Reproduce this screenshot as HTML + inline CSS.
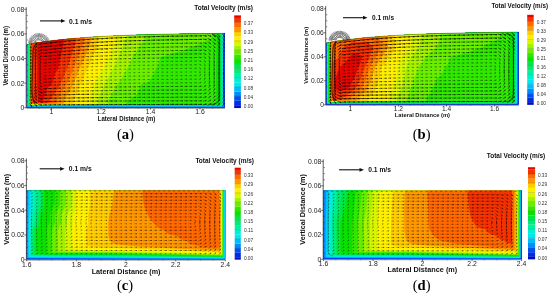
<!DOCTYPE html><html><head><meta charset="utf-8"><style>html,body{margin:0;padding:0;background:#fff;overflow:hidden}svg{display:block;filter:blur(0.35px)}</style></head><body><svg width="550" height="297" viewBox="0 0 550 297"><defs><clipPath id="cla"><polygon points="26.50,44.40 29.81,43.82 33.12,43.28 36.42,42.76 39.73,42.26 43.04,41.79 46.35,41.35 49.66,40.92 52.97,40.52 56.27,40.14 59.58,39.77 62.89,39.43 66.20,39.10 69.51,38.79 72.82,38.49 76.12,38.21 79.43,37.94 82.74,37.68 86.05,37.44 89.36,37.21 92.67,36.99 95.97,36.78 99.28,36.59 102.59,36.40 105.90,36.22 109.21,36.05 112.52,35.89 115.83,35.74 119.13,35.59 122.44,35.45 125.75,35.32 129.06,35.19 132.37,35.08 135.68,34.96 138.98,34.86 142.29,34.75 145.60,34.66 148.91,34.56 152.22,34.48 155.53,34.39 158.83,34.31 162.14,34.24 165.45,34.17 168.76,34.10 172.07,34.04 175.38,33.97 178.68,33.92 181.99,33.86 185.30,33.81 188.61,33.76 191.92,33.71 195.22,33.67 198.53,33.62 201.84,33.58 205.15,33.54 208.46,33.51 211.77,33.47 215.07,33.44 218.38,33.41 221.69,33.38 225.00,33.35 225.00,107.80 26.50,107.80"/></clipPath><clipPath id="clb"><polygon points="326.00,42.95 329.21,42.38 332.43,41.85 335.64,41.34 338.85,40.86 342.07,40.40 345.28,39.97 348.49,39.56 351.71,39.16 354.92,38.79 358.13,38.43 361.35,38.10 364.56,37.78 367.77,37.47 370.99,37.18 374.20,36.91 377.41,36.64 380.63,36.39 383.84,36.16 387.05,35.93 390.27,35.72 393.48,35.52 396.69,35.32 399.91,35.14 403.12,34.97 406.33,34.80 409.55,34.64 412.76,34.49 415.97,34.35 419.19,34.22 422.40,34.09 425.61,33.97 428.83,33.85 432.04,33.74 435.25,33.64 438.47,33.54 441.68,33.44 444.89,33.35 448.11,33.27 451.32,33.19 454.53,33.11 457.75,33.03 460.96,32.97 464.17,32.90 467.39,32.84 470.60,32.78 473.81,32.72 477.03,32.67 480.24,32.61 483.45,32.56 486.67,32.52 489.88,32.47 493.09,32.43 496.31,32.39 499.52,32.35 502.73,32.32 505.95,32.28 509.16,32.25 512.37,32.22 515.59,32.19 518.80,32.16 518.80,104.80 326.00,104.80"/></clipPath><clipPath id="clc"><polygon points="26.70,190.00 30.01,190.00 33.32,190.00 36.63,190.00 39.94,190.00 43.25,190.00 46.56,190.00 49.87,190.00 53.18,190.00 56.49,190.00 59.80,190.00 63.11,190.00 66.42,190.00 69.73,190.00 73.04,190.00 76.35,190.00 79.66,190.00 82.97,190.00 86.28,190.00 89.59,190.00 92.90,190.00 96.21,190.00 99.52,190.00 102.83,190.00 106.14,190.00 109.45,190.00 112.76,190.00 116.07,190.00 119.38,190.00 122.69,190.00 126.00,190.00 129.31,190.00 132.62,190.00 135.93,190.00 139.24,190.00 142.55,190.00 145.86,190.00 149.17,190.00 152.48,190.00 155.79,190.00 159.10,190.00 162.41,190.00 165.72,190.00 169.03,190.00 172.34,190.00 175.65,190.00 178.96,190.00 182.27,190.00 185.58,190.00 188.89,190.00 192.20,190.00 195.51,190.00 198.82,190.00 202.13,190.00 205.44,190.00 208.75,190.00 212.06,190.00 215.37,190.00 218.68,190.00 221.99,190.00 225.30,190.00 225.30,259.60 26.70,259.60"/></clipPath><clipPath id="cld"><polygon points="323.50,190.60 326.81,190.60 330.11,190.60 333.42,190.60 336.72,190.60 340.02,190.60 343.33,190.60 346.63,190.60 349.94,190.60 353.25,190.60 356.55,190.60 359.86,190.60 363.16,190.60 366.46,190.60 369.77,190.60 373.07,190.60 376.38,190.60 379.69,190.60 382.99,190.60 386.29,190.60 389.60,190.60 392.90,190.60 396.21,190.60 399.51,190.60 402.82,190.60 406.12,190.60 409.43,190.60 412.73,190.60 416.04,190.60 419.34,190.60 422.65,190.60 425.95,190.60 429.26,190.60 432.56,190.60 435.87,190.60 439.17,190.60 442.48,190.60 445.78,190.60 449.09,190.60 452.39,190.60 455.70,190.60 459.00,190.60 462.31,190.60 465.61,190.60 468.92,190.60 472.22,190.60 475.53,190.60 478.83,190.60 482.14,190.60 485.44,190.60 488.75,190.60 492.05,190.60 495.36,190.60 498.66,190.60 501.97,190.60 505.27,190.60 508.58,190.60 511.88,190.60 515.19,190.60 518.49,190.60 521.80,190.60 521.80,259.30 323.50,259.30"/></clipPath></defs><rect width="550" height="297" fill="#fff"/><g clip-path="url(#cla)" fill-rule="evenodd"><rect x="26.0" y="31.8" width="199.5" height="76.5" fill="#000ac8"/><path fill="#002de1" d="M26.5 31.8l198.5 0 0 75.5-1.5 .4-196.5 0-.5-.4 0-.5z"/><path fill="#0050f0" d="M26.8 31.8l197.6 0 0 75-.4 .5-1 0-196-.1z"/><path fill="#008cfa" d="M27.2 31.8l196.7 0-.2 75-196.2 .2-.3-1.2z"/><path fill="#00befa" d="M27.5 31.8l195.9 0-.1 74.5-1.3 .3-194 0-.5-.3 0-.5z"/><path fill="#00e6f5" d="M27.8 31.8l195.2 0 0 74-1 .5-194 0-.2-1z"/><path fill="#00f0d2" d="M28 31.8l194.6 0 0 74-1.1 .3-193 0-.5-.3 0-.5z"/><path fill="#00f0a5" d="M28.2 31.8l194.2 0 0 73.5-.3 .5-.6 .1-193 0-.2-.6z"/><path fill="#00ec78" d="M28.5 31.8l193.6 0 0 73.5-4.1 .4-189 0-.5-.4z"/><path fill="#00e846" d="M28.8 31.8l192.6 0-.1 73.5-192.3 .2-.2-.7z"/><path fill="#0ae100" d="M29 31.8l190.7 0 0 73-1.7 .4-5.5 .1-183 0-.5-.5z"/><path fill="#32e800" d="M29.3 31.8l187.4 0-.6 38 0 35-186.6 .2z"/><path fill="#69ee00" d="M29.6 31.8l182.6 0 0 3.5-.2 2.1-1 1.4-8 4.1-19.5 7.4-23.2 7-2.3 8.6-3 4.5-1.7 4.4-1.8 3.2-2 2.3-2 1.6-7.3 3.4-1.7 6.4-1.6 3.1-1.4 1.6-2.1 1.4-6.9 2.5-.1 4-1.7 .5-7.2 .1-87 .1-.8-.2-.1-.5z"/><path fill="#a5f200" d="M29.9 31.8l115.1 0 .3 .5 0 3-1.2 4-1.2 2.5-2.9 3.5-3.9 7-4.1 5-2.5 7.5-3.5 5.4-3.3 6.6-2.7 4-4 4.5-3.5 7.8-4.2 6.7-.2 4.5-14.1 .5-63.5 0-.6-.5z"/><path fill="#d7f600" d="M30.2 31.8l95.8 0 .1 3.5-.4 2.5-4.5 13-3.2 6.5-3 8-3 4.9-4.2 8.6-3.9 6.5-5.8 14.5-.1 4.5-58 .3-9 0-.8-.3z"/><path fill="#fff000" d="M30.5 31.8l86.5 0-.2 4-2 9-2.8 5-2.1 7-3.7 5-3.3 8-3.4 4.6-2.5 4.8-5.4 13.6-1.6 7-.1 4-1.1 .5-3.8 .1-54.5-.1z"/><path fill="#ffcd00" d="M30.9 31.8l68.1 0 .1 4-.5 4-3.1 11.5-1.4 3-2 3-2.6 8-3.4 5-2.3 8-1.4 3-2.4 4-2.6 8.5-1.7 3-2.4 3-.4 4-11.9 .4-30-.1z"/><path fill="#ff9800" d="M31.3 31.8l60.7 0-.1 4.5-2.1 9-4.7 11.5-6 13-6.3 15.5-3.8 7.3-4.8 7.2-.2 3.5-1.5 .5-2.5 .1-28.6-.1z"/><path fill="#ff6900" d="M31.6 31.8l53.4 0-.1 4.5-2.1 9-12.3 30.6-6 11.9-7.3 12-.3 3-.3 .5-16.6 .3-8 0-.3-.3z"/><path fill="#f53200" d="M32 31.8l44.9 0-.1 4.5-1.9 8.5-8.1 25.5-7.3 15.5-4.5 7.2-4.5 6.1-.5 1.2-.1 2-.4 .5-4 .4-11.5 0-1.5-.3-.4-.6z"/><path fill="#e40500" d="M37 31.8l27.3 0 0 4.5-.9 8.5-5.3 24.5-2.8 4-3.5 11-3.3 2.9-1.7 2.6-2.3 7-1.5 3-.3 2-2.2 .3-2.4-.3-.8-13z"/></g><g clip-path="url(#clb)" fill-rule="evenodd"><rect x="325.5" y="30.7" width="194.0" height="74.5" fill="#000ac8"/><path fill="#002de1" d="M326 30.7l193 0 0 73.5-1.5 .4-191 0-.5-.4 0-.5z"/><path fill="#0050f0" d="M326.3 30.7l191.9 0-.1 73.5-191.6 0z"/><path fill="#008cfa" d="M326.7 30.7l191 0-.1 73-1.1 .3-189.5 0-.3-.8z"/><path fill="#00befa" d="M327 30.7l190.1 0 0 72.5-1.1 .5-188.5 0-.5-.5z"/><path fill="#00e6f5" d="M327.2 30.7l189.5 0 0 72.5-189.2 .1-.2-.6z"/><path fill="#00f0d2" d="M327.5 30.7l188.9 0 0 72-.4 .4-1 0-187 0-.5-.4z"/><path fill="#00f0a5" d="M327.8 30.7l188.4 0 0 72-2.2 .2-186 0-.2-.7z"/><path fill="#00ec78" d="M328 30.7l187.9 0 0 71.5-.3 .5-1.6 0-185.7 0-.3-.5z"/><path fill="#00e846" d="M328.3 30.7l186.9 0 0 71.5-7.7 .3-179-.1-.2-.7z"/><path fill="#0ae100" d="M328.5 30.7l185 0-.1 71.5-184.9 0z"/><path fill="#32e800" d="M328.8 30.7l181.6 0-.8 35.5 0 35.5-3.6 .3-31 .1-146 0z"/><path fill="#69ee00" d="M329.1 30.7l170.9 0 0 6.5-.5 1-5 2.9-13.7 6.6-21.2 7-9.1 2.5-.5 .5-1.7 5.5-1.3 2-2 2.2-2.6 5.8-2.2 2.5-3.9 2.5-1.6 6.5-2.4 3.5-1.7 5-1.1 1.4-2.1 1.6-1.2 4-.7 1-.9 .5-94.6 .3-.9-.3 0-.5z"/><path fill="#a5f200" d="M329.4 30.7l110.6 0 .2 7-2 5.5-2 3.5-5.2 5.8-5.9 4.7-2.9 5.5-4 4.5-2 6.5-2.2 4.8-1.5 5.2-2.3 4.5-1.2 5.2-2.5 7.8-.9 .5-7.1 .1-68.5 0-.6-.1 0-.5z"/><path fill="#d7f600" d="M329.7 30.7l91.3 0 .1 7.5-1.8 7-3.6 7-4.7 5.1-2.3 5.4-2.6 4.5-2 10.5-1.2 4.5-2.9 9.1-3.7 9.9-8.3 .4-58 0-.3-.4z"/><path fill="#fff000" d="M330 30.7l82 0-.1 7-2 10-4.6 5-5.9 10-1.6 5-1 10-1.7 4.5-1.2 5.5-2.5 4-3.5 9.5-53.4 .2-4.5-.2z"/><path fill="#ffcd00" d="M330.4 30.7l64.6 0 .1 16.5-.3 1.5-2.8 4.8-3.8 3.7-1.6 4-1.5 2.5-3.8 3.5-1.2 7.5-2.8 11-3.3 6.7-1.4 1.8-2.5 2-1.4 3-1.2 1.5-3.5 .5-33.5 0z"/><path fill="#ff9800" d="M330.9 30.7l57.1 0-.2 17.5-12.5 18.5-4.2 14-3.2 7.5-3.4 4.3-4.5 3.7-2.6 4-.8 .5-22.1 .3-3 0-.6-.3z"/><path fill="#ff6900" d="M331.4 30.7l48.6 0-.1 7 .9 10.5-10.6 18.5-5.7 15.5-2.4 5.5-4 4-6.1 4.5-2 2.5-1.6 1.5-13.9 .4-2.5 0-.7-.4z"/><path fill="#f53200" d="M364.1 41.7l1.9-.1 2 .6 5 5 .4 1-2 3-1.6 6-4.3 8.5-4.6 12.5-3.4 7.1-1.4 2.4-1.5 1.5-8.6 6.7-3 1.6-2.3 1.7-2.7 .6-4 .1-1.3-.2-.5-4.5-.1-20 .1-10 .3-2.6 .4-.9 6.7-4.5 2.4-8.8 3.9-3.2 3.6-2 2.5-.9z"/><path fill="#e40500" d="M354.5 53.7l1.5-.5 2.5 .9 3 1.7 1.1 1.4-1.5 3-2 6.5-1.8 3.5-2.3 7.5-2.7 3.5-2.3 4.8-1.1 1.7-7.9 3.5-4-1-1.5-1-.7-1.5 .6-9 3.6-11 5.5-4.7 5-6.3 2.5-1.9z"/></g><g clip-path="url(#clc)" fill-rule="evenodd"><rect x="26.2" y="188.5" width="199.5" height="71.5" fill="#000ac8"/><path fill="#002de1" d="M26.2 188.5l199.5 0 0 70.9-199.5-.1z"/><path fill="#0050f0" d="M26.2 188.5l199.5 0 0 70.6-199.5-.3z"/><path fill="#008cfa" d="M26.2 189l.5-.5 199 0 0 70-1.5 .4-195.5-.6-2.2-.3-.3-1.5z"/><path fill="#00befa" d="M28.1 188.5l196.8 0-.2 70-196.5-.8-.5-.2-.1-1.5z"/><path fill="#00e6f5" d="M29.5 188.5l195 0 0 69.5-.8 .3-113.5-.9-79.5-.1-2-.3-.2-26.5 1-25.5z"/><path fill="#00f0d2" d="M31.1 188.5l193.1 0 0 69.1-1 .3-113-1-80.5-.4-.2-26.5 .6-8 .1-7.5 .9-9.5z"/><path fill="#00f0a5" d="M34 188.5l190 0-.2 69-113.6-1.1-79.3-.4-.3-1 0-25 1.4-8 .1-7.5 1.9-9.5z"/><path fill="#00ec78" d="M38 188.5l185.7 0 0 68.5-1 .3-112.5-1.4-77.8-.4-.4-1 0-24.5 .9-4 1.5-4 .3-8 1.3-4.5 1.9-4.5z"/><path fill="#00e846" d="M41 188.5l182.4 0 0 68-.2 .5-.5 0-112.5-1.7-76-.3-.5-.5-.1-1 0-23.5 3.4-8 .1-7 3.9-10z"/><path fill="#0ae100" d="M44.1 188.5l179.1 0-.1 67.5-.3 .5-.6 0-112-1.9-62-.2-8.5-.3-3-.5-.4-1.6 0-21.5 1.9-2.5 1.1-2.5 .9-3.5 .1-7 2.3-3.5 1.5-6z"/><path fill="#32e800" d="M54.9 188.5l168 0-.2 67.4-112.5-2.2-58-.3-4.6-.4-.6-.5-.2-1 .1-21.5 1.3-4.5 1.6-3.5 .1-6.5 .6-2.5 1.7-4.3 2.5-3.7z"/><path fill="#69ee00" d="M60 188.5l162.6 0 0 66.5-.4 .5-1 0-111-2.6-52.5-.3-3.5-.2-1.9-.4-.3-1.5 .1-20.5 2.9-8 .1-7 4.9-10z"/><path fill="#a5f200" d="M66 188.5l156.3 0-.1 66.5-112-2.8-45-.2-6.7-.5-.5-1.5 .1-20 2.9-8 .1-7 4.8-10z"/><path fill="#d7f600" d="M72 188.5l149.9 0-.1 66-108.6-2.9-41-.3-6-.4-.9-.4-.2-1.5-.1-19 2-8 .1-7 4.8-10z"/><path fill="#fff000" d="M76.1 188.5l145.4 0 0 62.5-.3 2.9-105.5-3.3-31-.3-6.5-.4-4.1-.9-1.2-1-.7-1.9-.1-15.6 1-8 .1-7.1 1.8-3.9 1.2-6.5z"/><path fill="#ffcd00" d="M90.1 188.5l130.9 0 0 61-.3 2.5-1.5 .2-122-5-6-.5-3.4-.7-1.2-1-.4-1.5-.1-13 1.9-8 .1-7.5 2-10z"/><path fill="#ff9800" d="M114 188.5l106.3 0 0 59-.3 3-.8 .3-7.9-.3-72.2-4-17.4-1.5-6.6-1-3.2-1-2.2-2.3-1.4-4.7-.1-14 1-7 1.6-4.5 1.3-5.5z"/><path fill="#ff6900" d="M142 188.5l76.9 0 0 55.5-.2 3-.4 1-.6 .5-1.5 .1-11.5-.7-4.1-.9-3.4-1.5-6-1.3-2.4-1.2-2.1-2-4-.9-2.8-1.1-3.2-3-5.5-1.2-3-1.1-2-1.3-2.5-2.5-4-1.5-3-1.8-6.7-7.6-4.4-8.5-1.7-6-1.4-9.5z"/></g><g clip-path="url(#cld)" fill-rule="evenodd"><rect x="323.0" y="189.1" width="199.5" height="70.5" fill="#000ac8"/><path fill="#002de1" d="M323 189.1l199 0 0 69.5-.5 .5-1 .1-197.5-.2z"/><path fill="#0050f0" d="M323 189.1l198.4 0-.1 69.5-1.3 .2-197-.3z"/><path fill="#008cfa" d="M323 189.6l.5-.5 197.4 0 0 69-.9 .4-193.5-.5-3.1-.4-.4-1.5z"/><path fill="#00befa" d="M325.9 189.6l.1-.5 194.5 0-.1 69-194.4-.7-.5-.3-.1-1 0-34z"/><path fill="#00e6f5" d="M327 189.1l193.3 0-.1 68.5-.7 .3-192.5-1.2-.4-.6 0-12 0-22 .6-32z"/><path fill="#00f0d2" d="M331 189.6l0-.5 189 0 0 68.2-.5 .3-109.5-1.1-77.5-.1-3.7-.3-.3-1 0-33 1.5-12.5z"/><path fill="#00f0a5" d="M334 189.6l0-.5 185.8 0-.1 68-109.7-1.1-75-.1-3.8-.3-.2-1 0-32.5 1.5-12.5z"/><path fill="#00ec78" d="M337 189.1l182.7 0-.1 67.5-.6 .3-109-1.4-71.5-.1-5.1-.3-.3-1.5 0-31.5 2-12.5z"/><path fill="#00e846" d="M342 189.1l177.4 0 0 67-.4 .5-109-1.6-67.5-.1-6-.3-.4-1.5 0-31 3-12.5z"/><path fill="#0ae100" d="M348 189.1l171.2 0-.2 67-109-1.8-59.5-.2-6.5-.3-3-.4-.6-.3-.2-1 .1-30 1.7-3.6 1.2-3.9 3.3-14.5z"/><path fill="#32e800" d="M356 189.6l0-.5 162.9 0 0 66-.4 .5-.5 0-108-2.2-51.5-.2-4-.2-2-.4-.5-.5-.1-1 0-29 2.1-12.5z"/><path fill="#69ee00" d="M362 189.6l0-.5 156.6 0-.1 65.8-108.5-2.3-46-.3-4-.2-1.5-.3-.3-.2-.2-1 0-28.5 2-12.5z"/><path fill="#a5f200" d="M368 189.6l0-.5 150.2 0 0 65-.2 .4-1 .1-107-2.7-41.5-.2-4.3-.6-.2-29 1.9-12z"/><path fill="#d7f600" d="M373 189.1l144.7 0-.2 65-107.5-2.9-33.6-.1-5.5-.5-.6-.5-.2-2-.1-26z"/><path fill="#fff000" d="M380 189.1l137.1 0-.1 63.8-.5 .5-1 0-102.5-3.1-23-.2-7.4-.5-3.6-.9-1.2-1.1-.6-2-.1-23 1-12.5 1.3-11z"/><path fill="#ffcd00" d="M393 189.6l0-.5 123.3 0-.2 62-1.1 .5-4.5-.2-109-4.4-5.6-.4-3.8-1-.7-1-.3-2-.1-20z"/><path fill="#ff9800" d="M405 189.1l110.3 0 0 57.5-.3 3.3-1 .3-3-.1-78.4-4-16.8-1.5-6.4-1.5-3.1-2.5-1.2-5-.9-5.5-.1-20z"/><path fill="#ff6900" d="M427.1 189.1l86.9 0 0 54.5-.1 3-.4 1.3-1.5 .4-13.1-.7-35.7-3-10.9-1.5-7.8-1.5-4.1-1-2.4-1.1-4.9-3.9-1.6-3-2.3-3-1-8-.1-12z"/><path fill="#f53200" d="M467.3 189.1l44.7 0 0 51.5-.6 2.5-.9 .4-2.5-.3-1.5-.8-1.5-1.5-4.5-1.3-2-1.5-1.5-2.2-6.7-1.8-2.3-1.6-2.3-2.9-7.2-2-2-1.3-1.5-1.5-3.6-6.2-1.4-4.5-1.9-13z"/></g><g clip-path="url(#cla)"><path d="M118.6 83.4l3.0 -0.0M123.3 83.3l3.0 -0.0M128.0 83.3l2.9 -0.0M132.7 83.2l2.9 -0.0M137.4 83.2l2.9 -0.0M142.2 83.1l2.9 -0.0M146.9 83.1l2.9 -0.0M151.6 83.0l2.9 -0.0M156.3 83.0l2.9 -0.0M161.0 83.0l2.9 -0.0M165.7 82.9l2.9 -0.0M170.4 82.9l2.8 -0.0M175.1 82.9l2.8 -0.0M179.8 82.8l2.8 -0.0M184.5 82.8l2.8 -0.0M189.2 82.8l2.8 -0.0M193.9 82.8l2.8 -0.0M198.6 83.1l2.7 -0.7M203.8 83.9l1.8 -2.4M95.1 80.4l3.0 -0.0M99.8 80.3l2.9 -0.0M104.6 80.2l2.9 -0.0M109.3 80.1l2.8 -0.0M114.0 80.0l2.8 -0.0M118.7 79.9l2.8 -0.0M123.4 79.8l2.7 -0.0M128.1 79.8l2.7 -0.0M132.8 79.7l2.7 -0.0M137.6 79.6l2.7 -0.0M142.3 79.6l2.7 -0.0M147.0 79.5l2.7 -0.0M151.7 79.5l2.6 -0.0M156.4 79.4l2.6 -0.0M161.1 79.4l2.6 -0.0M165.8 79.4l2.6 -0.0M170.5 79.3l2.6 -0.0M175.2 79.3l2.6 -0.0M179.9 79.3l2.6 -0.0M184.6 79.2l2.6 -0.0M189.3 79.2l2.6 -0.0M194.0 79.2l2.6 -0.0M198.8 79.8l2.3 -1.2M204.2 80.5l0.9 -2.7M71.6 77.6l3.0 -0.0M76.3 77.5l2.9 -0.0M81.1 77.3l2.8 -0.0M85.8 77.2l2.8 -0.0M90.5 77.0l2.8 -0.0M95.2 76.9l2.7 -0.0M100.0 76.8l2.7 -0.0M104.7 76.7l2.6 -0.0M109.4 76.6l2.6 -0.0M114.1 76.5l2.5 -0.0M118.8 76.4l2.5 -0.0M123.6 76.3l2.5 -0.0M128.3 76.2l2.5 -0.0M133.0 76.1l2.4 -0.0M137.7 76.1l2.4 -0.0M142.4 76.0l2.4 -0.0M147.1 76.0l2.4 -0.0M151.8 75.9l2.4 -0.0M156.5 75.9l2.4 -0.0M161.2 75.8l2.4 -0.0M165.9 75.8l2.3 -0.0M170.6 75.7l2.3 -0.0M175.3 75.7l2.3 -0.0M180.0 75.7l2.3 -0.0M184.7 75.6l2.3 -0.0M189.4 75.6l2.3 -0.0M194.1 75.6l2.3 -0.0M199.4 76.6l1.2 -2.1M204.6 76.9l0.3 -2.8M48.1 75.5l3.0 -0.0M52.8 75.2l2.9 -0.0M57.6 74.9l2.9 -0.0M62.3 74.7l2.8 -0.0M67.0 74.5l2.7 -0.0M71.8 74.3l2.6 -0.0M76.5 74.1l2.6 -0.0M81.3 73.9l2.5 -0.0M86.0 73.7l2.4 -0.0M90.7 73.6l2.4 -0.0M95.4 73.4l2.4 -0.0M100.1 73.3l2.3 -0.0M104.9 73.2l2.3 -0.0M109.6 73.1l2.2 -0.0M114.3 73.0l2.2 -0.0M119.0 72.9l2.2 -0.0M123.7 72.8l2.1 -0.0M128.5 72.7l2.1 -0.0M133.2 72.6l2.1 -0.0M137.9 72.5l2.0 -0.0M142.6 72.5l2.0 -0.0M147.3 72.4l2.0 -0.0M152.0 72.3l2.0 -0.0M156.7 72.3l2.0 -0.0M161.4 72.2l2.0 -0.0M166.1 72.2l1.9 -0.0M170.8 72.1l1.9 -0.0M175.5 72.1l1.9 -0.0M180.2 72.1l1.9 -0.0M185.0 72.0l1.9 -0.0M189.7 72.0l1.9 0.0M194.4 72.0l1.9 0.0M200.0 70.7l0.0 2.4M204.7 70.5l0.0 2.8M43.6 72.5l2.6 -0.0M48.4 72.2l2.5 -0.0M53.1 71.9l2.4 0.0M57.8 71.6l2.5 0.0M62.4 71.4l2.5 0.0M67.1 71.1l2.5 0.0M71.9 70.9l2.5 0.0M76.6 70.7l2.5 0.0M81.3 70.5l2.4 0.0M86.0 70.3l2.4 0.0M90.7 70.1l2.4 0.0M95.4 70.0l2.4 0.0M100.1 69.8l2.4 0.0M104.8 69.7l2.4 0.0M109.5 69.6l2.4 0.0M114.2 69.5l2.4 0.0M118.9 69.3l2.4 0.0M123.6 69.2l2.3 0.0M128.3 69.2l2.3 0.0M133.0 69.1l2.3 0.0M137.7 69.0l2.3 0.0M142.4 68.9l2.3 0.0M147.1 68.8l2.3 0.0M151.8 68.8l2.3 0.0M156.5 68.7l2.3 0.0M161.2 68.7l2.3 0.0M165.9 68.6l2.3 0.0M170.6 68.5l2.3 0.0M175.3 68.5l2.3 0.0M180.0 68.5l2.3 0.0M184.7 68.4l2.3 0.0M189.4 68.4l2.3 0.0M194.1 68.3l2.3 0.0M199.5 67.2l1.1 2.2M204.6 66.9l0.3 2.8M43.5 69.3l2.9 0.0M48.1 69.0l2.9 0.0M52.8 68.6l2.9 0.0M57.5 68.3l3.0 0.0M62.2 68.0l3.0 0.0M66.9 67.8l2.9 0.0M71.7 67.5l2.9 0.0M76.4 67.3l2.9 0.0M81.1 67.1l2.8 0.0M85.8 66.9l2.8 0.0M90.5 66.7l2.8 0.0M95.2 66.5l2.8 0.0M99.9 66.4l2.8 0.0M104.6 66.2l2.7 0.0M109.3 66.1l2.7 0.0M114.1 66.0l2.7 0.0M118.8 65.8l2.7 0.0M123.5 65.7l2.6 0.0M128.2 65.6l2.6 0.0M132.9 65.5l2.6 0.0M137.6 65.4l2.6 0.0M142.3 65.3l2.6 0.0M147.0 65.3l2.6 0.0M151.7 65.2l2.6 0.0M156.4 65.1l2.6 0.0M161.1 65.1l2.6 0.0M165.8 65.0l2.6 0.0M170.5 65.0l2.6 0.0M175.2 64.9l2.6 0.0M179.9 64.9l2.6 0.0M184.6 64.8l2.6 0.0M189.3 64.8l2.6 0.0M194.0 64.7l2.6 0.0M198.9 64.0l2.3 1.3M204.3 63.3l0.9 2.7M109.2 62.6l3.0 0.0M113.9 62.4l3.0 0.0M118.6 62.3l2.9 0.0M123.4 62.2l2.9 0.0M128.1 62.1l2.9 0.0M132.8 62.0l2.9 0.0M137.5 61.9l2.9 0.0M142.2 61.8l2.8 0.0M146.9 61.7l2.8 0.0M151.6 61.6l2.8 0.0M156.3 61.6l2.8 0.0M161.0 61.5l2.8 0.0M165.7 61.4l2.8 0.0M170.4 61.4l2.8 0.0M175.1 61.3l2.8 0.0M179.8 61.3l2.8 0.0M184.5 61.2l2.8 0.0M189.2 61.2l2.8 0.0M193.9 61.1l2.8 0.0M198.6 60.7l2.7 0.8M203.9 59.8l1.6 2.5" stroke="#000" stroke-width="0.90" stroke-opacity="0.33" stroke-linecap="butt" fill="none"/><path d="M120.2 83.4l1.2 -0.0M124.9 83.3l1.2 -0.0M129.6 83.3l1.2 -0.0M134.3 83.2l1.2 -0.0M139.0 83.2l1.2 -0.0M143.7 83.1l1.2 -0.0M148.4 83.1l1.2 -0.0M153.1 83.0l1.1 -0.0M157.8 83.0l1.1 -0.0M162.5 83.0l1.1 -0.0M167.2 82.9l1.1 -0.0M171.9 82.9l1.1 -0.0M176.6 82.9l1.1 -0.0M181.3 82.8l1.1 -0.0M186.0 82.8l1.1 -0.0M190.7 82.8l1.1 -0.0M195.4 82.8l1.1 -0.0M200.1 82.7l1.1 -0.3M204.8 82.6l0.7 -1.0M96.7 80.4l1.2 -0.0M101.4 80.3l1.2 -0.0M106.1 80.2l1.2 -0.0M110.8 80.1l1.1 -0.0M115.5 80.0l1.1 -0.0M120.2 79.9l1.1 -0.0M124.9 79.8l1.1 -0.0M129.6 79.8l1.1 -0.0M134.3 79.7l1.1 -0.0M139.0 79.6l1.1 -0.0M143.7 79.6l1.1 -0.0M148.4 79.5l1.1 -0.0M153.1 79.5l1.1 -0.0M157.8 79.4l1.1 -0.0M162.5 79.4l1.1 -0.0M167.2 79.4l1.0 -0.0M171.9 79.3l1.0 -0.0M176.6 79.3l1.0 -0.0M181.3 79.3l1.0 -0.0M186.0 79.2l1.0 -0.0M190.7 79.2l1.0 -0.0M195.4 79.2l1.0 -0.0M200.1 79.1l0.9 -0.5M204.7 79.0l0.4 -1.1M73.2 77.6l1.2 -0.0M77.9 77.5l1.2 -0.0M82.6 77.3l1.1 -0.0M87.3 77.2l1.1 -0.0M92.0 77.0l1.1 -0.0M96.7 76.9l1.1 -0.0M101.4 76.8l1.1 -0.0M106.1 76.7l1.1 -0.0M110.8 76.6l1.0 -0.0M115.5 76.5l1.0 -0.0M120.2 76.4l1.0 -0.0M124.9 76.3l1.0 -0.0M129.6 76.2l1.0 -0.0M134.3 76.1l1.0 -0.0M139.0 76.1l1.0 -0.0M143.7 76.0l1.0 -0.0M148.4 76.0l1.0 -0.0M153.1 75.9l1.0 -0.0M157.8 75.9l0.9 -0.0M162.5 75.8l0.9 -0.0M167.2 75.8l0.9 -0.0M171.9 75.7l0.9 -0.0M176.6 75.7l0.9 -0.0M181.3 75.7l0.9 -0.0M186.0 75.6l0.9 -0.0M190.7 75.6l0.9 -0.0M195.4 75.6l0.9 -0.0M200.1 75.4l0.5 -0.9M204.7 75.4l0.1 -1.1M49.7 75.5l1.2 -0.0M54.4 75.2l1.2 -0.0M59.1 74.9l1.1 -0.0M63.8 74.7l1.1 -0.0M68.5 74.5l1.1 -0.0M73.2 74.3l1.1 -0.0M77.9 74.1l1.0 -0.0M82.6 73.9l1.0 -0.0M87.3 73.7l1.0 -0.0M92.0 73.6l1.0 -0.0M96.7 73.4l0.9 -0.0M101.4 73.3l0.9 -0.0M106.1 73.2l0.9 -0.0M110.8 73.1l0.9 -0.0M115.5 73.0l0.9 -0.0M120.2 72.9l0.9 -0.0M124.9 72.8l0.8 -0.0M129.6 72.7l0.8 -0.0M134.3 72.6l0.8 -0.0M139.0 72.5l0.8 -0.0M143.7 72.5l0.8 -0.0M148.4 72.4l0.8 -0.0M153.1 72.3l0.8 -0.0M157.8 72.3l0.8 -0.0M162.5 72.2l0.8 -0.0M167.2 72.2l0.8 -0.0M171.9 72.1l0.8 -0.0M176.6 72.1l0.8 -0.0M181.3 72.1l0.8 -0.0M186.0 72.0l0.8 -0.0M190.7 72.0l0.8 0.0M195.4 72.0l0.8 0.0M200.0 72.0l0.0 0.9M204.7 72.0l0.0 1.1M45.0 72.5l1.0 -0.0M49.7 72.2l1.0 -0.0M54.4 71.9l1.0 0.0M59.1 71.6l1.0 0.0M63.8 71.4l1.0 0.0M68.5 71.1l1.0 0.0M73.2 70.9l1.0 0.0M77.9 70.7l1.0 0.0M82.6 70.5l1.0 0.0M87.3 70.3l1.0 0.0M92.0 70.1l1.0 0.0M96.7 70.0l1.0 0.0M101.4 69.8l1.0 0.0M106.1 69.7l1.0 0.0M110.8 69.6l1.0 0.0M115.5 69.5l0.9 0.0M120.2 69.3l0.9 0.0M124.9 69.2l0.9 0.0M129.6 69.2l0.9 0.0M134.3 69.1l0.9 0.0M139.0 69.0l0.9 0.0M143.7 68.9l0.9 0.0M148.4 68.8l0.9 0.0M153.1 68.8l0.9 0.0M157.8 68.7l0.9 0.0M162.5 68.7l0.9 0.0M167.2 68.6l0.9 0.0M171.9 68.5l0.9 0.0M176.6 68.5l0.9 0.0M181.3 68.5l0.9 0.0M186.0 68.4l0.9 0.0M190.7 68.4l0.9 0.0M195.4 68.3l0.9 0.0M200.1 68.4l0.4 0.9M204.7 68.4l0.1 1.1M45.0 69.3l1.1 0.0M49.7 69.0l1.2 0.0M54.4 68.6l1.2 0.0M59.1 68.3l1.2 0.0M63.8 68.0l1.2 0.0M68.5 67.8l1.2 0.0M73.2 67.5l1.2 0.0M77.9 67.3l1.1 0.0M82.6 67.1l1.1 0.0M87.3 66.9l1.1 0.0M92.0 66.7l1.1 0.0M96.7 66.5l1.1 0.0M101.4 66.4l1.1 0.0M106.1 66.2l1.1 0.0M110.8 66.1l1.1 0.0M115.5 66.0l1.1 0.0M120.2 65.8l1.1 0.0M124.9 65.7l1.1 0.0M129.6 65.6l1.1 0.0M134.3 65.5l1.0 0.0M139.0 65.4l1.0 0.0M143.7 65.3l1.0 0.0M148.4 65.3l1.0 0.0M153.1 65.2l1.0 0.0M157.8 65.1l1.0 0.0M162.5 65.1l1.0 0.0M167.2 65.0l1.0 0.0M171.9 65.0l1.0 0.0M176.6 64.9l1.0 0.0M181.3 64.9l1.0 0.0M186.0 64.8l1.0 0.0M190.7 64.8l1.0 0.0M195.4 64.7l1.0 0.0M200.1 64.8l0.9 0.5M204.7 64.8l0.3 1.1M110.8 62.6l1.2 0.0M115.5 62.4l1.2 0.0M120.2 62.3l1.2 0.0M124.9 62.2l1.2 0.0M129.6 62.1l1.2 0.0M134.3 62.0l1.1 0.0M139.0 61.9l1.1 0.0M143.7 61.8l1.1 0.0M148.4 61.7l1.1 0.0M153.1 61.6l1.1 0.0M157.8 61.6l1.1 0.0M162.5 61.5l1.1 0.0M167.2 61.4l1.1 0.0M171.9 61.4l1.1 0.0M176.6 61.3l1.1 0.0M181.3 61.3l1.1 0.0M186.0 61.2l1.1 0.0M190.7 61.2l1.1 0.0M195.4 61.1l1.1 0.0M200.1 61.1l1.1 0.3M204.8 61.2l0.7 1.0" stroke="#000" stroke-width="1.20" stroke-opacity="0.30" stroke-linecap="butt" fill="none"/><path d="M118.2 101.0l3.9 -0.0M122.9 101.0l3.8 -0.0M127.6 101.0l3.8 -0.0M132.3 100.9l3.8 -0.0M137.0 100.9l3.8 -0.0M141.7 100.9l3.8 -0.0M146.4 100.9l3.8 -0.0M151.1 100.9l3.8 -0.0M155.8 100.9l3.8 -0.0M160.5 100.9l3.8 -0.0M165.2 100.9l3.8 -0.0M169.9 100.8l3.8 -0.0M174.6 100.8l3.8 -0.0M179.3 100.8l3.8 -0.0M184.0 100.8l3.8 -0.0M188.7 100.8l3.8 -0.0M193.4 100.8l3.8 -0.0M198.1 100.9l3.8 -0.2M202.9 101.2l3.7 -0.9M207.7 101.7l3.4 -1.8M104.1 97.6l3.8 -0.0M108.8 97.5l3.8 -0.0M113.5 97.5l3.8 -0.0M118.2 97.5l3.7 -0.0M123.0 97.4l3.7 -0.0M127.7 97.4l3.7 -0.0M132.4 97.4l3.7 -0.0M137.1 97.4l3.7 -0.0M141.8 97.4l3.6 -0.0M146.5 97.3l3.6 -0.0M151.2 97.3l3.6 -0.0M155.9 97.3l3.6 -0.0M160.6 97.3l3.6 -0.0M165.3 97.3l3.6 -0.0M170.0 97.3l3.6 -0.0M174.7 97.2l3.6 -0.0M179.4 97.2l3.6 -0.0M184.1 97.2l3.6 -0.0M188.8 97.2l3.6 -0.0M193.5 97.2l3.6 -0.0M198.2 97.3l3.6 -0.2M203.0 97.7l3.5 -1.0M207.9 98.2l3.0 -2.1M212.9 98.7l2.4 -3.0M90.0 94.2l3.9 -0.0M94.7 94.2l3.8 -0.0M99.4 94.1l3.7 -0.0M104.2 94.1l3.7 -0.0M108.9 94.0l3.6 -0.0M113.6 94.0l3.6 -0.0M118.3 94.0l3.6 -0.0M123.0 93.9l3.5 -0.0M127.7 93.9l3.5 -0.0M132.5 93.9l3.5 -0.0M137.2 93.8l3.5 -0.0M141.9 93.8l3.5 -0.0M146.6 93.8l3.5 -0.0M151.3 93.8l3.5 -0.0M156.0 93.7l3.5 -0.0M160.7 93.7l3.5 -0.0M165.4 93.7l3.4 -0.0M170.1 93.7l3.4 -0.0M174.8 93.7l3.4 -0.0M179.5 93.6l3.4 -0.0M184.2 93.6l3.4 -0.0M188.9 93.6l3.4 -0.0M193.6 93.6l3.4 -0.0M198.3 93.7l3.4 -0.2M203.1 94.2l3.2 -1.3M208.1 94.8l2.6 -2.4M213.1 95.2l1.9 -3.2M71.2 91.1l3.9 -0.0M75.9 91.0l3.8 -0.0M80.6 91.0l3.8 -0.0M85.3 90.9l3.7 -0.0M90.1 90.8l3.7 -0.0M94.8 90.7l3.6 -0.0M99.5 90.7l3.6 -0.0M104.2 90.6l3.5 -0.0M109.0 90.5l3.5 -0.0M113.7 90.5l3.4 -0.0M118.4 90.4l3.4 -0.0M123.1 90.4l3.4 -0.0M127.8 90.4l3.3 -0.0M132.5 90.3l3.3 -0.0M137.3 90.3l3.3 -0.0M142.0 90.2l3.3 -0.0M146.7 90.2l3.3 -0.0M151.4 90.2l3.3 -0.0M156.1 90.2l3.3 -0.0M160.8 90.1l3.3 -0.0M165.5 90.1l3.3 -0.0M170.2 90.1l3.3 -0.0M174.9 90.1l3.3 -0.0M179.6 90.0l3.2 -0.0M184.3 90.0l3.2 -0.0M189.0 90.0l3.2 -0.0M193.7 90.0l3.2 -0.0M198.4 90.1l3.2 -0.3M203.3 90.7l2.9 -1.6M208.3 91.3l2.1 -2.7M213.4 91.6l1.5 -3.3M218.3 91.8l1.0 -3.7M61.8 88.0l3.9 -0.0M66.5 87.9l3.8 -0.0M71.3 87.8l3.7 -0.0M76.0 87.7l3.6 -0.0M80.7 87.6l3.6 -0.0M85.4 87.5l3.5 -0.0M90.2 87.4l3.5 -0.0M94.9 87.3l3.4 -0.0M99.6 87.2l3.4 -0.0M104.3 87.1l3.3 -0.0M109.1 87.1l3.3 -0.0M113.8 87.0l3.2 -0.0M118.5 86.9l3.2 -0.0M123.2 86.9l3.2 -0.0M127.9 86.8l3.2 -0.0M132.6 86.8l3.1 -0.0M137.3 86.7l3.1 -0.0M142.1 86.7l3.1 -0.0M146.8 86.6l3.1 -0.0M151.5 86.6l3.1 -0.0M156.2 86.6l3.1 -0.0M160.9 86.5l3.1 -0.0M165.6 86.5l3.1 -0.0M170.3 86.5l3.1 -0.0M175.0 86.5l3.1 -0.0M179.7 86.4l3.0 -0.0M184.4 86.4l3.0 -0.0M189.1 86.4l3.0 -0.0M193.8 86.4l3.0 -0.0M198.5 86.6l3.0 -0.4M203.5 87.3l2.4 -2.0M208.6 87.8l1.5 -3.0M213.6 88.0l1.0 -3.4M218.4 88.2l0.7 -3.7M43.0 85.4l3.9 -0.0M47.7 85.2l3.9 -0.0M52.4 85.0l3.8 -0.0M57.1 84.9l3.7 -0.0M61.9 84.7l3.6 -0.0M66.6 84.5l3.6 -0.0M71.4 84.4l3.5 -0.0M76.1 84.3l3.4 -0.0M80.8 84.1l3.3 -0.0M85.5 84.0l3.3 -0.0M90.3 83.9l3.3 -0.0M95.0 83.8l3.2 -0.0M99.7 83.7l3.2 -0.0M104.4 83.6l3.1 -0.0M109.2 83.6l3.1 -0.0M113.9 83.5l3.0 -0.0M208.9 84.3l1.0 -3.1M213.8 84.4l0.6 -3.5M218.6 84.6l0.4 -3.8M39.2 80.9l2.1 3.2M43.1 82.2l3.6 -0.0M47.8 82.0l3.6 -0.0M52.5 81.8l3.6 -0.0M57.3 81.6l3.5 -0.0M62.0 81.4l3.4 -0.0M66.7 81.2l3.3 -0.0M71.5 81.0l3.3 -0.0M76.2 80.9l3.2 -0.0M80.9 80.7l3.1 -0.0M85.7 80.6l3.1 -0.0M90.4 80.5l3.0 -0.0M209.2 80.7l0.5 -3.2M214.0 80.8l0.3 -3.5M218.7 80.9l0.2 -3.8M39.6 77.5l1.1 3.5M43.2 79.0l3.3 -0.0M47.9 78.7l3.3 -0.0M52.7 78.5l3.3 -0.0M57.4 78.2l3.2 -0.0M62.1 78.0l3.1 -0.0M66.9 77.8l3.1 -0.0M209.3 77.1l0.1 -3.2M214.1 77.2l0.1 -3.5M218.8 77.3l0.1 -3.8M40.0 74.3l0.4 3.5M43.4 75.8l3.0 -0.0M209.4 70.3l0.0 3.2M214.1 70.1l0.0 3.5M218.8 70.0l0.0 3.7M40.2 71.1l0.0 3.5M209.3 66.7l0.1 3.2M214.1 66.5l0.1 3.5M218.8 66.3l0.1 3.8M40.1 71.4l0.1 -3.5M209.2 63.1l0.4 3.2M214.0 62.9l0.3 3.5M218.7 62.7l0.2 3.8M39.9 68.3l0.6 -3.5M43.3 66.1l3.2 0.0M48.0 65.7l3.2 0.0M52.7 65.3l3.3 0.0M57.4 65.0l3.3 0.0M62.1 64.7l3.3 0.0M66.8 64.4l3.3 0.0M71.5 64.2l3.2 0.0M76.2 63.9l3.2 0.0M80.9 63.7l3.1 0.0M85.7 63.5l3.1 0.0M90.4 63.3l3.1 0.0M95.1 63.1l3.0 0.0M99.8 62.9l3.0 0.0M104.5 62.7l3.0 0.0M209.0 59.5l0.9 3.1M213.8 59.3l0.5 3.5M218.6 59.1l0.4 3.8M39.5 65.0l1.4 -3.4M43.1 62.9l3.5 0.0M47.8 62.5l3.5 0.0M52.5 62.1l3.6 0.0M57.2 61.7l3.6 0.0M61.9 61.4l3.6 0.0M66.6 61.1l3.5 0.0M71.4 60.8l3.5 0.0M76.1 60.5l3.4 0.0M80.8 60.3l3.4 0.0M85.5 60.0l3.4 0.0M90.2 59.8l3.3 0.0M95.0 59.6l3.3 0.0M99.7 59.4l3.3 0.0M104.4 59.3l3.3 0.0M109.1 59.1l3.2 0.0M113.8 58.9l3.2 0.0M118.5 58.8l3.2 0.0M123.2 58.7l3.1 0.0M127.9 58.6l3.1 0.0M132.7 58.4l3.1 0.0M137.4 58.3l3.1 0.0M142.1 58.2l3.1 0.0M146.8 58.1l3.1 0.0M151.5 58.1l3.0 0.0M156.2 58.0l3.0 0.0M160.9 57.9l3.0 0.0M165.6 57.8l3.0 0.0M170.3 57.8l3.0 0.0M175.0 57.7l3.0 0.0M179.7 57.7l3.0 0.0M184.4 57.6l3.0 0.0M189.1 57.6l3.0 0.0M193.8 57.5l3.0 0.0M198.5 57.2l3.0 0.5M203.6 56.4l2.3 2.1M208.7 55.9l1.4 3.0M213.6 55.6l0.9 3.5M218.5 55.5l0.6 3.7M39.1 61.7l2.2 -3.2M43.0 59.6l3.8 0.0M47.7 59.2l3.8 0.0M52.4 58.8l3.8 0.0M57.1 58.4l3.8 0.0M61.8 58.0l3.8 0.0M66.5 57.7l3.8 0.0M71.2 57.4l3.8 0.0M75.9 57.1l3.7 0.0M80.7 56.9l3.7 0.0M85.4 56.6l3.6 0.0M90.1 56.4l3.5 0.0M94.8 56.2l3.5 0.0M99.5 56.0l3.5 0.0M104.3 55.8l3.5 0.0M109.0 55.6l3.5 0.0M113.7 55.4l3.4 0.0M118.4 55.3l3.4 0.0M123.1 55.1l3.3 0.0M127.8 55.0l3.3 0.0M132.6 54.9l3.3 0.0M137.3 54.8l3.3 0.0M142.0 54.7l3.3 0.0M146.7 54.6l3.3 0.0M151.4 54.5l3.2 0.0M156.1 54.4l3.2 0.0M160.8 54.3l3.2 0.0M165.5 54.3l3.2 0.0M170.2 54.2l3.2 0.0M174.9 54.1l3.2 0.0M179.6 54.1l3.2 0.0M184.3 54.0l3.2 0.0M189.0 54.0l3.2 0.0M193.7 53.9l3.2 0.0M198.4 53.7l3.2 0.4M203.3 53.0l2.8 1.7M208.4 52.4l2.0 2.8M213.4 52.1l1.3 3.4M218.3 51.9l0.9 3.7M85.3 53.2l3.8 0.0M90.0 52.9l3.8 0.0M94.7 52.7l3.7 0.0M99.4 52.5l3.7 0.0M104.1 52.3l3.7 0.0M108.9 52.1l3.7 0.0M113.6 51.9l3.6 0.0M118.3 51.8l3.6 0.0M123.0 51.6l3.6 0.0M127.7 51.5l3.5 0.0M132.4 51.4l3.5 0.0M137.2 51.2l3.5 0.0M141.9 51.1l3.5 0.0M146.6 51.0l3.5 0.0M151.3 50.9l3.4 0.0M156.0 50.8l3.4 0.0M160.7 50.8l3.4 0.0M165.4 50.7l3.4 0.0M170.1 50.6l3.4 0.0M174.8 50.5l3.4 0.0M179.5 50.5l3.4 0.0M184.2 50.4l3.4 0.0M188.9 50.4l3.4 0.0M193.6 50.3l3.4 0.0M198.3 50.1l3.4 0.3M203.1 49.5l3.2 1.4M208.2 48.9l2.5 2.6M213.2 48.5l1.8 3.3M218.2 48.3l1.3 3.7M108.8 48.6l3.9 0.0M113.5 48.4l3.9 0.0M118.2 48.3l3.8 0.0M122.9 48.1l3.7 0.0M127.6 48.0l3.7 0.0M132.4 47.8l3.7 0.0M137.1 47.7l3.7 0.0M141.8 47.6l3.7 0.0M146.5 47.5l3.7 0.0M151.2 47.4l3.6 0.0M155.9 47.3l3.6 0.0M160.6 47.2l3.6 0.0M165.3 47.1l3.6 0.0M170.0 47.0l3.6 0.0M174.7 46.9l3.6 0.0M179.4 46.9l3.6 0.0M184.1 46.8l3.6 0.0M188.8 46.8l3.6 0.0M193.5 46.7l3.6 0.0M198.2 46.5l3.6 0.2M203.0 46.0l3.4 1.2M207.9 45.4l2.9 2.3M213.0 45.0l2.2 3.1M132.3 44.3l3.9 0.0M137.0 44.1l3.9 0.0M141.7 44.0l3.8 0.0M146.4 43.9l3.8 0.0M151.1 43.8l3.8 0.0M155.8 43.7l3.8 0.0M160.5 43.6l3.8 0.0M165.2 43.5l3.8 0.0M169.9 43.4l3.8 0.0M174.6 43.3l3.8 0.0M179.3 43.3l3.8 0.0M184.0 43.2l3.8 0.0M188.7 43.2l3.8 0.0M193.4 43.1l3.8 0.0M198.1 43.0l3.8 0.2M202.9 42.5l3.7 1.0M207.8 41.9l3.3 2.0" stroke="#000" stroke-width="0.90" stroke-opacity="0.48" stroke-linecap="butt" fill="none"/><path d="M120.3 101.0l1.6 -0.0M125.0 101.0l1.5 -0.0M129.7 101.0l1.5 -0.0M134.4 100.9l1.5 -0.0M139.1 100.9l1.5 -0.0M143.8 100.9l1.5 -0.0M148.5 100.9l1.5 -0.0M153.2 100.9l1.5 -0.0M157.9 100.9l1.5 -0.0M162.6 100.9l1.5 -0.0M167.3 100.9l1.5 -0.0M172.0 100.8l1.5 -0.0M176.7 100.8l1.5 -0.0M181.4 100.8l1.5 -0.0M186.1 100.8l1.5 -0.0M190.8 100.8l1.5 -0.0M195.5 100.8l1.5 -0.0M200.2 100.8l1.5 -0.1M204.9 100.8l1.5 -0.3M209.6 100.7l1.4 -0.7M106.2 97.6l1.5 -0.0M110.9 97.5l1.5 -0.0M115.6 97.5l1.5 -0.0M120.3 97.5l1.5 -0.0M125.0 97.4l1.5 -0.0M129.7 97.4l1.5 -0.0M134.4 97.4l1.5 -0.0M139.1 97.4l1.5 -0.0M143.8 97.4l1.5 -0.0M148.5 97.3l1.5 -0.0M153.2 97.3l1.5 -0.0M157.9 97.3l1.5 -0.0M162.6 97.3l1.5 -0.0M167.3 97.3l1.4 -0.0M172.0 97.3l1.4 -0.0M176.7 97.2l1.4 -0.0M181.4 97.2l1.4 -0.0M186.1 97.2l1.4 -0.0M190.8 97.2l1.4 -0.0M195.5 97.2l1.4 -0.0M200.2 97.2l1.4 -0.1M204.9 97.1l1.4 -0.4M209.6 97.1l1.2 -0.8M214.2 97.0l1.0 -1.2M92.1 94.2l1.5 -0.0M96.8 94.2l1.5 -0.0M101.5 94.1l1.5 -0.0M106.2 94.1l1.5 -0.0M110.9 94.0l1.5 -0.0M115.6 94.0l1.4 -0.0M120.3 94.0l1.4 -0.0M125.0 93.9l1.4 -0.0M129.7 93.9l1.4 -0.0M134.4 93.9l1.4 -0.0M139.1 93.8l1.4 -0.0M143.8 93.8l1.4 -0.0M148.5 93.8l1.4 -0.0M153.2 93.8l1.4 -0.0M157.9 93.7l1.4 -0.0M162.6 93.7l1.4 -0.0M167.3 93.7l1.4 -0.0M172.0 93.7l1.4 -0.0M176.7 93.7l1.4 -0.0M181.4 93.6l1.4 -0.0M186.1 93.6l1.4 -0.0M190.8 93.6l1.4 -0.0M195.5 93.6l1.4 -0.0M200.2 93.6l1.4 -0.1M204.9 93.5l1.3 -0.5M209.5 93.4l1.1 -1.0M214.2 93.4l0.8 -1.3M73.3 91.1l1.6 -0.0M78.0 91.0l1.5 -0.0M82.7 91.0l1.5 -0.0M87.4 90.9l1.5 -0.0M92.1 90.8l1.5 -0.0M96.8 90.7l1.5 -0.0M101.5 90.7l1.4 -0.0M106.2 90.6l1.4 -0.0M110.9 90.5l1.4 -0.0M115.6 90.5l1.4 -0.0M120.3 90.4l1.4 -0.0M125.0 90.4l1.3 -0.0M129.7 90.4l1.3 -0.0M134.4 90.3l1.3 -0.0M139.1 90.3l1.3 -0.0M143.8 90.2l1.3 -0.0M148.5 90.2l1.3 -0.0M153.2 90.2l1.3 -0.0M157.9 90.2l1.3 -0.0M162.6 90.1l1.3 -0.0M167.3 90.1l1.3 -0.0M172.0 90.1l1.3 -0.0M176.7 90.1l1.3 -0.0M181.4 90.0l1.3 -0.0M186.1 90.0l1.3 -0.0M190.8 90.0l1.3 -0.0M195.5 90.0l1.3 -0.0M200.2 90.0l1.3 -0.1M204.8 89.9l1.2 -0.6M209.5 89.8l0.8 -1.1M214.2 89.8l0.6 -1.3M218.9 89.7l0.4 -1.5M63.9 88.0l1.5 -0.0M68.6 87.9l1.5 -0.0M73.3 87.8l1.5 -0.0M78.0 87.7l1.4 -0.0M82.7 87.6l1.4 -0.0M87.4 87.5l1.4 -0.0M92.1 87.4l1.4 -0.0M96.8 87.3l1.4 -0.0M101.5 87.2l1.3 -0.0M106.2 87.1l1.3 -0.0M110.9 87.1l1.3 -0.0M115.6 87.0l1.3 -0.0M120.3 86.9l1.3 -0.0M125.0 86.9l1.3 -0.0M129.7 86.8l1.3 -0.0M134.4 86.8l1.3 -0.0M139.1 86.7l1.2 -0.0M143.8 86.7l1.2 -0.0M148.5 86.6l1.2 -0.0M153.2 86.6l1.2 -0.0M157.9 86.6l1.2 -0.0M162.6 86.5l1.2 -0.0M167.3 86.5l1.2 -0.0M172.0 86.5l1.2 -0.0M176.7 86.5l1.2 -0.0M181.4 86.4l1.2 -0.0M186.1 86.4l1.2 -0.0M190.8 86.4l1.2 -0.0M195.5 86.4l1.2 -0.0M200.2 86.3l1.2 -0.2M204.8 86.3l1.0 -0.8M209.5 86.2l0.6 -1.2M214.2 86.1l0.4 -1.4M218.8 86.1l0.3 -1.5M45.1 85.4l1.6 -0.0M49.8 85.2l1.5 -0.0M54.5 85.0l1.5 -0.0M59.2 84.9l1.5 -0.0M63.9 84.7l1.5 -0.0M68.6 84.5l1.4 -0.0M73.3 84.4l1.4 -0.0M78.0 84.3l1.4 -0.0M82.7 84.1l1.3 -0.0M87.4 84.0l1.3 -0.0M92.1 83.9l1.3 -0.0M96.8 83.8l1.3 -0.0M101.5 83.7l1.3 -0.0M106.2 83.6l1.2 -0.0M110.9 83.6l1.2 -0.0M115.6 83.5l1.2 -0.0M209.4 82.6l0.4 -1.2M214.1 82.5l0.2 -1.4M218.8 82.5l0.2 -1.5M40.3 82.6l0.8 1.3M45.1 82.2l1.5 -0.0M49.8 82.0l1.4 -0.0M54.5 81.8l1.4 -0.0M59.2 81.6l1.4 -0.0M63.9 81.4l1.4 -0.0M68.6 81.2l1.3 -0.0M73.3 81.0l1.3 -0.0M78.0 80.9l1.3 -0.0M82.7 80.7l1.2 -0.0M87.4 80.6l1.2 -0.0M92.1 80.5l1.2 -0.0M209.4 78.9l0.2 -1.3M214.1 78.9l0.1 -1.4M218.8 78.9l0.1 -1.5M40.3 79.4l0.5 1.4M45.1 79.0l1.3 -0.0M49.8 78.7l1.3 -0.0M54.5 78.5l1.3 -0.0M59.2 78.2l1.3 -0.0M63.9 78.0l1.3 -0.0M68.6 77.8l1.2 -0.0M209.4 75.3l0.1 -1.3M214.1 75.3l0.0 -1.4M218.8 75.3l0.0 -1.5M40.2 76.3l0.2 1.4M45.1 75.8l1.2 -0.0M209.4 72.0l0.0 1.3M214.1 72.0l0.0 1.4M218.8 72.0l0.0 1.5M40.2 73.1l0.0 1.4M209.4 68.4l0.1 1.3M214.1 68.4l0.0 1.4M218.8 68.4l0.0 1.5M40.2 69.5l0.1 -1.4M209.4 64.8l0.2 1.3M214.1 64.8l0.1 1.4M218.8 64.8l0.1 1.5M40.2 66.3l0.2 -1.4M45.1 66.1l1.3 0.0M49.8 65.7l1.3 0.0M54.5 65.3l1.3 0.0M59.2 65.0l1.3 0.0M63.9 64.7l1.3 0.0M68.6 64.4l1.3 0.0M73.3 64.2l1.3 0.0M78.0 63.9l1.3 0.0M82.7 63.7l1.2 0.0M87.4 63.5l1.2 0.0M92.1 63.3l1.2 0.0M96.8 63.1l1.2 0.0M101.5 62.9l1.2 0.0M106.2 62.7l1.2 0.0M209.4 61.2l0.3 1.3M214.1 61.2l0.2 1.4M218.8 61.2l0.2 1.5M40.3 63.1l0.5 -1.4M45.1 62.9l1.4 0.0M49.8 62.5l1.4 0.0M54.5 62.1l1.4 0.0M59.2 61.7l1.4 0.0M63.9 61.4l1.4 0.0M68.6 61.1l1.4 0.0M73.3 60.8l1.4 0.0M78.0 60.5l1.4 0.0M82.7 60.3l1.4 0.0M87.4 60.0l1.3 0.0M92.1 59.8l1.3 0.0M96.8 59.6l1.3 0.0M101.5 59.4l1.3 0.0M106.2 59.3l1.3 0.0M110.9 59.1l1.3 0.0M115.6 58.9l1.3 0.0M120.3 58.8l1.3 0.0M125.0 58.7l1.3 0.0M129.7 58.6l1.2 0.0M134.4 58.4l1.2 0.0M139.1 58.3l1.2 0.0M143.8 58.2l1.2 0.0M148.5 58.1l1.2 0.0M153.2 58.1l1.2 0.0M157.9 58.0l1.2 0.0M162.6 57.9l1.2 0.0M167.3 57.8l1.2 0.0M172.0 57.8l1.2 0.0M176.7 57.7l1.2 0.0M181.4 57.7l1.2 0.0M186.1 57.6l1.2 0.0M190.8 57.6l1.2 0.0M195.5 57.5l1.2 0.0M200.1 57.5l1.2 0.2M204.8 57.6l0.9 0.8M209.5 57.6l0.6 1.2M214.1 57.6l0.4 1.4M218.8 57.5l0.3 1.5M40.3 60.0l0.9 -1.3M45.1 59.6l1.5 0.0M49.8 59.2l1.5 0.0M54.5 58.8l1.5 0.0M59.2 58.4l1.5 0.0M63.9 58.0l1.5 0.0M68.6 57.7l1.5 0.0M73.3 57.4l1.5 0.0M78.0 57.1l1.5 0.0M82.7 56.9l1.5 0.0M87.4 56.6l1.4 0.0M92.1 56.4l1.4 0.0M96.8 56.2l1.4 0.0M101.5 56.0l1.4 0.0M106.2 55.8l1.4 0.0M110.9 55.6l1.4 0.0M115.6 55.4l1.4 0.0M120.3 55.3l1.4 0.0M125.0 55.1l1.3 0.0M129.7 55.0l1.3 0.0M134.4 54.9l1.3 0.0M139.1 54.8l1.3 0.0M143.8 54.7l1.3 0.0M148.5 54.6l1.3 0.0M153.2 54.5l1.3 0.0M157.9 54.4l1.3 0.0M162.6 54.3l1.3 0.0M167.3 54.3l1.3 0.0M172.0 54.2l1.3 0.0M176.7 54.1l1.3 0.0M181.4 54.1l1.3 0.0M186.1 54.0l1.3 0.0M190.8 54.0l1.3 0.0M195.5 53.9l1.3 0.0M200.2 53.9l1.3 0.1M204.8 53.9l1.1 0.7M209.5 53.9l0.8 1.1M214.2 53.9l0.5 1.4M218.8 53.9l0.4 1.5M87.4 53.2l1.5 0.0M92.1 52.9l1.5 0.0M96.8 52.7l1.5 0.0M101.5 52.5l1.5 0.0M106.2 52.3l1.5 0.0M110.9 52.1l1.5 0.0M115.6 51.9l1.5 0.0M120.3 51.8l1.4 0.0M125.0 51.6l1.4 0.0M129.7 51.5l1.4 0.0M134.4 51.4l1.4 0.0M139.1 51.2l1.4 0.0M143.8 51.1l1.4 0.0M148.5 51.0l1.4 0.0M153.2 50.9l1.4 0.0M157.9 50.8l1.4 0.0M162.6 50.8l1.4 0.0M167.3 50.7l1.4 0.0M172.0 50.6l1.4 0.0M176.7 50.5l1.4 0.0M181.4 50.5l1.4 0.0M186.1 50.4l1.4 0.0M190.8 50.4l1.4 0.0M195.5 50.3l1.4 0.0M200.2 50.3l1.4 0.1M204.9 50.3l1.3 0.6M209.5 50.3l1.0 1.0M214.2 50.3l0.7 1.3M218.9 50.3l0.5 1.5M110.9 48.6l1.6 0.0M115.6 48.4l1.5 0.0M120.3 48.3l1.5 0.0M125.0 48.1l1.5 0.0M129.7 48.0l1.5 0.0M134.4 47.8l1.5 0.0M139.1 47.7l1.5 0.0M143.8 47.6l1.5 0.0M148.5 47.5l1.5 0.0M153.2 47.4l1.5 0.0M157.9 47.3l1.5 0.0M162.6 47.2l1.5 0.0M167.3 47.1l1.4 0.0M172.0 47.0l1.4 0.0M176.7 46.9l1.4 0.0M181.4 46.9l1.4 0.0M186.1 46.8l1.4 0.0M190.8 46.8l1.4 0.0M195.5 46.7l1.4 0.0M200.2 46.7l1.4 0.1M204.9 46.7l1.4 0.5M209.5 46.7l1.2 0.9M214.2 46.7l0.9 1.3M134.4 44.3l1.6 0.0M139.1 44.1l1.5 0.0M143.8 44.0l1.5 0.0M148.5 43.9l1.5 0.0M153.2 43.8l1.5 0.0M157.9 43.7l1.5 0.0M162.6 43.6l1.5 0.0M167.3 43.5l1.5 0.0M172.0 43.4l1.5 0.0M176.7 43.3l1.5 0.0M181.4 43.3l1.5 0.0M186.1 43.2l1.5 0.0M190.8 43.2l1.5 0.0M195.5 43.1l1.5 0.0M200.2 43.1l1.5 0.1M204.9 43.0l1.5 0.4M209.6 43.1l1.3 0.8" stroke="#000" stroke-width="1.20" stroke-opacity="0.44" stroke-linecap="butt" fill="none"/><path d="M29.8 103.0l2.0 3.8M33.9 103.5l3.2 2.7M38.2 104.4l4.0 0.8M42.8 104.8l4.1 -0.0M47.5 104.8l4.1 -0.0M52.2 104.7l4.1 -0.0M56.9 104.7l4.1 -0.0M61.6 104.7l4.1 -0.0M66.3 104.7l4.1 -0.0M71.0 104.6l4.1 -0.0M75.7 104.6l4.1 -0.0M80.4 104.6l4.1 -0.0M85.0 104.6l4.4 -0.0M89.7 104.6l4.4 -0.0M94.4 104.6l4.3 -0.0M99.2 104.5l4.2 -0.0M103.9 104.5l4.2 -0.0M108.6 104.5l4.1 -0.0M113.4 104.5l4.1 -0.0M118.1 104.5l4.0 -0.0M122.8 104.5l4.0 -0.0M127.5 104.5l4.0 -0.0M132.2 104.5l4.0 -0.0M136.9 104.5l4.0 -0.0M141.6 104.5l4.0 -0.0M146.3 104.5l4.0 -0.0M151.0 104.5l4.0 -0.0M155.7 104.5l4.0 -0.0M160.4 104.4l4.0 -0.0M165.1 104.4l4.0 -0.0M169.8 104.4l4.0 -0.0M174.5 104.4l3.9 -0.0M179.2 104.4l3.9 -0.0M183.9 104.4l3.9 -0.0M188.6 104.4l3.9 -0.0M193.3 104.4l3.9 -0.0M198.0 104.5l3.9 -0.1M202.8 104.8l3.9 -0.7M207.6 105.2l3.7 -1.6M212.5 105.7l3.2 -2.5M217.5 106.0l2.5 -3.1M222.5 106.1l2.0 -3.5M29.8 99.6l2.0 4.4M33.7 99.9l3.5 3.6M37.8 101.0l4.9 1.2M42.4 101.6l5.0 -0.0M47.2 101.5l4.8 -0.0M51.9 101.4l4.7 -0.0M56.7 101.4l4.6 -0.0M61.4 101.3l4.6 -0.0M66.2 101.3l4.5 -0.0M70.9 101.3l4.4 -0.0M75.6 101.2l4.4 -0.0M80.3 101.2l4.3 -0.0M85.1 101.2l4.3 -0.0M89.8 101.1l4.2 -0.0M94.5 101.1l4.1 -0.0M99.3 101.1l4.1 -0.0M104.0 101.1l4.0 -0.0M108.7 101.0l4.0 -0.0M113.4 101.0l3.9 -0.0M212.7 102.2l2.8 -2.8M217.7 102.5l2.2 -3.3M222.7 102.6l1.7 -3.6M30.0 96.4l1.6 4.5M33.9 96.6l3.1 3.9M37.9 97.7l4.6 1.4M42.5 98.3l4.8 -0.0M47.3 98.2l4.7 -0.0M52.0 98.2l4.6 -0.0M56.8 98.1l4.5 -0.0M61.5 98.0l4.4 -0.0M66.2 98.0l4.3 -0.0M71.0 97.9l4.2 -0.0M75.7 97.8l4.2 -0.0M80.4 97.8l4.1 -0.0M85.1 97.7l4.1 -0.0M89.9 97.7l4.0 -0.0M94.6 97.6l4.0 -0.0M99.3 97.6l3.9 -0.0M217.9 98.9l1.8 -3.5M222.8 99.0l1.4 -3.8M30.1 93.2l1.3 4.5M34.2 93.3l2.6 4.1M38.0 94.4l4.3 1.6M42.6 95.1l4.6 -0.0M47.4 95.0l4.5 -0.0M52.1 94.9l4.4 -0.0M56.8 94.8l4.3 -0.0M61.6 94.7l4.2 -0.0M66.3 94.6l4.1 -0.0M71.1 94.5l4.1 -0.0M75.8 94.4l4.0 -0.0M80.5 94.4l4.0 -0.0M85.2 94.3l3.9 -0.0M218.1 95.4l1.4 -3.6M223.0 95.5l1.1 -3.9M30.3 90.1l1.0 4.5M34.5 90.1l2.1 4.2M38.2 91.1l4.0 1.9M42.7 91.9l4.3 -0.0M47.5 91.7l4.3 -0.0M52.2 91.6l4.2 -0.0M56.9 91.5l4.1 -0.0M61.7 91.4l4.0 -0.0M66.4 91.2l4.0 -0.0M223.1 91.9l0.8 -3.9M30.4 87.0l0.8 4.5M34.7 86.9l1.5 4.3M38.4 87.7l3.5 2.3M42.8 88.7l4.1 -0.0M47.6 88.5l4.1 -0.0M52.3 88.3l4.0 -0.0M57.0 88.2l3.9 -0.0M223.2 88.3l0.5 -4.0M30.5 83.9l0.5 4.5M35.0 83.7l1.1 4.3M38.8 84.3l2.9 2.8M223.3 84.7l0.3 -4.0M30.6 80.8l0.3 4.5M35.2 80.6l0.7 4.3M223.4 81.1l0.1 -4.0M30.7 77.7l0.2 4.5M35.3 77.4l0.4 4.3M223.5 77.4l0.0 -4.0M30.8 74.6l0.1 4.5M35.4 74.3l0.1 4.3M223.5 69.8l0.0 4.0M30.8 71.4l0.0 4.5M35.5 71.1l0.0 4.3M223.5 66.2l0.0 4.0M30.8 72.8l0.0 -4.5M35.5 72.2l0.0 -4.3M223.4 62.6l0.1 4.0M30.8 69.7l0.1 -4.5M35.4 69.1l0.1 -4.3M223.4 58.9l0.3 4.0M30.7 66.5l0.2 -4.5M35.3 65.9l0.4 -4.3M223.3 55.3l0.5 4.0M30.7 63.4l0.3 -4.5M35.2 62.8l0.6 -4.3M223.2 51.7l0.7 3.9M30.6 60.3l0.4 -4.5M35.0 59.6l1.0 -4.3M38.7 58.3l3.0 -2.8M42.9 56.4l4.0 0.0M47.6 55.9l4.0 0.0M52.3 55.5l4.1 0.0M57.0 55.1l4.1 0.0M61.7 54.7l4.1 0.0M66.4 54.4l4.1 0.0M71.1 54.0l4.0 0.0M75.8 53.7l3.9 0.0M80.5 53.4l3.9 0.0M223.0 48.1l1.0 3.9M30.5 57.2l0.6 -4.5M34.8 56.5l1.4 -4.3M38.4 54.9l3.5 -2.4M42.8 53.2l4.2 0.0M47.5 52.7l4.3 0.0M52.2 52.2l4.3 0.0M56.9 51.8l4.3 0.0M61.5 51.4l4.3 0.0M66.3 51.0l4.3 0.0M71.0 50.7l4.2 0.0M75.7 50.3l4.2 0.0M80.4 50.0l4.1 0.0M85.2 49.7l4.1 0.0M89.9 49.5l4.0 0.0M94.6 49.2l4.0 0.0M99.3 49.0l3.9 0.0M104.0 48.8l3.9 0.0M218.0 44.7l1.7 3.6M222.9 44.5l1.2 3.8M30.4 54.1l0.9 -4.5M34.6 53.3l1.9 -4.2M38.2 51.5l4.0 -2.0M42.7 50.0l4.4 0.0M47.4 49.4l4.5 0.0M52.1 48.9l4.5 0.0M56.7 48.5l4.5 0.0M61.4 48.1l4.5 0.0M66.1 47.7l4.5 0.0M70.9 47.3l4.5 0.0M75.6 46.9l4.4 0.0M80.3 46.6l4.4 0.0M85.1 46.3l4.3 0.0M89.8 46.0l4.2 0.0M94.5 45.8l4.2 0.0M99.2 45.5l4.1 0.0M103.9 45.3l4.1 0.0M108.7 45.1l4.1 0.0M113.4 44.9l4.1 0.0M118.1 44.7l4.0 0.0M122.8 44.6l3.9 0.0M127.5 44.4l3.9 0.0M212.8 41.4l2.6 2.9M217.8 41.1l2.0 3.5M222.7 41.0l1.5 3.7M30.2 51.0l1.1 -4.5M34.3 50.1l2.4 -4.1M38.0 48.2l4.3 -1.7M42.6 46.7l4.7 0.0M47.3 46.2l4.7 0.0M51.9 45.7l4.7 0.0M56.6 45.2l4.7 0.0M61.3 44.7l4.7 0.0M66.0 44.3l4.7 0.0M70.8 43.9l4.7 0.0M75.5 43.5l4.6 0.0M80.2 43.2l4.6 0.0M84.9 42.9l4.5 0.0M89.7 42.6l4.4 0.0M94.4 42.3l4.4 0.0M99.1 42.1l4.3 0.0M103.9 41.8l4.3 0.0M108.6 41.6l4.3 0.0M113.3 41.4l4.2 0.0M118.0 41.2l4.2 0.0M122.7 41.0l4.1 0.0M127.5 40.9l4.1 0.0M132.2 40.7l4.1 0.0M136.9 40.6l4.0 0.0M141.6 40.5l4.0 0.0M146.3 40.3l4.0 0.0M151.0 40.2l4.0 0.0M155.7 40.1l4.0 0.0M160.4 40.0l4.0 0.0M165.1 39.9l4.0 0.0M169.8 39.8l4.0 0.0M174.5 39.8l4.0 0.0M179.2 39.7l4.0 0.0M183.9 39.6l4.0 0.0M188.6 39.5l4.0 0.0M193.3 39.5l4.0 0.0M198.0 39.4l3.9 0.2M202.8 39.0l3.9 0.8M207.6 38.4l3.6 1.8M212.6 37.9l3.0 2.7M217.6 37.6l2.3 3.2M222.6 37.4l1.8 3.6M30.1 47.8l1.4 -4.5M34.1 46.8l2.9 -4.0M37.9 44.9l4.6 -1.4M42.5 43.5l4.9 0.0M47.2 42.9l4.9 0.0M51.8 42.4l4.9 0.0M56.5 41.9l4.9 0.0M61.2 41.4l4.9 0.0M65.9 40.9l4.9 0.0M70.7 40.5l4.9 0.0M75.4 40.2l4.8 0.0M80.1 39.8l4.8 0.0M84.8 39.5l4.7 0.0M89.6 39.2l4.6 0.0M94.3 38.9l4.5 0.0M99.1 38.6l4.5 0.0M103.8 38.4l4.5 0.0M108.5 38.1l4.5 0.0M113.2 37.9l4.4 0.0M117.9 37.7l4.4 0.0M122.6 37.5l4.3 0.0M127.4 37.3l4.3 0.0M132.1 37.2l4.2 0.0M136.8 37.0l4.2 0.0M141.5 36.9l4.2 0.0M146.2 36.8l4.2 0.0M150.9 36.6l4.2 0.0M155.6 36.5l4.2 0.0M160.3 36.4l4.2 0.0M165.0 36.3l4.2 0.0M169.7 36.2l4.2 0.0M174.4 36.2l4.2 0.0M179.1 36.1l4.2 0.0M183.8 36.0l4.2 0.0M188.5 35.9l4.1 0.0M193.2 35.9l4.1 0.0M197.9 35.8l4.1 0.1M202.7 35.4l4.1 0.7M207.5 34.9l3.8 1.6M212.5 34.4l3.3 2.4M217.5 34.1l2.6 3.0M222.5 33.9l2.1 3.4" stroke="#000" stroke-width="0.90" stroke-opacity="0.67" stroke-linecap="butt" fill="none"/><path d="M30.9 105.1l0.8 1.5M35.7 105.0l1.3 1.1M40.4 104.9l1.6 0.3M45.1 104.8l1.6 -0.0M49.8 104.8l1.6 -0.0M54.5 104.7l1.6 -0.0M59.2 104.7l1.6 -0.0M63.9 104.7l1.6 -0.0M68.6 104.7l1.6 -0.0M73.3 104.6l1.6 -0.0M78.0 104.6l1.6 -0.0M82.7 104.6l1.6 -0.0M87.4 104.6l1.8 -0.0M92.1 104.6l1.8 -0.0M96.8 104.6l1.7 -0.0M101.5 104.5l1.7 -0.0M106.2 104.5l1.7 -0.0M110.9 104.5l1.6 -0.0M115.6 104.5l1.6 -0.0M120.3 104.5l1.6 -0.0M125.0 104.5l1.6 -0.0M129.7 104.5l1.6 -0.0M134.4 104.5l1.6 -0.0M139.1 104.5l1.6 -0.0M143.8 104.5l1.6 -0.0M148.5 104.5l1.6 -0.0M153.2 104.5l1.6 -0.0M157.9 104.5l1.6 -0.0M162.6 104.4l1.6 -0.0M167.3 104.4l1.6 -0.0M172.0 104.4l1.6 -0.0M176.7 104.4l1.6 -0.0M181.4 104.4l1.6 -0.0M186.1 104.4l1.6 -0.0M190.8 104.4l1.6 -0.0M195.5 104.4l1.6 -0.0M200.2 104.4l1.6 -0.1M204.9 104.4l1.5 -0.3M209.6 104.3l1.5 -0.6M214.3 104.3l1.3 -1.0M218.9 104.3l1.0 -1.2M223.6 104.2l0.8 -1.4M30.9 102.0l0.8 1.8M35.7 101.9l1.4 1.4M40.4 101.7l1.9 0.5M45.1 101.6l2.0 -0.0M49.8 101.5l1.9 -0.0M54.5 101.4l1.9 -0.0M59.2 101.4l1.9 -0.0M63.9 101.3l1.8 -0.0M68.6 101.3l1.8 -0.0M73.3 101.3l1.8 -0.0M78.0 101.2l1.7 -0.0M82.7 101.2l1.7 -0.0M87.4 101.2l1.7 -0.0M92.1 101.1l1.7 -0.0M96.8 101.1l1.7 -0.0M101.5 101.1l1.6 -0.0M106.2 101.1l1.6 -0.0M110.9 101.0l1.6 -0.0M115.6 101.0l1.6 -0.0M214.2 100.7l1.1 -1.1M218.9 100.6l0.9 -1.3M223.6 100.6l0.7 -1.4M30.9 98.9l0.7 1.8M35.7 98.7l1.2 1.5M40.4 98.5l1.8 0.5M45.1 98.3l1.9 -0.0M49.8 98.2l1.9 -0.0M54.5 98.2l1.8 -0.0M59.2 98.1l1.8 -0.0M63.9 98.0l1.8 -0.0M68.6 98.0l1.7 -0.0M73.3 97.9l1.7 -0.0M78.0 97.8l1.7 -0.0M82.7 97.8l1.7 -0.0M87.4 97.7l1.6 -0.0M92.1 97.7l1.6 -0.0M96.8 97.6l1.6 -0.0M101.5 97.6l1.6 -0.0M218.9 97.0l0.7 -1.4M223.6 97.0l0.6 -1.5M30.9 95.7l0.5 1.8M35.6 95.6l1.0 1.6M40.4 95.3l1.7 0.6M45.1 95.1l1.8 -0.0M49.8 95.0l1.8 -0.0M54.5 94.9l1.8 -0.0M59.2 94.8l1.7 -0.0M63.9 94.7l1.7 -0.0M68.6 94.6l1.7 -0.0M73.3 94.5l1.6 -0.0M78.0 94.4l1.6 -0.0M82.7 94.4l1.6 -0.0M87.4 94.3l1.6 -0.0M218.9 93.4l0.6 -1.5M223.6 93.3l0.4 -1.5M30.9 92.6l0.4 1.8M35.6 92.4l0.8 1.7M40.4 92.1l1.6 0.8M45.1 91.9l1.7 -0.0M49.8 91.7l1.7 -0.0M54.5 91.6l1.7 -0.0M59.2 91.5l1.7 -0.0M63.9 91.4l1.6 -0.0M68.6 91.2l1.6 -0.0M223.5 89.7l0.3 -1.6M30.8 89.5l0.3 1.8M35.6 89.3l0.6 1.7M40.4 89.0l1.4 0.9M45.1 88.7l1.7 -0.0M49.8 88.5l1.6 -0.0M54.5 88.3l1.6 -0.0M59.2 88.2l1.6 -0.0M223.5 86.1l0.2 -1.6M30.8 86.4l0.2 1.8M35.6 86.1l0.4 1.7M40.3 85.8l1.2 1.1M223.5 82.5l0.1 -1.6M30.8 83.3l0.1 1.8M35.5 83.0l0.3 1.7M223.5 78.9l0.1 -1.6M30.8 80.1l0.1 1.8M35.5 79.8l0.1 1.7M223.5 75.2l0.0 -1.6M30.8 77.0l0.0 1.8M35.5 76.6l0.1 1.7M223.5 72.0l0.0 1.6M30.8 73.9l0.0 1.8M35.5 73.5l0.0 1.7M223.5 68.4l0.0 1.6M30.8 70.3l0.0 -1.8M35.5 69.9l0.0 -1.7M223.5 64.8l0.1 1.6M30.8 67.2l0.0 -1.8M35.5 66.7l0.1 -1.7M223.5 61.1l0.1 1.6M30.8 64.1l0.1 -1.8M35.5 63.6l0.1 -1.7M223.5 57.5l0.2 1.6M30.8 61.0l0.1 -1.8M35.5 60.4l0.3 -1.7M223.5 53.9l0.3 1.6M30.8 57.8l0.2 -1.8M35.6 57.3l0.4 -1.7M40.3 56.8l1.2 -1.1M45.1 56.4l1.6 0.0M49.8 55.9l1.6 0.0M54.5 55.5l1.6 0.0M59.2 55.1l1.6 0.0M63.9 54.7l1.6 0.0M68.6 54.4l1.6 0.0M73.3 54.0l1.6 0.0M78.0 53.7l1.6 0.0M82.7 53.4l1.6 0.0M223.5 50.3l0.4 1.6M30.8 54.7l0.3 -1.8M35.6 54.1l0.6 -1.7M40.4 53.6l1.4 -0.9M45.1 53.2l1.7 0.0M49.8 52.7l1.7 0.0M54.5 52.2l1.7 0.0M59.2 51.8l1.7 0.0M63.9 51.4l1.7 0.0M68.6 51.0l1.7 0.0M73.3 50.7l1.7 0.0M78.0 50.3l1.7 0.0M82.7 50.0l1.7 0.0M87.4 49.7l1.6 0.0M92.1 49.5l1.6 0.0M96.8 49.2l1.6 0.0M101.5 49.0l1.6 0.0M106.2 48.8l1.6 0.0M218.9 46.7l0.7 1.4M223.6 46.6l0.5 1.5M30.8 51.6l0.3 -1.8M35.6 50.9l0.8 -1.7M40.4 50.4l1.6 -0.8M45.1 50.0l1.8 0.0M49.8 49.4l1.8 0.0M54.5 48.9l1.8 0.0M59.2 48.5l1.8 0.0M63.9 48.1l1.8 0.0M68.6 47.7l1.8 0.0M73.3 47.3l1.8 0.0M78.0 46.9l1.8 0.0M82.7 46.6l1.7 0.0M87.4 46.3l1.7 0.0M92.1 46.0l1.7 0.0M96.8 45.8l1.7 0.0M101.5 45.5l1.7 0.0M106.2 45.3l1.6 0.0M110.9 45.1l1.6 0.0M115.6 44.9l1.6 0.0M120.3 44.7l1.6 0.0M125.0 44.6l1.6 0.0M129.7 44.4l1.6 0.0M214.2 43.1l1.1 1.2M218.9 43.0l0.8 1.4M223.6 43.0l0.6 1.5M30.9 48.5l0.4 -1.8M35.6 47.8l1.0 -1.7M40.4 47.3l1.7 -0.7M45.1 46.7l1.9 0.0M49.8 46.2l1.9 0.0M54.5 45.7l1.9 0.0M59.2 45.2l1.9 0.0M63.9 44.7l1.9 0.0M68.6 44.3l1.9 0.0M73.3 43.9l1.9 0.0M78.0 43.5l1.9 0.0M82.7 43.2l1.8 0.0M87.4 42.9l1.8 0.0M92.1 42.6l1.8 0.0M96.8 42.3l1.7 0.0M101.5 42.1l1.7 0.0M106.2 41.8l1.7 0.0M110.9 41.6l1.7 0.0M115.6 41.4l1.7 0.0M120.3 41.2l1.7 0.0M125.0 41.0l1.6 0.0M129.7 40.9l1.6 0.0M134.4 40.7l1.6 0.0M139.1 40.6l1.6 0.0M143.8 40.5l1.6 0.0M148.5 40.3l1.6 0.0M153.2 40.2l1.6 0.0M157.9 40.1l1.6 0.0M162.6 40.0l1.6 0.0M167.3 39.9l1.6 0.0M172.0 39.8l1.6 0.0M176.7 39.8l1.6 0.0M181.4 39.7l1.6 0.0M186.1 39.6l1.6 0.0M190.8 39.5l1.6 0.0M195.5 39.5l1.6 0.0M200.2 39.4l1.6 0.1M204.9 39.4l1.5 0.3M209.6 39.4l1.4 0.7M214.3 39.4l1.2 1.1M218.9 39.4l0.9 1.3M223.6 39.4l0.7 1.4M30.9 45.3l0.6 -1.8M35.6 44.6l1.1 -1.6M40.4 44.1l1.8 -0.6M45.1 43.5l1.9 0.0M49.8 42.9l2.0 0.0M54.5 42.4l2.0 0.0M59.2 41.9l2.0 0.0M63.9 41.4l2.0 0.0M68.6 40.9l2.0 0.0M73.3 40.5l2.0 0.0M78.0 40.2l1.9 0.0M82.7 39.8l1.9 0.0M87.4 39.5l1.9 0.0M92.1 39.2l1.8 0.0M96.8 38.9l1.8 0.0M101.5 38.6l1.8 0.0M106.2 38.4l1.8 0.0M110.9 38.1l1.8 0.0M115.6 37.9l1.8 0.0M120.3 37.7l1.7 0.0M125.0 37.5l1.7 0.0M129.7 37.3l1.7 0.0M134.4 37.2l1.7 0.0M139.1 37.0l1.7 0.0M143.8 36.9l1.7 0.0M148.5 36.8l1.7 0.0M153.2 36.6l1.7 0.0M157.9 36.5l1.7 0.0M162.6 36.4l1.7 0.0M167.3 36.3l1.7 0.0M172.0 36.2l1.7 0.0M176.7 36.2l1.7 0.0M181.4 36.1l1.7 0.0M186.1 36.0l1.7 0.0M190.8 35.9l1.7 0.0M195.5 35.9l1.7 0.0M200.2 35.8l1.6 0.1M204.9 35.8l1.6 0.3M209.6 35.8l1.5 0.6M214.3 35.8l1.3 1.0M218.9 35.8l1.0 1.2M223.6 35.8l0.8 1.4" stroke="#000" stroke-width="1.20" stroke-opacity="0.62" stroke-linecap="butt" fill="none"/></g><g clip-path="url(#clb)"><path d="M415.7 81.0l3.0 -0.0M420.3 80.9l3.0 -0.0M424.9 80.9l2.9 -0.0M429.5 80.8l2.9 -0.0M434.1 80.8l2.9 -0.0M438.7 80.7l2.9 -0.0M443.3 80.7l2.9 -0.0M447.8 80.6l2.9 -0.0M452.4 80.6l2.9 -0.0M457.0 80.6l2.9 -0.0M461.6 80.5l2.9 -0.0M466.2 80.5l2.8 -0.0M470.8 80.5l2.8 -0.0M475.3 80.5l2.8 -0.0M479.9 80.4l2.8 -0.0M484.5 80.4l2.8 -0.0M489.1 80.4l2.8 -0.0M493.7 80.7l2.7 -0.8M498.8 81.6l1.7 -2.5M397.4 77.9l3.0 -0.0M402.0 77.8l2.9 -0.0M406.6 77.7l2.8 -0.0M411.2 77.7l2.8 -0.0M415.8 77.6l2.8 -0.0M420.4 77.5l2.7 -0.0M425.0 77.4l2.7 -0.0M429.6 77.4l2.7 -0.0M434.2 77.3l2.7 -0.0M438.8 77.3l2.7 -0.0M443.4 77.2l2.7 -0.0M448.0 77.2l2.6 -0.0M452.5 77.1l2.6 -0.0M457.1 77.1l2.6 -0.0M461.7 77.0l2.6 -0.0M466.3 77.0l2.6 -0.0M470.9 77.0l2.6 -0.0M475.5 76.9l2.6 -0.0M480.0 76.9l2.6 -0.0M484.6 76.9l2.6 -0.0M489.2 76.9l2.6 -0.0M493.9 77.5l2.3 -1.3M499.2 78.2l0.9 -2.7M369.9 75.4l3.0 -0.0M374.6 75.2l2.9 -0.0M379.2 75.1l2.8 -0.0M383.8 74.9l2.8 -0.0M388.4 74.8l2.8 -0.0M393.0 74.6l2.7 -0.0M397.6 74.5l2.7 -0.0M402.2 74.4l2.6 -0.0M406.8 74.3l2.6 -0.0M411.4 74.2l2.5 -0.0M416.0 74.1l2.5 -0.0M420.6 74.1l2.5 -0.0M425.2 74.0l2.5 -0.0M429.7 73.9l2.4 -0.0M434.3 73.9l2.4 -0.0M438.9 73.8l2.4 -0.0M443.5 73.7l2.4 -0.0M448.1 73.7l2.4 -0.0M452.7 73.6l2.4 -0.0M457.3 73.6l2.4 -0.0M461.8 73.5l2.3 -0.0M466.4 73.5l2.3 -0.0M471.0 73.5l2.3 -0.0M475.6 73.4l2.3 -0.0M480.2 73.4l2.3 -0.0M484.8 73.4l2.3 -0.0M489.3 73.3l2.3 -0.0M494.5 74.4l1.1 -2.2M499.5 74.7l0.3 -2.8M347.0 73.3l3.0 -0.0M351.6 73.0l3.0 -0.0M356.2 72.7l2.9 -0.0M360.9 72.5l2.8 -0.0M365.5 72.3l2.7 -0.0M370.1 72.1l2.6 -0.0M374.7 71.9l2.6 -0.0M379.3 71.7l2.5 -0.0M383.9 71.6l2.4 -0.0M388.5 71.4l2.4 -0.0M393.1 71.3l2.4 -0.0M397.7 71.1l2.3 -0.0M402.3 71.0l2.3 -0.0M406.9 70.9l2.2 -0.0M411.6 70.8l2.2 -0.0M416.1 70.7l2.1 -0.0M420.7 70.6l2.1 -0.0M425.3 70.5l2.1 -0.0M429.9 70.5l2.1 -0.0M434.5 70.4l2.0 -0.0M439.1 70.3l2.0 -0.0M443.7 70.3l2.0 -0.0M448.3 70.2l2.0 -0.0M452.9 70.1l2.0 -0.0M457.5 70.1l2.0 -0.0M462.0 70.0l2.0 -0.0M466.6 70.0l1.9 -0.0M471.2 70.0l1.9 -0.0M475.8 69.9l1.9 -0.0M480.4 69.9l1.9 -0.0M485.0 69.9l1.9 -0.0M489.6 69.8l1.9 -0.0M495.1 71.0l0.0 -2.4M499.7 68.4l0.0 2.8M342.8 69.8l2.3 1.2M347.3 70.1l2.5 -0.0M351.9 69.8l2.4 0.0M356.4 69.5l2.5 0.0M361.0 69.3l2.5 0.0M365.6 69.0l2.5 0.0M370.2 68.8l2.5 0.0M374.8 68.6l2.4 0.0M379.4 68.4l2.4 0.0M384.0 68.2l2.4 0.0M388.5 68.1l2.4 0.0M393.1 67.9l2.4 0.0M397.7 67.8l2.4 0.0M402.3 67.6l2.4 0.0M406.9 67.5l2.4 0.0M411.5 67.4l2.3 0.0M416.1 67.3l2.3 0.0M420.6 67.2l2.3 0.0M425.2 67.1l2.3 0.0M429.8 67.0l2.3 0.0M434.4 66.9l2.3 0.0M439.0 66.8l2.3 0.0M443.6 66.8l2.3 0.0M448.1 66.7l2.3 0.0M452.7 66.7l2.3 0.0M457.3 66.6l2.3 0.0M461.9 66.5l2.3 0.0M466.5 66.5l2.3 0.0M471.0 66.5l2.3 0.0M475.6 66.4l2.3 0.0M480.2 66.4l2.3 0.0M484.8 66.3l2.3 0.0M489.4 66.3l2.3 0.0M494.6 65.2l0.9 2.2M499.5 64.8l0.2 2.8M342.5 67.3l2.8 -0.2M347.1 66.9l2.9 0.0M351.6 66.6l2.9 0.0M356.2 66.3l3.0 0.0M360.8 66.0l2.9 0.0M365.4 65.7l2.9 0.0M370.0 65.5l2.9 0.0M374.6 65.3l2.8 0.0M379.2 65.1l2.8 0.0M383.8 64.9l2.8 0.0M388.4 64.7l2.8 0.0M392.9 64.5l2.7 0.0M397.5 64.4l2.7 0.0M402.1 64.2l2.7 0.0M406.7 64.1l2.7 0.0M411.3 64.0l2.7 0.0M415.9 63.9l2.6 0.0M420.5 63.7l2.6 0.0M425.1 63.6l2.6 0.0M429.7 63.5l2.6 0.0M434.2 63.5l2.6 0.0M438.8 63.4l2.6 0.0M443.4 63.3l2.6 0.0M448.0 63.2l2.6 0.0M452.6 63.2l2.6 0.0M457.2 63.1l2.6 0.0M461.7 63.1l2.6 0.0M466.3 63.0l2.6 0.0M470.9 62.9l2.6 0.0M475.5 62.9l2.6 0.0M480.1 62.9l2.6 0.0M484.6 62.8l2.6 0.0M489.2 62.8l2.6 0.0M494.0 62.0l2.2 1.5M499.3 61.3l0.8 2.8M402.0 60.8l3.0 0.0M406.6 60.7l2.9 0.0M411.2 60.5l2.9 0.0M415.8 60.4l2.9 0.0M420.4 60.3l2.9 0.0M425.0 60.2l2.9 0.0M429.5 60.1l2.8 0.0M434.1 60.0l2.8 0.0M438.7 59.9l2.8 0.0M443.3 59.8l2.8 0.0M447.9 59.8l2.8 0.0M452.5 59.7l2.8 0.0M457.0 59.6l2.8 0.0M461.6 59.6l2.8 0.0M466.2 59.5l2.8 0.0M470.8 59.4l2.8 0.0M475.4 59.4l2.8 0.0M479.9 59.3l2.8 0.0M484.5 59.3l2.8 0.0M489.1 59.3l2.8 0.0M493.7 58.8l2.7 0.9M498.9 57.9l1.5 2.6M484.4 55.8l3.0 0.0M489.0 55.7l3.0 0.0" stroke="#000" stroke-width="0.90" stroke-opacity="0.36" stroke-linecap="butt" fill="none"/><path d="M417.4 81.0l1.2 -0.0M421.9 80.9l1.2 -0.0M426.5 80.9l1.2 -0.0M431.1 80.8l1.2 -0.0M435.7 80.8l1.2 -0.0M440.3 80.7l1.2 -0.0M444.8 80.7l1.2 -0.0M449.4 80.6l1.1 -0.0M454.0 80.6l1.1 -0.0M458.6 80.6l1.1 -0.0M463.2 80.5l1.1 -0.0M467.7 80.5l1.1 -0.0M472.3 80.5l1.1 -0.0M476.9 80.5l1.1 -0.0M481.5 80.4l1.1 -0.0M486.1 80.4l1.1 -0.0M490.6 80.4l1.1 -0.0M495.2 80.3l1.1 -0.3M499.7 80.2l0.7 -1.0M399.0 77.9l1.2 -0.0M403.6 77.8l1.2 -0.0M408.2 77.7l1.1 -0.0M412.8 77.7l1.1 -0.0M417.4 77.6l1.1 -0.0M421.9 77.5l1.1 -0.0M426.5 77.4l1.1 -0.0M431.1 77.4l1.1 -0.0M435.7 77.3l1.1 -0.0M440.3 77.3l1.1 -0.0M444.8 77.2l1.1 -0.0M449.4 77.2l1.1 -0.0M454.0 77.1l1.1 -0.0M458.6 77.1l1.1 -0.0M463.2 77.0l1.0 -0.0M467.7 77.0l1.0 -0.0M472.3 77.0l1.0 -0.0M476.9 76.9l1.0 -0.0M481.5 76.9l1.0 -0.0M486.0 76.9l1.0 -0.0M490.6 76.9l1.0 -0.0M495.2 76.8l0.9 -0.5M499.7 76.7l0.4 -1.1M371.6 75.4l1.2 -0.0M376.1 75.2l1.2 -0.0M380.7 75.1l1.1 -0.0M385.3 74.9l1.1 -0.0M389.9 74.8l1.1 -0.0M394.5 74.6l1.1 -0.0M399.0 74.5l1.1 -0.0M403.6 74.4l1.0 -0.0M408.2 74.3l1.0 -0.0M412.8 74.2l1.0 -0.0M417.3 74.1l1.0 -0.0M421.9 74.1l1.0 -0.0M426.5 74.0l1.0 -0.0M431.1 73.9l1.0 -0.0M435.7 73.9l1.0 -0.0M440.2 73.8l1.0 -0.0M444.8 73.7l1.0 -0.0M449.4 73.7l0.9 -0.0M454.0 73.6l0.9 -0.0M458.6 73.6l0.9 -0.0M463.1 73.5l0.9 -0.0M467.7 73.5l0.9 -0.0M472.3 73.5l0.9 -0.0M476.9 73.4l0.9 -0.0M481.5 73.4l0.9 -0.0M486.0 73.4l0.9 -0.0M490.6 73.3l0.9 -0.0M495.1 73.2l0.4 -0.9M499.7 73.2l0.1 -1.1M348.7 73.3l1.2 -0.0M353.2 73.0l1.2 -0.0M357.8 72.7l1.2 -0.0M362.4 72.5l1.1 -0.0M367.0 72.3l1.1 -0.0M371.6 72.1l1.1 -0.0M376.1 71.9l1.0 -0.0M380.7 71.7l1.0 -0.0M385.3 71.6l1.0 -0.0M389.9 71.4l1.0 -0.0M394.4 71.3l0.9 -0.0M399.0 71.1l0.9 -0.0M403.6 71.0l0.9 -0.0M408.2 70.9l0.9 -0.0M412.7 70.8l0.9 -0.0M417.3 70.7l0.9 -0.0M421.9 70.6l0.8 -0.0M426.5 70.5l0.8 -0.0M431.1 70.5l0.8 -0.0M435.6 70.4l0.8 -0.0M440.2 70.3l0.8 -0.0M444.8 70.3l0.8 -0.0M449.4 70.2l0.8 -0.0M454.0 70.1l0.8 -0.0M458.5 70.1l0.8 -0.0M463.1 70.0l0.8 -0.0M467.7 70.0l0.8 -0.0M472.3 70.0l0.8 -0.0M476.9 69.9l0.8 -0.0M481.4 69.9l0.8 -0.0M486.0 69.9l0.8 -0.0M490.6 69.8l0.8 -0.0M495.1 69.7l0.0 -0.9M499.7 69.9l0.0 1.1M344.1 70.5l0.9 0.5M348.6 70.1l1.0 -0.0M353.2 69.8l1.0 0.0M357.8 69.5l1.0 0.0M362.4 69.3l1.0 0.0M367.0 69.0l1.0 0.0M371.5 68.8l1.0 0.0M376.1 68.6l1.0 0.0M380.7 68.4l1.0 0.0M385.3 68.2l1.0 0.0M389.9 68.1l1.0 0.0M394.4 67.9l1.0 0.0M399.0 67.8l1.0 0.0M403.6 67.6l1.0 0.0M408.2 67.5l0.9 0.0M412.8 67.4l0.9 0.0M417.3 67.3l0.9 0.0M421.9 67.2l0.9 0.0M426.5 67.1l0.9 0.0M431.1 67.0l0.9 0.0M435.7 66.9l0.9 0.0M440.2 66.8l0.9 0.0M444.8 66.8l0.9 0.0M449.4 66.7l0.9 0.0M454.0 66.7l0.9 0.0M458.6 66.6l0.9 0.0M463.1 66.5l0.9 0.0M467.7 66.5l0.9 0.0M472.3 66.5l0.9 0.0M476.9 66.4l0.9 0.0M481.5 66.4l0.9 0.0M486.0 66.3l0.9 0.0M490.6 66.3l0.9 0.0M495.1 66.4l0.4 0.9M499.7 66.4l0.1 1.1M344.1 67.2l1.1 -0.1M348.7 66.9l1.2 0.0M353.2 66.6l1.2 0.0M357.8 66.3l1.2 0.0M362.4 66.0l1.2 0.0M367.0 65.7l1.2 0.0M371.6 65.5l1.1 0.0M376.1 65.3l1.1 0.0M380.7 65.1l1.1 0.0M385.3 64.9l1.1 0.0M389.9 64.7l1.1 0.0M394.5 64.5l1.1 0.0M399.0 64.4l1.1 0.0M403.6 64.2l1.1 0.0M408.2 64.1l1.1 0.0M412.8 64.0l1.1 0.0M417.4 63.9l1.1 0.0M421.9 63.7l1.0 0.0M426.5 63.6l1.0 0.0M431.1 63.5l1.0 0.0M435.7 63.5l1.0 0.0M440.2 63.4l1.0 0.0M444.8 63.3l1.0 0.0M449.4 63.2l1.0 0.0M454.0 63.2l1.0 0.0M458.6 63.1l1.0 0.0M463.1 63.1l1.0 0.0M467.7 63.0l1.0 0.0M472.3 62.9l1.0 0.0M476.9 62.9l1.0 0.0M481.5 62.9l1.0 0.0M486.0 62.8l1.0 0.0M490.6 62.8l1.0 0.0M495.2 62.8l0.9 0.6M499.7 62.9l0.3 1.1M403.6 60.8l1.2 0.0M408.2 60.7l1.2 0.0M412.8 60.5l1.2 0.0M417.4 60.4l1.2 0.0M421.9 60.3l1.1 0.0M426.5 60.2l1.1 0.0M431.1 60.1l1.1 0.0M435.7 60.0l1.1 0.0M440.3 59.9l1.1 0.0M444.8 59.8l1.1 0.0M449.4 59.8l1.1 0.0M454.0 59.7l1.1 0.0M458.6 59.6l1.1 0.0M463.2 59.6l1.1 0.0M467.7 59.5l1.1 0.0M472.3 59.4l1.1 0.0M476.9 59.4l1.1 0.0M481.5 59.3l1.1 0.0M486.1 59.3l1.1 0.0M490.6 59.3l1.1 0.0M495.2 59.3l1.1 0.3M499.7 59.3l0.6 1.0M486.1 55.8l1.2 0.0M490.6 55.7l1.2 0.0" stroke="#000" stroke-width="1.20" stroke-opacity="0.33" stroke-linecap="butt" fill="none"/><path d="M419.9 98.1l3.9 -0.0M424.5 98.1l3.8 -0.0M429.0 98.1l3.8 -0.0M433.6 98.1l3.8 -0.0M438.2 98.1l3.8 -0.0M442.8 98.1l3.8 -0.0M447.4 98.1l3.8 -0.0M452.0 98.0l3.8 -0.0M456.5 98.0l3.8 -0.0M461.1 98.0l3.8 -0.0M465.7 98.0l3.8 -0.0M470.3 98.0l3.8 -0.0M474.9 98.0l3.8 -0.0M479.5 98.0l3.8 -0.0M484.0 98.0l3.8 -0.0M488.6 98.0l3.8 -0.0M493.2 98.1l3.7 -0.2M497.8 98.4l3.7 -0.9M502.6 98.9l3.3 -1.9M401.5 94.8l3.9 -0.0M406.2 94.8l3.8 -0.0M410.8 94.8l3.8 -0.0M415.3 94.7l3.7 -0.0M419.9 94.7l3.7 -0.0M424.5 94.7l3.7 -0.0M429.1 94.7l3.7 -0.0M433.7 94.6l3.7 -0.0M438.3 94.6l3.7 -0.0M442.9 94.6l3.6 -0.0M447.5 94.6l3.6 -0.0M452.0 94.6l3.6 -0.0M456.6 94.5l3.6 -0.0M461.2 94.5l3.6 -0.0M465.8 94.5l3.6 -0.0M470.4 94.5l3.6 -0.0M475.0 94.5l3.6 -0.0M479.5 94.5l3.6 -0.0M484.1 94.5l3.6 -0.0M488.7 94.5l3.6 -0.0M493.3 94.6l3.6 -0.2M497.9 95.0l3.5 -1.1M502.7 95.5l3.0 -2.2M507.6 95.9l2.3 -3.0M392.4 91.5l3.8 -0.0M397.0 91.5l3.8 -0.0M401.6 91.4l3.7 -0.0M406.2 91.4l3.6 -0.0M410.8 91.3l3.6 -0.0M415.4 91.3l3.6 -0.0M420.0 91.3l3.5 -0.0M424.6 91.2l3.5 -0.0M429.2 91.2l3.5 -0.0M433.8 91.2l3.5 -0.0M438.4 91.1l3.5 -0.0M443.0 91.1l3.5 -0.0M447.5 91.1l3.5 -0.0M452.1 91.1l3.5 -0.0M456.7 91.1l3.4 -0.0M461.3 91.0l3.4 -0.0M465.9 91.0l3.4 -0.0M470.5 91.0l3.4 -0.0M475.0 91.0l3.4 -0.0M479.6 91.0l3.4 -0.0M484.2 91.0l3.4 -0.0M488.8 90.9l3.4 -0.0M493.4 91.1l3.4 -0.3M498.1 91.6l3.2 -1.3M503.0 92.2l2.6 -2.5M507.9 92.5l1.9 -3.2M369.5 88.5l3.9 -0.0M374.1 88.5l3.8 -0.0M378.7 88.4l3.8 -0.0M383.3 88.3l3.8 -0.0M387.9 88.2l3.7 -0.0M392.5 88.1l3.7 -0.0M397.1 88.1l3.6 -0.0M401.7 88.0l3.5 -0.0M406.3 88.0l3.5 -0.0M410.9 87.9l3.4 -0.0M415.5 87.9l3.4 -0.0M420.1 87.8l3.4 -0.0M424.7 87.8l3.3 -0.0M429.3 87.7l3.3 -0.0M433.9 87.7l3.3 -0.0M438.5 87.7l3.3 -0.0M443.1 87.6l3.3 -0.0M447.6 87.6l3.3 -0.0M452.2 87.6l3.3 -0.0M456.8 87.6l3.3 -0.0M461.4 87.5l3.3 -0.0M466.0 87.5l3.3 -0.0M470.6 87.5l3.2 -0.0M475.1 87.5l3.2 -0.0M479.7 87.5l3.2 -0.0M484.3 87.4l3.2 -0.0M488.9 87.4l3.2 -0.0M493.5 87.6l3.2 -0.4M498.2 88.2l2.9 -1.6M503.2 88.8l2.1 -2.8M508.1 89.1l1.4 -3.4M512.9 89.2l1.0 -3.7M360.3 85.5l3.9 -0.0M365.0 85.4l3.8 -0.0M369.6 85.3l3.7 -0.0M374.2 85.1l3.6 -0.0M378.8 85.0l3.6 -0.0M383.4 84.9l3.5 -0.0M388.0 84.9l3.5 -0.0M392.6 84.8l3.5 -0.0M397.2 84.7l3.4 -0.0M401.8 84.6l3.3 -0.0M406.4 84.6l3.3 -0.0M411.0 84.5l3.2 -0.0M415.6 84.4l3.2 -0.0M420.2 84.4l3.2 -0.0M424.8 84.3l3.2 -0.0M429.4 84.3l3.1 -0.0M434.0 84.2l3.1 -0.0M438.6 84.2l3.1 -0.0M443.2 84.2l3.1 -0.0M447.7 84.1l3.1 -0.0M452.3 84.1l3.1 -0.0M456.9 84.1l3.1 -0.0M461.5 84.0l3.1 -0.0M466.1 84.0l3.1 -0.0M470.7 84.0l3.0 -0.0M475.2 84.0l3.0 -0.0M479.8 83.9l3.0 -0.0M484.4 83.9l3.0 -0.0M489.0 83.9l3.0 -0.0M493.6 84.1l3.0 -0.5M498.5 84.9l2.4 -2.0M503.5 85.4l1.5 -3.0M508.3 85.6l1.0 -3.4M513.1 85.7l0.7 -3.8M346.6 82.8l3.9 -0.0M351.2 82.6l3.8 -0.0M355.8 82.4l3.8 -0.0M360.4 82.3l3.7 -0.0M365.1 82.1l3.6 -0.0M369.7 82.0l3.5 -0.0M374.3 81.8l3.4 -0.0M378.9 81.7l3.4 -0.0M383.5 81.6l3.3 -0.0M388.1 81.5l3.3 -0.0M392.7 81.4l3.3 -0.0M397.3 81.3l3.2 -0.0M401.9 81.2l3.1 -0.0M406.5 81.1l3.1 -0.0M411.1 81.1l3.0 -0.0M503.8 81.9l0.9 -3.1M508.5 82.1l0.6 -3.5M513.2 82.2l0.4 -3.8M338.5 78.3l1.7 3.5M342.1 79.8l3.7 0.0M346.7 79.6l3.6 -0.0M351.3 79.4l3.6 -0.0M355.9 79.2l3.5 -0.0M360.6 79.0l3.4 -0.0M365.2 78.8l3.3 -0.0M369.8 78.7l3.2 -0.0M374.4 78.5l3.2 -0.0M379.0 78.4l3.1 -0.0M383.6 78.3l3.1 -0.0M388.2 78.1l3.0 -0.0M392.8 78.0l3.0 -0.0M504.0 78.4l0.5 -3.2M508.7 78.5l0.3 -3.5M513.3 78.7l0.2 -3.8M338.9 75.1l0.9 3.6M342.3 76.7l3.4 0.0M346.9 76.4l3.3 -0.0M351.5 76.2l3.3 -0.0M356.1 76.0l3.2 -0.0M360.7 75.8l3.1 -0.0M365.3 75.6l3.0 -0.0M504.2 74.9l0.1 -3.2M508.8 75.0l0.1 -3.5M513.4 75.1l0.1 -3.8M339.2 72.0l0.3 3.7M342.4 73.5l3.0 0.1M504.2 68.2l0.0 3.2M508.8 68.0l0.0 3.5M513.4 67.8l0.0 3.8M339.3 68.9l0.0 3.6M504.2 64.6l0.1 3.2M508.8 64.5l0.1 3.5M513.4 64.3l0.1 3.8M339.3 69.4l0.1 -3.6M504.0 61.1l0.4 3.2M508.7 60.9l0.2 3.5M513.3 60.7l0.2 3.8M339.1 66.3l0.4 -3.6M342.3 64.1l3.2 -0.0M346.9 63.7l3.2 0.0M351.5 63.4l3.3 0.0M356.0 63.1l3.3 0.0M360.6 62.8l3.3 0.0M365.2 62.5l3.2 0.0M369.8 62.2l3.2 0.0M374.4 62.0l3.1 0.0M379.0 61.7l3.1 0.0M383.6 61.5l3.1 0.0M388.2 61.3l3.0 0.0M392.8 61.2l3.0 0.0M397.4 61.0l3.0 0.0M503.8 57.6l0.8 3.2M508.6 57.4l0.5 3.5M513.2 57.2l0.4 3.8M338.9 63.2l1.0 -3.6M342.2 61.0l3.5 -0.0M346.8 60.6l3.5 0.0M351.3 60.2l3.6 0.0M355.9 59.8l3.6 0.0M360.5 59.5l3.6 0.0M365.1 59.2l3.5 0.0M369.7 58.9l3.5 0.0M374.3 58.7l3.4 0.0M378.9 58.4l3.4 0.0M383.5 58.2l3.3 0.0M388.1 58.0l3.3 0.0M392.7 57.8l3.3 0.0M397.3 57.6l3.3 0.0M401.9 57.4l3.2 0.0M406.5 57.3l3.2 0.0M411.1 57.1l3.2 0.0M415.7 57.0l3.1 0.0M420.2 56.9l3.1 0.0M424.8 56.7l3.1 0.0M429.4 56.6l3.1 0.0M434.0 56.5l3.1 0.0M438.6 56.4l3.0 0.0M443.2 56.4l3.0 0.0M447.8 56.3l3.0 0.0M452.4 56.2l3.0 0.0M456.9 56.1l3.0 0.0M461.5 56.1l3.0 0.0M466.1 56.0l3.0 0.0M470.7 55.9l3.0 0.0M475.3 55.9l3.0 0.0M479.8 55.8l3.0 0.0M493.6 55.4l2.9 0.6M498.6 54.6l2.2 2.2M503.6 54.1l1.3 3.1M508.4 53.9l0.9 3.5M513.1 53.7l0.6 3.8M338.5 60.0l1.7 -3.4M342.1 57.8l3.7 -0.0M346.6 57.4l3.8 0.0M351.2 57.0l3.8 0.0M355.8 56.6l3.9 0.0M360.3 56.3l3.8 0.0M364.9 55.9l3.8 0.0M369.5 55.6l3.8 0.0M374.1 55.3l3.7 0.0M378.7 55.1l3.7 0.0M383.4 54.8l3.6 0.0M388.0 54.6l3.6 0.0M392.6 54.4l3.5 0.0M397.1 54.2l3.5 0.0M401.7 54.0l3.5 0.0M406.3 53.9l3.4 0.0M410.9 53.7l3.4 0.0M415.5 53.6l3.4 0.0M420.1 53.4l3.3 0.0M424.7 53.3l3.3 0.0M429.3 53.2l3.3 0.0M433.9 53.1l3.3 0.0M438.5 53.0l3.3 0.0M443.1 52.9l3.3 0.0M447.7 52.8l3.2 0.0M452.2 52.7l3.2 0.0M456.8 52.6l3.2 0.0M461.4 52.6l3.2 0.0M466.0 52.5l3.2 0.0M470.6 52.4l3.2 0.0M475.2 52.4l3.2 0.0M479.7 52.3l3.2 0.0M484.3 52.3l3.2 0.0M488.9 52.2l3.2 0.0M493.5 52.0l3.2 0.4M498.3 51.2l2.7 1.8M503.3 50.7l1.9 2.9M508.2 50.4l1.3 3.4M513.0 50.2l0.9 3.8M383.2 51.5l3.9 0.0M387.8 51.3l3.8 0.0M392.4 51.0l3.8 0.0M397.0 50.8l3.7 0.0M401.6 50.6l3.7 0.0M406.2 50.5l3.7 0.0M410.8 50.3l3.6 0.0M415.4 50.1l3.6 0.0M420.0 50.0l3.5 0.0M424.6 49.8l3.5 0.0M429.2 49.7l3.5 0.0M433.8 49.6l3.5 0.0M438.4 49.5l3.5 0.0M443.0 49.4l3.5 0.0M447.6 49.3l3.5 0.0M452.1 49.2l3.4 0.0M456.7 49.1l3.4 0.0M461.3 49.1l3.4 0.0M465.9 49.0l3.4 0.0M470.5 48.9l3.4 0.0M475.1 48.9l3.4 0.0M479.6 48.8l3.4 0.0M484.2 48.8l3.4 0.0M488.8 48.7l3.4 0.0M493.4 48.5l3.4 0.3M498.1 47.9l3.1 1.5M503.0 47.2l2.4 2.7M508.0 46.9l1.7 3.3M406.1 47.0l3.9 0.0M410.7 46.9l3.8 0.0M415.3 46.7l3.8 0.0M419.9 46.5l3.7 0.0M424.5 46.4l3.7 0.0M429.1 46.3l3.7 0.0M433.7 46.1l3.7 0.0M438.3 46.0l3.7 0.0M442.9 45.9l3.7 0.0M447.5 45.8l3.6 0.0M452.0 45.7l3.6 0.0M456.6 45.6l3.6 0.0M461.2 45.6l3.6 0.0M465.8 45.5l3.6 0.0M470.4 45.4l3.6 0.0M475.0 45.4l3.6 0.0M479.5 45.3l3.6 0.0M484.1 45.2l3.6 0.0M488.7 45.2l3.6 0.0M493.3 45.0l3.6 0.3M498.0 44.5l3.4 1.2M502.8 43.9l2.8 2.4M507.8 43.4l2.1 3.2M429.0 42.8l3.9 0.0M433.6 42.7l3.9 0.0M438.2 42.6l3.8 0.0M442.8 42.4l3.8 0.0M447.4 42.3l3.8 0.0M452.0 42.2l3.8 0.0M456.5 42.2l3.8 0.0M461.1 42.1l3.8 0.0M465.7 42.0l3.8 0.0M470.3 41.9l3.8 0.0M474.9 41.8l3.8 0.0M479.5 41.8l3.8 0.0M484.0 41.7l3.8 0.0M488.6 41.7l3.8 0.0M493.2 41.5l3.8 0.2M497.8 41.0l3.6 1.0M502.6 40.5l3.2 2.1" stroke="#000" stroke-width="0.90" stroke-opacity="0.52" stroke-linecap="butt" fill="none"/><path d="M422.0 98.1l1.5 -0.0M426.6 98.1l1.5 -0.0M431.2 98.1l1.5 -0.0M435.7 98.1l1.5 -0.0M440.3 98.1l1.5 -0.0M444.9 98.1l1.5 -0.0M449.5 98.1l1.5 -0.0M454.1 98.0l1.5 -0.0M458.6 98.0l1.5 -0.0M463.2 98.0l1.5 -0.0M467.8 98.0l1.5 -0.0M472.4 98.0l1.5 -0.0M476.9 98.0l1.5 -0.0M481.5 98.0l1.5 -0.0M486.1 98.0l1.5 -0.0M490.7 98.0l1.5 -0.0M495.3 98.0l1.5 -0.1M499.8 97.9l1.5 -0.4M504.4 97.9l1.3 -0.8M403.7 94.8l1.5 -0.0M408.3 94.8l1.5 -0.0M412.8 94.8l1.5 -0.0M417.4 94.7l1.5 -0.0M422.0 94.7l1.5 -0.0M426.6 94.7l1.5 -0.0M431.1 94.7l1.5 -0.0M435.7 94.6l1.5 -0.0M440.3 94.6l1.5 -0.0M444.9 94.6l1.5 -0.0M449.5 94.6l1.5 -0.0M454.0 94.6l1.5 -0.0M458.6 94.5l1.5 -0.0M463.2 94.5l1.4 -0.0M467.8 94.5l1.4 -0.0M472.4 94.5l1.4 -0.0M476.9 94.5l1.4 -0.0M481.5 94.5l1.4 -0.0M486.1 94.5l1.4 -0.0M490.7 94.5l1.4 -0.0M495.3 94.4l1.4 -0.1M499.8 94.4l1.4 -0.4M504.4 94.3l1.2 -0.9M508.9 94.3l0.9 -1.2M394.5 91.5l1.5 -0.0M399.1 91.5l1.5 -0.0M403.7 91.4l1.5 -0.0M408.2 91.4l1.5 -0.0M412.8 91.3l1.4 -0.0M417.4 91.3l1.4 -0.0M422.0 91.3l1.4 -0.0M426.6 91.2l1.4 -0.0M431.1 91.2l1.4 -0.0M435.7 91.2l1.4 -0.0M440.3 91.1l1.4 -0.0M444.9 91.1l1.4 -0.0M449.5 91.1l1.4 -0.0M454.0 91.1l1.4 -0.0M458.6 91.1l1.4 -0.0M463.2 91.0l1.4 -0.0M467.8 91.0l1.4 -0.0M472.4 91.0l1.4 -0.0M476.9 91.0l1.4 -0.0M481.5 91.0l1.4 -0.0M486.1 91.0l1.4 -0.0M490.7 90.9l1.4 -0.0M495.2 90.9l1.4 -0.1M499.8 90.9l1.3 -0.5M504.4 90.8l1.0 -1.0M508.9 90.7l0.8 -1.3M371.6 88.5l1.6 -0.0M376.2 88.5l1.5 -0.0M380.8 88.4l1.5 -0.0M385.3 88.3l1.5 -0.0M389.9 88.2l1.5 -0.0M394.5 88.1l1.5 -0.0M399.1 88.1l1.4 -0.0M403.7 88.0l1.4 -0.0M408.2 88.0l1.4 -0.0M412.8 87.9l1.4 -0.0M417.4 87.9l1.4 -0.0M422.0 87.8l1.3 -0.0M426.5 87.8l1.3 -0.0M431.1 87.7l1.3 -0.0M435.7 87.7l1.3 -0.0M440.3 87.7l1.3 -0.0M444.9 87.6l1.3 -0.0M449.4 87.6l1.3 -0.0M454.0 87.6l1.3 -0.0M458.6 87.6l1.3 -0.0M463.2 87.5l1.3 -0.0M467.8 87.5l1.3 -0.0M472.3 87.5l1.3 -0.0M476.9 87.5l1.3 -0.0M481.5 87.5l1.3 -0.0M486.1 87.4l1.3 -0.0M490.7 87.4l1.3 -0.0M495.2 87.4l1.3 -0.1M499.8 87.3l1.1 -0.7M504.3 87.2l0.8 -1.1M508.9 87.2l0.6 -1.3M513.5 87.2l0.4 -1.5M362.5 85.5l1.5 -0.0M367.0 85.4l1.5 -0.0M371.6 85.3l1.5 -0.0M376.2 85.1l1.4 -0.0M380.8 85.0l1.4 -0.0M385.3 84.9l1.4 -0.0M389.9 84.9l1.4 -0.0M394.5 84.8l1.4 -0.0M399.1 84.7l1.4 -0.0M403.6 84.6l1.3 -0.0M408.2 84.6l1.3 -0.0M412.8 84.5l1.3 -0.0M417.4 84.4l1.3 -0.0M422.0 84.4l1.3 -0.0M426.5 84.3l1.3 -0.0M431.1 84.3l1.3 -0.0M435.7 84.2l1.2 -0.0M440.3 84.2l1.2 -0.0M444.9 84.2l1.2 -0.0M449.4 84.1l1.2 -0.0M454.0 84.1l1.2 -0.0M458.6 84.1l1.2 -0.0M463.2 84.0l1.2 -0.0M467.8 84.0l1.2 -0.0M472.3 84.0l1.2 -0.0M476.9 84.0l1.2 -0.0M481.5 83.9l1.2 -0.0M486.1 83.9l1.2 -0.0M490.7 83.9l1.2 -0.0M495.2 83.9l1.2 -0.2M499.8 83.8l1.0 -0.8M504.3 83.7l0.6 -1.2M508.9 83.7l0.4 -1.4M513.4 83.6l0.3 -1.5M348.7 82.8l1.6 -0.0M353.3 82.6l1.5 -0.0M357.9 82.4l1.5 -0.0M362.4 82.3l1.5 -0.0M367.0 82.1l1.4 -0.0M371.6 82.0l1.4 -0.0M376.2 81.8l1.4 -0.0M380.7 81.7l1.3 -0.0M385.3 81.6l1.3 -0.0M389.9 81.5l1.3 -0.0M394.5 81.4l1.3 -0.0M399.1 81.3l1.3 -0.0M403.6 81.2l1.3 -0.0M408.2 81.1l1.2 -0.0M412.8 81.1l1.2 -0.0M504.3 80.2l0.4 -1.3M508.8 80.1l0.2 -1.4M513.4 80.1l0.2 -1.5M339.4 80.3l0.7 1.4M344.1 79.8l1.5 0.0M348.7 79.6l1.5 -0.0M353.3 79.4l1.4 -0.0M357.9 79.2l1.4 -0.0M362.4 79.0l1.4 -0.0M367.0 78.8l1.3 -0.0M371.6 78.7l1.3 -0.0M376.2 78.5l1.3 -0.0M380.7 78.4l1.2 -0.0M385.3 78.3l1.2 -0.0M389.9 78.1l1.2 -0.0M394.5 78.0l1.2 -0.0M504.3 76.6l0.2 -1.3M508.8 76.6l0.1 -1.4M513.4 76.6l0.1 -1.5M339.4 77.1l0.4 1.5M344.1 76.7l1.3 0.0M348.7 76.4l1.3 -0.0M353.3 76.2l1.3 -0.0M357.8 76.0l1.3 -0.0M362.4 75.8l1.3 -0.0M367.0 75.6l1.2 -0.0M504.2 73.1l0.1 -1.3M508.8 73.1l0.0 -1.4M513.4 73.0l0.0 -1.5M339.4 74.0l0.1 1.5M344.1 73.5l1.2 0.0M504.2 69.9l0.0 1.3M508.8 69.9l0.0 1.4M513.4 69.9l0.0 1.5M339.4 70.9l0.0 1.5M504.2 66.4l0.0 1.3M508.8 66.4l0.0 1.4M513.4 66.4l0.0 1.5M339.4 67.4l0.0 -1.5M504.3 62.9l0.2 1.3M508.8 62.8l0.1 1.4M513.4 62.8l0.1 1.5M339.4 64.3l0.2 -1.4M344.1 64.1l1.3 -0.0M348.7 63.7l1.3 0.0M353.3 63.4l1.3 0.0M357.8 63.1l1.3 0.0M362.4 62.8l1.3 0.0M367.0 62.5l1.3 0.0M371.6 62.2l1.3 0.0M376.2 62.0l1.3 0.0M380.7 61.7l1.2 0.0M385.3 61.5l1.2 0.0M389.9 61.3l1.2 0.0M394.5 61.2l1.2 0.0M399.1 61.0l1.2 0.0M504.3 59.3l0.3 1.3M508.8 59.3l0.2 1.4M513.4 59.3l0.1 1.5M339.4 61.2l0.4 -1.4M344.1 61.0l1.4 -0.0M348.7 60.6l1.4 0.0M353.3 60.2l1.4 0.0M357.9 59.8l1.4 0.0M362.4 59.5l1.4 0.0M367.0 59.2l1.4 0.0M371.6 58.9l1.4 0.0M376.2 58.7l1.4 0.0M380.7 58.4l1.4 0.0M385.3 58.2l1.3 0.0M389.9 58.0l1.3 0.0M394.5 57.8l1.3 0.0M399.1 57.6l1.3 0.0M403.6 57.4l1.3 0.0M408.2 57.3l1.3 0.0M412.8 57.1l1.3 0.0M417.4 57.0l1.3 0.0M422.0 56.9l1.2 0.0M426.5 56.7l1.2 0.0M431.1 56.6l1.2 0.0M435.7 56.5l1.2 0.0M440.3 56.4l1.2 0.0M444.9 56.4l1.2 0.0M449.4 56.3l1.2 0.0M454.0 56.2l1.2 0.0M458.6 56.1l1.2 0.0M463.2 56.1l1.2 0.0M467.8 56.0l1.2 0.0M472.3 55.9l1.2 0.0M476.9 55.9l1.2 0.0M481.5 55.8l1.2 0.0M495.2 55.7l1.2 0.2M499.8 55.8l0.9 0.9M504.3 55.8l0.5 1.2M508.9 55.8l0.3 1.4M513.4 55.8l0.2 1.5M339.4 58.1l0.7 -1.4M344.1 57.8l1.5 -0.0M348.7 57.4l1.5 0.0M353.3 57.0l1.5 0.0M357.9 56.6l1.5 0.0M362.5 56.3l1.5 0.0M367.0 55.9l1.5 0.0M371.6 55.6l1.5 0.0M376.2 55.3l1.5 0.0M380.8 55.1l1.5 0.0M385.3 54.8l1.4 0.0M389.9 54.6l1.4 0.0M394.5 54.4l1.4 0.0M399.1 54.2l1.4 0.0M403.7 54.0l1.4 0.0M408.2 53.9l1.4 0.0M412.8 53.7l1.4 0.0M417.4 53.6l1.3 0.0M422.0 53.4l1.3 0.0M426.5 53.3l1.3 0.0M431.1 53.2l1.3 0.0M435.7 53.1l1.3 0.0M440.3 53.0l1.3 0.0M444.9 52.9l1.3 0.0M449.4 52.8l1.3 0.0M454.0 52.7l1.3 0.0M458.6 52.6l1.3 0.0M463.2 52.6l1.3 0.0M467.8 52.5l1.3 0.0M472.3 52.4l1.3 0.0M476.9 52.4l1.3 0.0M481.5 52.3l1.3 0.0M486.1 52.3l1.3 0.0M490.7 52.2l1.3 0.0M495.2 52.2l1.3 0.2M499.8 52.2l1.1 0.7M504.3 52.3l0.8 1.2M508.9 52.2l0.5 1.4M513.4 52.2l0.4 1.5M385.4 51.5l1.5 0.0M389.9 51.3l1.5 0.0M394.5 51.0l1.5 0.0M399.1 50.8l1.5 0.0M403.7 50.6l1.5 0.0M408.2 50.5l1.5 0.0M412.8 50.3l1.5 0.0M417.4 50.1l1.4 0.0M422.0 50.0l1.4 0.0M426.6 49.8l1.4 0.0M431.1 49.7l1.4 0.0M435.7 49.6l1.4 0.0M440.3 49.5l1.4 0.0M444.9 49.4l1.4 0.0M449.5 49.3l1.4 0.0M454.0 49.2l1.4 0.0M458.6 49.1l1.4 0.0M463.2 49.1l1.4 0.0M467.8 49.0l1.4 0.0M472.4 48.9l1.4 0.0M476.9 48.9l1.4 0.0M481.5 48.8l1.4 0.0M486.1 48.8l1.4 0.0M490.7 48.7l1.4 0.0M495.2 48.7l1.4 0.1M499.8 48.7l1.2 0.6M504.4 48.7l1.0 1.1M508.9 48.7l0.7 1.3M408.3 47.0l1.6 0.0M412.8 46.9l1.5 0.0M417.4 46.7l1.5 0.0M422.0 46.5l1.5 0.0M426.6 46.4l1.5 0.0M431.1 46.3l1.5 0.0M435.7 46.1l1.5 0.0M440.3 46.0l1.5 0.0M444.9 45.9l1.5 0.0M449.5 45.8l1.5 0.0M454.0 45.7l1.5 0.0M458.6 45.6l1.5 0.0M463.2 45.6l1.4 0.0M467.8 45.5l1.4 0.0M472.4 45.4l1.4 0.0M476.9 45.4l1.4 0.0M481.5 45.3l1.4 0.0M486.1 45.2l1.4 0.0M490.7 45.2l1.4 0.0M495.3 45.2l1.4 0.1M499.8 45.2l1.4 0.5M504.4 45.2l1.1 1.0M508.9 45.2l0.9 1.3M431.2 42.8l1.6 0.0M435.7 42.7l1.5 0.0M440.3 42.6l1.5 0.0M444.9 42.4l1.5 0.0M449.5 42.3l1.5 0.0M454.1 42.2l1.5 0.0M458.6 42.2l1.5 0.0M463.2 42.1l1.5 0.0M467.8 42.0l1.5 0.0M472.4 41.9l1.5 0.0M476.9 41.8l1.5 0.0M481.5 41.8l1.5 0.0M486.1 41.7l1.5 0.0M490.7 41.7l1.5 0.0M495.3 41.6l1.5 0.1M499.8 41.6l1.5 0.4M504.4 41.6l1.3 0.9" stroke="#000" stroke-width="1.20" stroke-opacity="0.48" stroke-linecap="butt" fill="none"/><path d="M329.3 100.2l1.8 3.6M333.3 100.5l2.9 2.8M337.3 101.3l4.1 1.1M341.8 101.9l4.3 0.0M346.4 101.8l4.3 -0.0M351.0 101.8l4.3 -0.0M355.5 101.8l4.3 -0.0M360.1 101.8l4.3 -0.0M364.7 101.7l4.3 -0.0M369.3 101.7l4.3 -0.0M373.9 101.7l4.3 -0.0M378.4 101.7l4.3 -0.0M383.0 101.7l4.3 -0.0M387.6 101.7l4.3 -0.0M392.2 101.6l4.2 -0.0M396.8 101.6l4.2 -0.0M401.4 101.6l4.2 -0.0M406.0 101.6l4.1 -0.0M410.6 101.6l4.1 -0.0M415.2 101.6l4.1 -0.0M419.8 101.6l4.0 -0.0M424.4 101.6l4.0 -0.0M429.0 101.6l4.0 -0.0M433.5 101.6l4.0 -0.0M438.1 101.5l4.0 -0.0M442.7 101.5l4.0 -0.0M447.3 101.5l4.0 -0.0M451.9 101.5l4.0 -0.0M456.5 101.5l4.0 -0.0M461.0 101.5l4.0 -0.0M465.6 101.5l3.9 -0.0M470.2 101.5l3.9 -0.0M474.8 101.5l3.9 -0.0M479.4 101.5l3.9 -0.0M484.0 101.5l3.9 -0.0M488.5 101.5l3.9 -0.0M493.1 101.6l3.9 -0.2M497.7 101.9l3.9 -0.8M502.4 102.3l3.6 -1.7M507.3 102.8l3.1 -2.5M512.2 103.1l2.5 -3.1M329.3 96.8l1.8 4.2M333.1 97.0l3.3 3.8M337.0 98.0l4.6 1.5M341.5 98.7l4.8 0.0M346.2 98.7l4.7 -0.0M350.8 98.6l4.6 -0.0M355.4 98.6l4.6 -0.0M360.0 98.5l4.5 -0.0M364.6 98.5l4.4 -0.0M369.2 98.4l4.4 -0.0M373.8 98.4l4.4 -0.0M378.4 98.4l4.3 -0.0M383.0 98.3l4.3 -0.0M387.6 98.3l4.3 -0.0M392.2 98.3l4.2 -0.0M396.9 98.2l4.1 -0.0M401.5 98.2l4.0 -0.0M406.1 98.2l4.0 -0.0M410.7 98.2l3.9 -0.0M415.3 98.2l3.9 -0.0M507.4 99.4l2.8 -2.8M512.3 99.6l2.2 -3.4M329.4 93.7l1.5 4.3M333.3 93.7l2.9 4.0M337.2 94.8l4.4 1.8M341.6 95.6l4.7 0.0M346.2 95.5l4.6 -0.0M350.8 95.4l4.5 -0.0M355.5 95.3l4.4 -0.0M360.1 95.3l4.3 -0.0M364.7 95.2l4.3 -0.0M369.3 95.1l4.2 -0.0M373.9 95.1l4.2 -0.0M378.5 95.0l4.2 -0.0M383.1 95.0l4.1 -0.0M387.7 94.9l4.1 -0.0M392.3 94.9l4.0 -0.0M396.9 94.9l3.9 -0.0M512.5 96.2l1.8 -3.6M329.6 90.6l1.2 4.4M333.6 90.6l2.4 4.2M337.3 91.5l4.1 2.1M341.7 92.4l4.5 0.0M346.3 92.3l4.5 -0.0M350.9 92.2l4.4 -0.0M355.5 92.1l4.3 -0.0M360.2 92.0l4.2 -0.0M364.8 91.9l4.1 -0.0M369.4 91.8l4.1 -0.0M374.0 91.8l4.0 -0.0M378.6 91.7l4.0 -0.0M383.2 91.6l3.9 -0.0M387.8 91.6l3.9 -0.0M512.7 92.7l1.4 -3.7M329.7 87.6l1.0 4.4M333.8 87.4l1.9 4.4M337.5 88.2l3.7 2.5M341.8 89.3l4.4 0.0M346.4 89.1l4.3 -0.0M351.0 89.0l4.2 -0.0M355.6 88.9l4.2 -0.0M360.2 88.8l4.1 -0.0M364.9 88.6l4.0 -0.0M329.8 84.5l0.7 4.4M334.1 84.3l1.4 4.4M337.8 84.9l3.2 2.9M341.9 86.1l4.2 0.0M346.5 86.0l4.1 -0.0M351.1 85.8l4.1 -0.0M355.7 85.6l4.0 -0.0M330.0 81.5l0.5 4.4M334.3 81.2l1.0 4.4M338.1 81.6l2.5 3.3M342.0 83.0l3.9 0.0M330.0 78.4l0.3 4.4M334.5 78.1l0.6 4.4M330.1 75.4l0.2 4.4M334.6 75.1l0.3 4.4M330.2 72.4l0.1 4.4M334.7 72.0l0.1 4.4M330.2 69.3l0.0 4.4M334.8 68.9l0.0 4.4M330.2 70.6l0.0 -4.4M334.8 70.2l0.0 -4.4M330.2 67.6l0.1 -4.4M334.7 67.1l0.1 -4.3M330.1 64.5l0.1 -4.4M334.6 64.0l0.3 -4.3M330.1 61.5l0.3 -4.4M334.5 60.9l0.6 -4.3M330.0 58.5l0.4 -4.4M334.3 57.8l0.9 -4.3M338.2 56.7l2.4 -3.2M342.0 54.7l3.9 -0.0M346.5 54.2l4.0 0.0M351.1 53.8l4.0 0.0M355.7 53.4l4.1 0.0M360.2 53.0l4.1 0.0M364.8 52.7l4.0 0.0M369.4 52.3l4.0 0.0M374.0 52.0l4.0 0.0M378.6 51.8l3.9 0.0M512.8 46.6l1.2 3.7M329.9 55.4l0.6 -4.4M334.2 54.8l1.3 -4.3M337.9 53.5l3.0 -2.8M341.9 51.5l4.1 -0.0M346.4 51.0l4.2 0.0M351.0 50.6l4.2 0.0M355.6 50.1l4.2 0.0M360.1 49.8l4.3 0.0M364.7 49.4l4.3 0.0M369.3 49.0l4.2 0.0M373.9 48.7l4.2 0.0M378.5 48.4l4.2 0.0M383.1 48.2l4.1 0.0M387.7 47.9l4.0 0.0M392.3 47.7l4.0 0.0M396.9 47.4l3.9 0.0M401.5 47.2l3.9 0.0M512.6 43.2l1.6 3.7M329.8 52.4l0.8 -4.4M333.9 51.7l1.7 -4.2M337.6 50.2l3.5 -2.5M341.8 48.4l4.3 -0.0M346.3 47.9l4.3 0.0M350.9 47.4l4.4 0.0M355.5 46.9l4.4 0.0M360.0 46.5l4.4 0.0M364.6 46.1l4.5 0.0M369.2 45.7l4.5 0.0M373.8 45.4l4.4 0.0M378.4 45.1l4.4 0.0M383.0 44.8l4.3 0.0M387.6 44.5l4.2 0.0M392.2 44.3l4.2 0.0M396.8 44.1l4.1 0.0M401.4 43.8l4.1 0.0M406.0 43.6l4.1 0.0M410.6 43.4l4.0 0.0M415.2 43.3l4.0 0.0M419.8 43.1l3.9 0.0M424.4 43.0l3.9 0.0M507.5 40.0l2.5 3.0M512.4 39.7l1.9 3.5M329.7 49.3l1.0 -4.4M333.7 48.5l2.1 -4.2M337.4 46.9l3.9 -2.1M341.7 45.2l4.5 -0.0M346.3 44.7l4.5 0.0M350.8 44.2l4.6 0.0M355.4 43.7l4.6 0.0M360.0 43.3l4.6 0.0M364.5 42.8l4.6 0.0M369.1 42.5l4.6 0.0M373.7 42.1l4.6 0.0M378.3 41.8l4.6 0.0M382.9 41.5l4.5 0.0M387.5 41.2l4.4 0.0M392.1 40.9l4.3 0.0M396.7 40.7l4.3 0.0M401.3 40.4l4.3 0.0M405.9 40.2l4.3 0.0M410.5 40.0l4.2 0.0M415.1 39.8l4.2 0.0M419.7 39.7l4.1 0.0M424.3 39.5l4.1 0.0M428.9 39.4l4.1 0.0M433.5 39.2l4.0 0.0M438.1 39.1l4.0 0.0M442.7 39.0l4.0 0.0M447.3 38.9l4.0 0.0M451.9 38.8l4.0 0.0M456.4 38.7l4.0 0.0M461.0 38.6l4.0 0.0M465.6 38.5l4.0 0.0M470.2 38.4l4.0 0.0M474.8 38.3l4.0 0.0M479.4 38.3l4.0 0.0M483.9 38.2l3.9 0.0M488.5 38.1l3.9 0.0M493.1 38.0l3.9 0.2M497.7 37.6l3.8 0.9M502.5 37.0l3.5 1.9M507.4 36.6l2.9 2.8M512.3 36.3l2.3 3.3M329.6 46.3l1.3 -4.4M333.5 45.4l2.6 -4.0M337.2 43.6l4.2 -1.9M341.6 42.1l4.6 -0.0M346.2 41.5l4.7 0.0M350.7 41.0l4.7 0.0M355.3 40.5l4.8 0.0M359.9 40.0l4.8 0.0M364.4 39.6l4.8 0.0M369.0 39.2l4.8 0.0M373.6 38.8l4.8 0.0M378.2 38.4l4.7 0.0M382.8 38.1l4.7 0.0M387.4 37.8l4.6 0.0M392.1 37.5l4.5 0.0M396.7 37.3l4.5 0.0M401.2 37.0l4.5 0.0M405.8 36.8l4.4 0.0M410.4 36.6l4.4 0.0M415.0 36.4l4.3 0.0M419.7 36.2l4.3 0.0M424.3 36.1l4.3 0.0M428.8 35.9l4.2 0.0M433.4 35.8l4.2 0.0M438.0 35.6l4.2 0.0M442.6 35.5l4.2 0.0M447.2 35.4l4.2 0.0M451.8 35.3l4.2 0.0M456.4 35.2l4.1 0.0M460.9 35.1l4.1 0.0M465.5 35.0l4.1 0.0M470.1 34.9l4.1 0.0M474.7 34.8l4.1 0.0M479.3 34.8l4.1 0.0M483.9 34.7l4.1 0.0M488.5 34.6l4.1 0.0M493.0 34.5l4.1 0.2M497.6 34.1l4.0 0.8M502.3 33.6l3.8 1.7M507.2 33.2l3.2 2.5M512.1 32.8l2.5 3.1" stroke="#000" stroke-width="0.90" stroke-opacity="0.73" stroke-linecap="butt" fill="none"/><path d="M330.3 102.1l0.7 1.4M334.9 102.1l1.2 1.1M339.6 101.9l1.7 0.5M344.2 101.9l1.7 0.0M348.7 101.8l1.7 -0.0M353.3 101.8l1.7 -0.0M357.9 101.8l1.7 -0.0M362.5 101.8l1.7 -0.0M367.1 101.7l1.7 -0.0M371.6 101.7l1.7 -0.0M376.2 101.7l1.7 -0.0M380.8 101.7l1.7 -0.0M385.4 101.7l1.7 -0.0M390.0 101.7l1.7 -0.0M394.5 101.6l1.7 -0.0M399.1 101.6l1.7 -0.0M403.7 101.6l1.7 -0.0M408.3 101.6l1.7 -0.0M412.8 101.6l1.6 -0.0M417.4 101.6l1.6 -0.0M422.0 101.6l1.6 -0.0M426.6 101.6l1.6 -0.0M431.2 101.6l1.6 -0.0M435.7 101.6l1.6 -0.0M440.3 101.5l1.6 -0.0M444.9 101.5l1.6 -0.0M449.5 101.5l1.6 -0.0M454.1 101.5l1.6 -0.0M458.6 101.5l1.6 -0.0M463.2 101.5l1.6 -0.0M467.8 101.5l1.6 -0.0M472.4 101.5l1.6 -0.0M477.0 101.5l1.6 -0.0M481.5 101.5l1.6 -0.0M486.1 101.5l1.6 -0.0M490.7 101.5l1.6 -0.0M495.3 101.5l1.6 -0.1M499.9 101.5l1.5 -0.3M504.4 101.4l1.4 -0.7M509.0 101.4l1.2 -1.0M513.5 101.3l1.0 -1.3M330.3 99.1l0.7 1.7M334.9 99.0l1.3 1.5M339.6 98.8l1.9 0.6M344.2 98.7l1.9 0.0M348.8 98.7l1.9 -0.0M353.3 98.6l1.9 -0.0M357.9 98.6l1.8 -0.0M362.5 98.5l1.8 -0.0M367.1 98.5l1.8 -0.0M371.6 98.4l1.8 -0.0M376.2 98.4l1.7 -0.0M380.8 98.4l1.7 -0.0M385.4 98.3l1.7 -0.0M390.0 98.3l1.7 -0.0M394.5 98.3l1.7 -0.0M399.1 98.2l1.6 -0.0M403.7 98.2l1.6 -0.0M408.3 98.2l1.6 -0.0M412.8 98.2l1.6 -0.0M417.4 98.2l1.6 -0.0M509.0 97.8l1.1 -1.1M513.5 97.8l0.9 -1.3M330.3 96.1l0.6 1.7M334.9 96.0l1.2 1.6M339.6 95.7l1.8 0.7M344.2 95.6l1.9 0.0M348.7 95.5l1.8 -0.0M353.3 95.4l1.8 -0.0M357.9 95.3l1.8 -0.0M362.5 95.3l1.7 -0.0M367.1 95.2l1.7 -0.0M371.6 95.1l1.7 -0.0M376.2 95.1l1.7 -0.0M380.8 95.0l1.7 -0.0M385.4 95.0l1.6 -0.0M389.9 94.9l1.6 -0.0M394.5 94.9l1.6 -0.0M399.1 94.9l1.6 -0.0M513.5 94.2l0.7 -1.4M330.3 93.0l0.5 1.8M334.9 92.9l1.0 1.7M339.6 92.6l1.6 0.8M344.2 92.4l1.8 0.0M348.7 92.3l1.8 -0.0M353.3 92.2l1.8 -0.0M357.9 92.1l1.7 -0.0M362.5 92.0l1.7 -0.0M367.0 91.9l1.6 -0.0M371.6 91.8l1.6 -0.0M376.2 91.8l1.6 -0.0M380.8 91.7l1.6 -0.0M385.4 91.6l1.6 -0.0M389.9 91.6l1.6 -0.0M513.5 90.7l0.6 -1.5M330.2 90.0l0.4 1.8M334.9 89.8l0.8 1.7M339.5 89.5l1.5 1.0M344.2 89.3l1.7 0.0M348.7 89.1l1.7 -0.0M353.3 89.0l1.7 -0.0M357.9 88.9l1.7 -0.0M362.5 88.8l1.6 -0.0M367.0 88.6l1.6 -0.0M330.2 86.9l0.3 1.8M334.9 86.7l0.6 1.8M339.5 86.5l1.3 1.2M344.1 86.1l1.7 0.0M348.7 86.0l1.6 -0.0M353.3 85.8l1.6 -0.0M357.9 85.6l1.6 -0.0M330.2 83.9l0.2 1.8M334.8 83.6l0.4 1.8M339.5 83.4l1.0 1.3M344.1 83.0l1.6 0.0M330.2 80.8l0.1 1.7M334.8 80.6l0.3 1.8M330.2 77.8l0.1 1.7M334.8 77.5l0.1 1.8M330.2 74.8l0.0 1.7M334.8 74.4l0.1 1.8M330.2 71.7l0.0 1.7M334.8 71.3l0.0 1.7M330.2 68.2l0.0 -1.7M334.8 67.8l0.0 -1.7M330.2 65.2l0.0 -1.7M334.8 64.7l0.1 -1.7M330.2 62.1l0.1 -1.7M334.8 61.6l0.1 -1.7M330.2 59.1l0.1 -1.7M334.8 58.6l0.2 -1.7M330.2 56.1l0.2 -1.8M334.8 55.5l0.4 -1.7M339.5 55.0l1.0 -1.3M344.1 54.7l1.6 -0.0M348.7 54.2l1.6 0.0M353.3 53.8l1.6 0.0M357.9 53.4l1.6 0.0M362.5 53.0l1.6 0.0M367.0 52.7l1.6 0.0M371.6 52.3l1.6 0.0M376.2 52.0l1.6 0.0M380.8 51.8l1.6 0.0M513.5 48.7l0.5 1.5M330.2 53.0l0.2 -1.8M334.8 52.4l0.5 -1.7M339.5 51.9l1.2 -1.1M344.1 51.5l1.6 -0.0M348.7 51.0l1.7 0.0M353.3 50.6l1.7 0.0M357.9 50.1l1.7 0.0M362.5 49.8l1.7 0.0M367.1 49.4l1.7 0.0M371.6 49.0l1.7 0.0M376.2 48.7l1.7 0.0M380.8 48.4l1.7 0.0M385.4 48.2l1.6 0.0M389.9 47.9l1.6 0.0M394.5 47.7l1.6 0.0M399.1 47.4l1.6 0.0M403.7 47.2l1.6 0.0M513.5 45.2l0.6 1.5M330.2 50.0l0.3 -1.8M334.9 49.3l0.7 -1.7M339.5 48.8l1.4 -1.0M344.2 48.4l1.7 -0.0M348.7 47.9l1.7 0.0M353.3 47.4l1.8 0.0M357.9 46.9l1.8 0.0M362.5 46.5l1.8 0.0M367.1 46.1l1.8 0.0M371.6 45.7l1.8 0.0M376.2 45.4l1.8 0.0M380.8 45.1l1.7 0.0M385.4 44.8l1.7 0.0M390.0 44.5l1.7 0.0M394.5 44.3l1.7 0.0M399.1 44.1l1.7 0.0M403.7 43.8l1.6 0.0M408.3 43.6l1.6 0.0M412.8 43.4l1.6 0.0M417.4 43.3l1.6 0.0M422.0 43.1l1.6 0.0M426.6 43.0l1.6 0.0M508.9 41.6l1.0 1.2M513.5 41.6l0.8 1.4M330.3 46.9l0.4 -1.8M334.9 46.2l0.8 -1.7M339.6 45.7l1.6 -0.9M344.2 45.2l1.8 -0.0M348.7 44.7l1.8 0.0M353.3 44.2l1.8 0.0M357.9 43.7l1.8 0.0M362.5 43.3l1.8 0.0M367.1 42.8l1.9 0.0M371.7 42.5l1.9 0.0M376.2 42.1l1.8 0.0M380.8 41.8l1.8 0.0M385.4 41.5l1.8 0.0M390.0 41.2l1.8 0.0M394.5 40.9l1.7 0.0M399.1 40.7l1.7 0.0M403.7 40.4l1.7 0.0M408.3 40.2l1.7 0.0M412.9 40.0l1.7 0.0M417.4 39.8l1.7 0.0M422.0 39.7l1.6 0.0M426.6 39.5l1.6 0.0M431.2 39.4l1.6 0.0M435.7 39.2l1.6 0.0M440.3 39.1l1.6 0.0M444.9 39.0l1.6 0.0M449.5 38.9l1.6 0.0M454.1 38.8l1.6 0.0M458.6 38.7l1.6 0.0M463.2 38.6l1.6 0.0M467.8 38.5l1.6 0.0M472.4 38.4l1.6 0.0M477.0 38.3l1.6 0.0M481.5 38.3l1.6 0.0M486.1 38.2l1.6 0.0M490.7 38.1l1.6 0.0M495.3 38.1l1.6 0.1M499.9 38.1l1.5 0.4M504.4 38.1l1.4 0.8M509.0 38.1l1.2 1.1M513.5 38.1l0.9 1.3M330.3 43.9l0.5 -1.8M334.9 43.2l1.0 -1.6M339.6 42.6l1.7 -0.7M344.2 42.1l1.9 -0.0M348.8 41.5l1.9 0.0M353.3 41.0l1.9 0.0M357.9 40.5l1.9 0.0M362.5 40.0l1.9 0.0M367.1 39.6l1.9 0.0M371.7 39.2l1.9 0.0M376.2 38.8l1.9 0.0M380.8 38.4l1.9 0.0M385.4 38.1l1.9 0.0M390.0 37.8l1.8 0.0M394.5 37.5l1.8 0.0M399.1 37.3l1.8 0.0M403.7 37.0l1.8 0.0M408.3 36.8l1.8 0.0M412.9 36.6l1.8 0.0M417.4 36.4l1.7 0.0M422.0 36.2l1.7 0.0M426.6 36.1l1.7 0.0M431.2 35.9l1.7 0.0M435.8 35.8l1.7 0.0M440.3 35.6l1.7 0.0M444.9 35.5l1.7 0.0M449.5 35.4l1.7 0.0M454.1 35.3l1.7 0.0M458.6 35.2l1.7 0.0M463.2 35.1l1.7 0.0M467.8 35.0l1.7 0.0M472.4 34.9l1.7 0.0M477.0 34.8l1.6 0.0M481.5 34.8l1.6 0.0M486.1 34.7l1.6 0.0M490.7 34.6l1.6 0.0M495.3 34.6l1.6 0.1M499.9 34.6l1.6 0.3M504.4 34.6l1.5 0.7M509.0 34.5l1.3 1.0M513.5 34.5l1.0 1.2" stroke="#000" stroke-width="1.20" stroke-opacity="0.67" stroke-linecap="butt" fill="none"/></g><g clip-path="url(#clc)"><path d="M30.4 254.7l2.3 -1.6M35.3 254.6l2.4 -1.5M40.2 254.5l2.5 -1.3M45.1 254.4l2.5 -1.2M50.0 254.4l2.6 -1.0M54.9 254.3l2.6 -0.8M59.9 254.2l2.6 -0.7M64.8 254.1l2.7 -0.5M69.8 254.0l2.7 -0.4M74.7 254.0l2.7 -0.3M79.7 253.9l2.7 -0.2M84.6 253.9l2.7 -0.1M89.6 253.9l2.7 -0.0M94.5 253.8l2.7 -0.0M99.5 253.8l2.7 -0.0M104.4 253.8l2.7 -0.0M109.4 253.8l2.7 -0.0M114.3 253.8l2.7 -0.0M119.3 253.8l2.7 -0.0M124.2 253.8l2.7 -0.0M129.2 253.8l2.7 -0.0M134.1 253.8l2.7 -0.0M139.1 253.8l2.7 -0.0M144.0 253.8l2.7 -0.0M149.0 253.8l2.7 -0.0M153.9 253.8l2.7 -0.0M158.9 253.8l2.7 -0.0M163.8 253.8l2.7 -0.0M168.7 253.8l2.8 -0.0M173.6 253.8l2.9 -0.0M178.5 253.8l2.9 -0.0M183.4 253.8l3.0 -0.0M188.3 253.8l3.1 -0.0M30.4 251.4l2.1 -1.8M35.3 251.3l2.2 -1.7M40.2 251.3l2.4 -1.5M45.1 251.2l2.4 -1.3M50.1 251.1l2.5 -1.2M54.9 251.0l2.7 -1.0M59.7 251.0l2.9 -0.9M30.5 248.2l1.9 -2.0M35.4 248.1l2.1 -1.9M40.3 248.0l2.2 -1.7M45.2 247.9l2.3 -1.5M50.1 247.8l2.3 -1.3M55.0 247.8l2.6 -1.2M59.8 247.7l2.8 -1.1M64.6 247.6l3.1 -0.9M30.7 244.9l1.7 -2.2M35.5 244.9l1.8 -2.1M40.4 244.8l1.9 -1.9M45.3 244.7l2.0 -1.8M50.2 244.6l2.1 -1.6M55.1 244.5l2.4 -1.4M59.9 244.4l2.7 -1.3M64.7 244.3l2.9 -1.1M30.8 241.7l1.4 -2.4M35.7 241.6l1.5 -2.3M40.6 241.5l1.6 -2.2M45.5 241.4l1.7 -2.0M50.4 241.4l1.9 -1.8M55.2 241.3l2.1 -1.7M60.0 241.2l2.4 -1.6M64.8 241.1l2.7 -1.3M69.6 241.0l3.0 -1.1M31.0 238.4l1.1 -2.6M35.9 238.3l1.1 -2.5M40.8 238.3l1.3 -2.4M45.7 238.2l1.4 -2.2M50.5 238.1l1.5 -2.1M55.4 238.1l1.8 -2.0M60.1 238.0l2.1 -1.9M64.9 237.9l2.4 -1.7M69.7 237.8l2.7 -1.4M74.6 237.6l2.9 -1.1M79.4 237.4l3.1 -0.7M31.1 235.1l0.7 -2.7M36.1 235.1l0.8 -2.6M41.0 235.0l0.9 -2.5M45.9 235.0l1.0 -2.4M50.8 234.9l1.1 -2.3M55.6 234.9l1.3 -2.3M60.4 234.9l1.6 -2.3M65.2 234.8l2.0 -2.1M69.9 234.7l2.4 -1.9M74.7 234.5l2.7 -1.5M79.5 234.2l2.9 -1.0M84.4 234.0l3.1 -0.5M89.3 233.8l3.1 -0.1M94.3 233.8l3.2 -0.0M31.3 231.8l0.4 -2.7M36.2 231.7l0.4 -2.7M41.2 231.7l0.5 -2.6M46.1 231.7l0.6 -2.5M51.0 231.6l0.6 -2.4M55.8 231.7l0.8 -2.5M60.7 231.7l1.0 -2.6M65.5 231.7l1.3 -2.6M70.3 231.6l1.7 -2.4M75.0 231.4l2.1 -2.1M79.7 231.2l2.5 -1.6M84.5 230.8l2.8 -0.9M89.4 230.5l3.0 -0.3M94.3 230.4l3.0 -0.0M99.3 230.4l3.1 -0.0M104.2 230.4l3.1 -0.0M109.1 230.4l3.1 -0.0M114.1 230.4l3.2 -0.0M119.0 230.4l3.2 -0.0M31.4 228.4l0.2 -2.8M36.4 228.4l0.2 -2.7M41.3 228.4l0.2 -2.6M46.2 228.3l0.2 -2.6M51.2 228.3l0.3 -2.5M56.1 228.3l0.3 -2.6M61.0 228.4l0.4 -2.7M65.9 228.4l0.5 -2.8M70.7 228.5l0.7 -2.8M75.5 228.4l1.0 -2.7M80.2 228.3l1.5 -2.4M84.8 227.9l2.2 -1.8M89.5 227.4l2.7 -0.6M94.4 227.1l2.8 -0.0M99.4 227.1l2.9 -0.0M104.3 227.1l2.9 -0.0M109.2 227.1l3.0 -0.0M114.2 227.1l3.0 -0.0M119.1 227.1l3.0 -0.0M124.0 227.1l3.0 -0.0M129.0 227.1l3.0 -0.0M133.9 227.1l3.1 -0.0M138.9 227.1l3.1 -0.0M143.8 227.1l3.1 -0.0M148.7 227.1l3.1 -0.0M153.7 227.1l3.1 -0.0M158.6 227.1l3.2 -0.0M163.6 227.1l3.2 -0.0M31.5 225.1l0.0 -2.8M36.4 225.1l0.0 -2.7M41.4 225.0l0.0 -2.6M46.3 225.0l0.0 -2.6M51.3 225.0l0.0 -2.5M56.2 225.0l0.0 -2.5M61.2 225.0l0.0 -2.7M66.1 225.1l0.0 -2.8M71.1 225.1l0.0 -2.9M76.0 225.1l0.1 -2.9M80.9 225.1l0.1 -2.8M85.8 225.1l0.2 -2.8M90.6 225.0l0.7 -2.6M94.6 223.7l2.6 -0.0M99.5 223.7l2.6 -0.0M104.4 223.7l2.7 -0.0M109.4 223.7l2.7 -0.0M114.3 223.7l2.7 -0.0M119.2 223.7l2.7 -0.0M124.2 223.7l2.8 -0.0M129.1 223.7l2.8 -0.0M134.1 223.7l2.8 -0.0M139.0 223.7l2.8 -0.0M143.9 223.7l2.8 -0.0M148.9 223.7l2.9 -0.0M153.8 223.7l2.9 -0.0M158.7 223.7l2.9 -0.0M163.7 223.7l2.9 -0.0M168.6 223.7l2.9 -0.0M173.6 223.7l2.9 -0.0M178.5 223.7l2.9 -0.0M183.5 223.7l2.9 -0.0M188.4 223.7l2.9 -0.0M194.7 225.3l0.2 -3.2M31.4 221.7l0.1 -2.8M36.4 221.7l0.1 -2.7M41.3 221.7l0.1 -2.6M46.3 221.6l0.1 -2.6M51.2 221.6l0.2 -2.5M56.1 221.6l0.2 -2.5M61.1 221.7l0.3 -2.6M66.0 221.7l0.4 -2.7M70.8 221.8l0.5 -2.8M75.7 221.7l0.7 -2.8M80.4 221.7l1.1 -2.6M85.0 221.4l1.8 -2.1M89.6 220.8l2.6 -0.9M94.5 220.4l2.8 0.0M99.4 220.4l2.8 0.0M104.3 220.4l2.8 0.0M109.3 220.4l2.9 0.0M114.2 220.4l2.9 0.0M119.1 220.4l2.9 0.0M124.1 220.4l3.0 0.0M129.0 220.4l3.0 0.0M133.9 220.4l3.0 0.0M138.9 220.4l3.0 0.0M143.8 220.4l3.0 0.0M148.8 220.4l3.1 0.0M153.7 220.4l3.1 0.0M158.6 220.4l3.1 0.0M163.6 220.4l3.2 0.0M168.5 220.4l3.2 0.0M173.5 220.4l3.2 0.0M178.4 220.4l3.2 0.0M183.4 220.4l3.2 0.0M188.3 220.4l3.2 0.0M31.3 218.4l0.4 -2.7M36.2 218.3l0.4 -2.7M41.2 218.3l0.5 -2.6M46.1 218.3l0.5 -2.5M51.0 218.2l0.6 -2.4M55.9 218.2l0.7 -2.4M60.7 218.2l0.9 -2.5M65.5 218.3l1.2 -2.5M70.3 218.2l1.6 -2.4M75.0 218.1l2.0 -2.1M79.8 217.8l2.5 -1.6M84.6 217.4l2.8 -0.9M89.4 217.1l2.9 -0.3M94.4 217.0l3.0 0.0M99.3 217.0l3.0 0.0M104.2 217.0l3.1 0.0M109.1 217.0l3.1 0.0M114.1 217.0l3.1 0.0M119.0 217.0l3.2 0.0M124.0 217.0l3.2 0.0M31.1 215.0l0.8 -2.7M36.0 214.9l0.8 -2.6M40.9 214.9l0.9 -2.5M45.8 214.8l1.0 -2.4M50.7 214.8l1.2 -2.3M55.6 214.7l1.3 -2.1M60.4 214.7l1.6 -2.1M65.2 214.6l2.0 -2.0M69.9 214.5l2.4 -1.7M74.7 214.3l2.7 -1.4M79.6 214.1l2.9 -0.9M84.4 213.9l3.0 -0.5M89.4 213.7l3.1 -0.1M94.3 213.7l3.1 0.0M99.2 213.7l3.2 0.0M30.9 211.6l1.2 -2.5M35.8 211.5l1.3 -2.4M40.7 211.4l1.4 -2.3M45.6 211.4l1.5 -2.1M50.5 211.3l1.7 -2.0M55.4 211.2l1.8 -1.8M60.2 211.1l2.1 -1.6M65.0 211.0l2.4 -1.5M69.8 210.9l2.7 -1.2M74.6 210.8l2.9 -0.9M79.5 210.6l3.1 -0.6M84.4 210.5l3.2 -0.3M30.7 208.1l1.6 -2.3M35.6 208.0l1.7 -2.2M40.5 208.0l1.8 -2.0M45.4 207.9l1.9 -1.9M50.3 207.8l2.0 -1.7M55.2 207.7l2.1 -1.4M60.1 207.6l2.3 -1.2M64.9 207.5l2.6 -1.1M69.7 207.4l2.8 -0.9M74.5 207.3l3.1 -0.7M30.6 204.6l1.9 -2.1M35.4 204.6l2.0 -1.9M40.3 204.5l2.1 -1.8M45.3 204.4l2.2 -1.6M50.2 204.3l2.3 -1.4M55.1 204.2l2.3 -1.2M60.0 204.1l2.4 -1.0M64.8 204.0l2.7 -0.8M69.6 203.9l2.9 -0.7M30.4 201.2l2.1 -1.8M35.3 201.1l2.2 -1.7M40.2 201.0l2.3 -1.5M45.2 200.9l2.4 -1.3M50.1 200.8l2.5 -1.1M55.0 200.7l2.5 -1.0M59.9 200.6l2.6 -0.8M64.7 200.6l2.8 -0.7M69.6 200.5l3.1 -0.5M30.3 197.7l2.3 -1.6M35.2 197.6l2.4 -1.4M40.2 197.5l2.5 -1.3M45.1 197.5l2.6 -1.1M50.0 197.4l2.6 -1.0M54.9 197.3l2.6 -0.8M59.9 197.2l2.7 -0.7M64.7 197.2l2.9 -0.6M69.5 197.1l3.2 -0.5M30.3 194.2l2.4 -1.4M35.2 194.2l2.5 -1.2M40.1 194.1l2.6 -1.1M45.0 194.0l2.6 -1.0M50.0 194.0l2.7 -0.8M54.9 193.9l2.7 -0.7M59.8 193.8l2.8 -0.6M64.6 193.8l3.0 -0.5" stroke="#000" stroke-width="0.50" stroke-opacity="0.36" stroke-linecap="butt" fill="none"/><path d="M31.6 253.8l0.9 -0.6M36.6 253.8l1.0 -0.6M41.5 253.8l1.0 -0.5M46.5 253.8l1.0 -0.5M51.4 253.8l1.0 -0.4M56.4 253.8l1.1 -0.3M61.3 253.8l1.1 -0.3M66.3 253.8l1.1 -0.2M71.2 253.8l1.1 -0.2M76.2 253.8l1.1 -0.1M81.1 253.8l1.1 -0.1M86.1 253.8l1.1 -0.0M91.0 253.8l1.1 -0.0M96.0 253.8l1.1 -0.0M100.9 253.8l1.1 -0.0M105.9 253.8l1.1 -0.0M110.8 253.8l1.1 -0.0M115.8 253.8l1.1 -0.0M120.7 253.8l1.1 -0.0M125.7 253.8l1.1 -0.0M130.6 253.8l1.1 -0.0M135.6 253.8l1.1 -0.0M140.5 253.8l1.1 -0.0M145.5 253.8l1.1 -0.0M150.4 253.8l1.1 -0.0M155.4 253.8l1.1 -0.0M160.3 253.8l1.1 -0.0M165.3 253.8l1.1 -0.0M170.2 253.8l1.1 -0.0M175.2 253.8l1.1 -0.0M180.1 253.8l1.2 -0.0M185.1 253.8l1.2 -0.0M190.1 253.8l1.2 -0.0M31.6 250.4l0.9 -0.7M36.6 250.4l0.9 -0.7M41.5 250.4l0.9 -0.6M46.5 250.4l1.0 -0.5M51.4 250.4l1.0 -0.5M56.4 250.4l1.1 -0.4M61.3 250.5l1.2 -0.4M31.6 247.0l0.8 -0.8M36.6 247.1l0.8 -0.8M41.5 247.1l0.9 -0.7M46.5 247.1l0.9 -0.6M51.4 247.1l0.9 -0.5M56.4 247.1l1.0 -0.5M61.3 247.1l1.1 -0.4M66.3 247.1l1.2 -0.4M31.6 243.7l0.7 -0.9M36.5 243.7l0.7 -0.8M41.5 243.7l0.8 -0.8M46.5 243.7l0.8 -0.7M51.4 243.7l0.9 -0.6M56.4 243.7l1.0 -0.6M61.3 243.7l1.1 -0.5M66.3 243.7l1.2 -0.4M31.6 240.3l0.6 -1.0M36.5 240.3l0.6 -0.9M41.5 240.3l0.6 -0.9M46.4 240.4l0.7 -0.8M51.4 240.4l0.7 -0.7M56.4 240.4l0.9 -0.7M61.3 240.4l1.0 -0.6M66.3 240.4l1.1 -0.5M71.2 240.4l1.2 -0.4M31.6 237.0l0.4 -1.0M36.5 237.0l0.5 -1.0M41.5 237.0l0.5 -0.9M46.4 237.0l0.6 -0.9M51.4 237.0l0.6 -0.8M56.3 237.0l0.7 -0.8M61.3 237.0l0.8 -0.8M66.3 237.0l1.0 -0.7M71.2 237.0l1.1 -0.6M76.2 237.0l1.2 -0.4M81.2 237.1l1.2 -0.3M31.5 233.6l0.3 -1.1M36.5 233.6l0.3 -1.0M41.4 233.6l0.3 -1.0M46.4 233.6l0.4 -1.0M51.4 233.6l0.4 -0.9M56.3 233.6l0.5 -0.9M61.3 233.6l0.7 -0.9M66.2 233.6l0.8 -0.9M71.2 233.7l0.9 -0.8M76.2 233.7l1.1 -0.6M81.1 233.7l1.2 -0.4M86.1 233.7l1.2 -0.2M91.1 233.7l1.2 -0.1M96.0 233.8l1.3 -0.0M31.5 230.3l0.2 -1.1M36.5 230.3l0.2 -1.1M41.4 230.3l0.2 -1.0M46.4 230.3l0.2 -1.0M51.3 230.3l0.3 -1.0M56.3 230.3l0.3 -1.0M61.3 230.3l0.4 -1.0M66.2 230.3l0.5 -1.0M71.2 230.3l0.7 -1.0M76.2 230.3l0.8 -0.8M81.1 230.3l1.0 -0.6M86.1 230.4l1.1 -0.3M91.0 230.4l1.2 -0.1M96.0 230.4l1.2 -0.0M101.0 230.4l1.2 -0.0M105.9 230.4l1.2 -0.0M110.9 230.4l1.3 -0.0M115.8 230.4l1.3 -0.0M120.8 230.4l1.3 -0.0M31.5 226.9l0.1 -1.1M36.5 226.9l0.1 -1.1M41.4 226.9l0.1 -1.1M46.4 226.9l0.1 -1.0M51.3 226.9l0.1 -1.0M56.3 226.9l0.1 -1.0M61.2 226.9l0.2 -1.1M66.2 226.9l0.2 -1.1M71.1 226.9l0.3 -1.1M76.1 226.9l0.4 -1.1M81.1 226.9l0.6 -1.0M86.1 227.0l0.9 -0.7M91.0 227.0l1.1 -0.2M96.0 227.1l1.1 -0.0M100.9 227.1l1.1 -0.0M105.9 227.1l1.2 -0.0M110.8 227.1l1.2 -0.0M115.8 227.1l1.2 -0.0M120.7 227.1l1.2 -0.0M125.7 227.1l1.2 -0.0M130.7 227.1l1.2 -0.0M135.6 227.1l1.2 -0.0M140.6 227.1l1.2 -0.0M145.5 227.1l1.2 -0.0M150.5 227.1l1.2 -0.0M155.4 227.1l1.3 -0.0M160.4 227.1l1.3 -0.0M165.3 227.1l1.3 -0.0M31.5 223.6l0.0 -1.1M36.5 223.6l0.0 -1.1M41.4 223.6l0.0 -1.1M46.4 223.6l0.0 -1.0M51.3 223.6l0.0 -1.0M56.3 223.6l0.0 -1.0M61.2 223.6l0.0 -1.1M66.2 223.6l0.0 -1.1M71.1 223.6l0.0 -1.2M76.1 223.6l0.0 -1.2M81.0 223.6l0.0 -1.1M86.0 223.6l0.1 -1.1M90.9 223.6l0.3 -1.0M96.0 223.7l1.0 -0.0M100.9 223.7l1.0 -0.0M105.9 223.7l1.1 -0.0M110.8 223.7l1.1 -0.0M115.8 223.7l1.1 -0.0M120.7 223.7l1.1 -0.0M125.7 223.7l1.1 -0.0M130.6 223.7l1.1 -0.0M135.6 223.7l1.1 -0.0M140.5 223.7l1.1 -0.0M145.5 223.7l1.1 -0.0M150.4 223.7l1.1 -0.0M155.4 223.7l1.2 -0.0M160.3 223.7l1.2 -0.0M165.3 223.7l1.2 -0.0M170.2 223.7l1.2 -0.0M175.2 223.7l1.2 -0.0M180.1 223.7l1.2 -0.0M185.1 223.7l1.2 -0.0M190.0 223.7l1.2 -0.0M194.9 223.5l0.1 -1.3M31.5 220.2l0.0 -1.1M36.5 220.2l0.0 -1.1M41.4 220.2l0.1 -1.1M46.4 220.2l0.1 -1.0M51.3 220.2l0.1 -1.0M56.3 220.2l0.1 -1.0M61.2 220.2l0.1 -1.1M66.2 220.2l0.1 -1.1M71.1 220.2l0.2 -1.1M76.1 220.2l0.3 -1.1M81.1 220.2l0.4 -1.1M86.0 220.2l0.7 -0.9M91.0 220.3l1.0 -0.3M96.0 220.4l1.1 0.0M100.9 220.4l1.1 0.0M105.9 220.4l1.1 0.0M110.8 220.4l1.2 0.0M115.8 220.4l1.2 0.0M120.7 220.4l1.2 0.0M125.7 220.4l1.2 0.0M130.6 220.4l1.2 0.0M135.6 220.4l1.2 0.0M140.6 220.4l1.2 0.0M145.5 220.4l1.2 0.0M150.5 220.4l1.2 0.0M155.4 220.4l1.2 0.0M160.4 220.4l1.3 0.0M165.3 220.4l1.3 0.0M170.3 220.4l1.3 0.0M175.2 220.4l1.3 0.0M180.2 220.4l1.3 0.0M185.1 220.4l1.3 0.0M190.1 220.4l1.3 0.0M31.5 216.9l0.2 -1.1M36.5 216.9l0.2 -1.1M41.4 216.9l0.2 -1.0M46.4 216.9l0.2 -1.0M51.3 216.9l0.2 -1.0M56.3 216.9l0.3 -1.0M61.2 216.9l0.4 -1.0M66.2 216.9l0.5 -1.0M71.2 216.9l0.6 -1.0M76.2 216.9l0.8 -0.8M81.1 216.9l1.0 -0.6M86.1 217.0l1.1 -0.4M91.0 217.0l1.2 -0.1M96.0 217.0l1.2 0.0M101.0 217.0l1.2 0.0M105.9 217.0l1.2 0.0M110.9 217.0l1.2 0.0M115.8 217.0l1.3 0.0M120.8 217.0l1.3 0.0M125.7 217.0l1.3 0.0M31.5 213.5l0.3 -1.1M36.5 213.5l0.3 -1.0M41.4 213.5l0.4 -1.0M46.4 213.5l0.4 -1.0M51.4 213.5l0.5 -0.9M56.3 213.5l0.5 -0.8M61.3 213.5l0.7 -0.8M66.2 213.6l0.8 -0.8M71.2 213.6l0.9 -0.7M76.2 213.6l1.1 -0.5M81.1 213.6l1.2 -0.4M86.1 213.6l1.2 -0.2M91.1 213.6l1.2 -0.1M96.0 213.7l1.3 0.0M101.0 213.7l1.3 0.0M31.6 210.2l0.5 -1.0M36.5 210.2l0.5 -1.0M41.5 210.2l0.6 -0.9M46.4 210.2l0.6 -0.9M51.4 210.2l0.7 -0.8M56.3 210.2l0.7 -0.7M61.3 210.2l0.8 -0.7M66.3 210.2l1.0 -0.6M71.2 210.2l1.1 -0.5M76.2 210.3l1.2 -0.4M81.2 210.3l1.2 -0.2M86.1 210.3l1.3 -0.1M31.6 206.8l0.6 -0.9M36.5 206.8l0.7 -0.9M41.5 206.8l0.7 -0.8M46.4 206.9l0.8 -0.7M51.4 206.9l0.8 -0.7M56.4 206.9l0.8 -0.6M61.3 206.9l0.9 -0.5M66.3 206.9l1.0 -0.4M71.2 206.9l1.1 -0.4M76.2 206.9l1.2 -0.3M31.6 203.5l0.8 -0.8M36.6 203.5l0.8 -0.8M41.5 203.5l0.8 -0.7M46.5 203.5l0.9 -0.6M51.4 203.5l0.9 -0.5M56.4 203.5l0.9 -0.5M61.3 203.6l1.0 -0.4M66.3 203.6l1.1 -0.3M71.2 203.6l1.2 -0.3M31.6 200.2l0.9 -0.7M36.6 200.2l0.9 -0.7M41.5 200.2l0.9 -0.6M46.5 200.2l1.0 -0.5M51.4 200.2l1.0 -0.5M56.4 200.2l1.0 -0.4M61.3 200.2l1.0 -0.3M66.3 200.2l1.1 -0.3M71.3 200.2l1.2 -0.2M31.6 196.8l0.9 -0.6M36.6 196.8l1.0 -0.6M41.5 196.8l1.0 -0.5M46.5 196.8l1.0 -0.5M51.4 196.9l1.0 -0.4M56.4 196.9l1.0 -0.3M61.3 196.9l1.1 -0.3M66.3 196.9l1.2 -0.2M71.3 196.9l1.3 -0.2M31.6 193.5l1.0 -0.6M36.6 193.5l1.0 -0.5M41.5 193.5l1.0 -0.4M46.5 193.5l1.1 -0.4M51.4 193.5l1.1 -0.3M56.4 193.5l1.1 -0.3M61.3 193.5l1.1 -0.2M66.3 193.5l1.2 -0.2" stroke="#000" stroke-width="1.10" stroke-opacity="0.40" stroke-linecap="butt" fill="none"/><path d="M193.2 253.9l3.2 -0.1M198.2 254.1l3.2 -0.5M203.2 254.4l3.2 -1.1M208.2 254.8l3.0 -1.8M213.3 255.1l2.7 -2.4M218.4 255.3l2.3 -2.9M64.6 250.9l3.2 -0.8M69.4 250.8l3.3 -0.6M74.4 250.7l3.4 -0.4M79.3 250.6l3.4 -0.3M84.2 250.6l3.4 -0.1M89.2 250.5l3.4 -0.0M94.1 250.5l3.4 -0.0M99.1 250.5l3.4 -0.0M104.0 250.5l3.4 -0.0M109.0 250.5l3.4 -0.0M113.9 250.5l3.4 -0.0M118.9 250.5l3.5 -0.0M123.8 250.5l3.5 -0.0M128.8 250.5l3.5 -0.0M133.7 250.5l3.5 -0.0M138.6 250.5l3.5 -0.0M143.6 250.5l3.5 -0.0M148.5 250.5l3.6 -0.0M153.5 250.5l3.6 -0.0M158.4 250.5l3.6 -0.0M163.3 250.5l3.6 -0.0M168.3 250.5l3.7 -0.0M173.2 250.5l3.7 -0.0M178.1 250.5l3.7 -0.0M183.1 250.5l3.7 -0.0M188.0 250.5l3.8 -0.0M192.9 250.6l3.8 -0.1M197.9 250.9l3.8 -0.7M202.9 251.3l3.7 -1.6M208.0 251.7l3.3 -2.4M213.2 252.1l2.9 -3.1M218.4 252.3l2.4 -3.6M69.5 247.5l3.3 -0.7M74.4 247.4l3.4 -0.5M79.3 247.3l3.5 -0.3M84.2 247.2l3.5 -0.2M89.1 247.2l3.6 -0.0M94.1 247.2l3.6 -0.0M99.0 247.2l3.6 -0.0M103.9 247.2l3.6 -0.0M108.9 247.2l3.7 -0.0M113.8 247.2l3.7 -0.0M118.7 247.2l3.7 -0.0M123.7 247.2l3.7 -0.0M128.6 247.2l3.8 -0.0M133.6 247.2l3.8 -0.0M138.5 247.2l3.8 -0.0M143.4 247.2l3.8 -0.0M148.4 247.2l3.9 -0.0M153.3 247.2l3.9 -0.0M158.2 247.2l3.9 -0.0M163.2 247.2l4.0 -0.0M168.1 247.2l4.0 -0.0M173.0 247.2l4.0 -0.0M178.0 247.2l4.0 -0.0M182.9 247.2l4.0 -0.0M187.9 247.2l4.1 -0.0M192.8 247.2l4.1 -0.2M197.8 247.6l4.0 -1.0M202.9 248.1l3.8 -2.0M208.1 248.6l3.3 -2.9M213.3 249.0l2.7 -3.6M218.5 249.1l2.2 -3.9M69.5 244.2l3.1 -0.9M74.4 244.1l3.3 -0.6M79.3 244.0l3.4 -0.4M84.2 243.9l3.5 -0.2M89.1 243.8l3.5 -0.1M94.1 243.8l3.6 -0.0M99.0 243.8l3.6 -0.0M103.9 243.8l3.7 -0.0M108.8 243.8l3.7 -0.0M113.8 243.8l3.7 -0.0M118.7 243.8l3.7 -0.0M123.7 243.8l3.8 -0.0M128.6 243.8l3.8 -0.0M133.6 243.8l3.8 -0.0M138.5 243.8l3.8 -0.0M143.4 243.8l3.8 -0.0M148.4 243.8l3.8 -0.0M153.3 243.8l3.9 -0.0M158.3 243.8l3.9 -0.0M163.2 243.8l3.9 -0.0M168.1 243.8l3.9 -0.0M173.1 243.8l3.9 -0.0M178.0 243.8l3.9 -0.0M183.0 243.8l4.0 -0.0M187.9 243.8l4.0 -0.0M192.8 243.9l4.0 -0.2M197.8 244.4l3.9 -1.2M203.0 245.0l3.5 -2.3M208.3 245.4l2.9 -3.2M213.5 245.7l2.3 -3.9M218.7 245.8l1.8 -4.0M74.5 240.8l3.1 -0.8M79.4 240.7l3.2 -0.5M84.3 240.6l3.3 -0.3M89.2 240.5l3.4 -0.1M94.1 240.5l3.5 -0.0M99.0 240.5l3.5 -0.0M104.0 240.5l3.6 -0.0M108.9 240.5l3.6 -0.0M113.8 240.5l3.6 -0.0M118.8 240.5l3.6 -0.0M123.7 240.5l3.6 -0.0M128.7 240.5l3.7 -0.0M133.6 240.5l3.7 -0.0M138.6 240.5l3.7 -0.0M143.5 240.5l3.7 -0.0M148.4 240.5l3.7 -0.0M153.4 240.5l3.7 -0.0M158.3 240.5l3.8 -0.0M163.3 240.5l3.8 -0.0M168.2 240.5l3.8 -0.0M173.1 240.5l3.8 -0.0M178.1 240.5l3.8 -0.0M183.0 240.5l3.8 -0.0M188.0 240.5l3.9 -0.0M192.9 240.6l3.9 -0.3M197.9 241.2l3.7 -1.5M203.2 241.8l3.1 -2.7M208.5 242.2l2.4 -3.5M213.7 242.5l1.8 -4.0M218.9 242.5l1.4 -4.2M84.3 237.3l3.2 -0.4M89.3 237.2l3.3 -0.1M94.2 237.1l3.3 -0.0M99.1 237.1l3.4 -0.0M104.0 237.1l3.4 -0.0M109.0 237.1l3.5 -0.0M113.9 237.1l3.5 -0.0M118.9 237.1l3.5 -0.0M123.8 237.1l3.5 -0.0M128.7 237.1l3.5 -0.0M133.7 237.1l3.5 -0.0M138.6 237.1l3.6 -0.0M143.6 237.1l3.6 -0.0M148.5 237.1l3.6 -0.0M153.4 237.1l3.6 -0.0M158.4 237.1l3.6 -0.0M163.3 237.1l3.6 -0.0M168.3 237.1l3.7 -0.0M173.2 237.1l3.7 -0.0M178.1 237.1l3.7 -0.0M183.1 237.1l3.8 -0.0M188.0 237.1l3.8 -0.0M193.0 237.3l3.8 -0.4M198.1 238.1l3.4 -1.9M203.5 238.7l2.5 -3.1M208.8 239.0l1.8 -3.8M214.0 239.2l1.3 -4.2M219.1 239.2l1.0 -4.2M99.2 233.8l3.2 -0.0M104.1 233.8l3.3 -0.0M109.0 233.8l3.3 -0.0M114.0 233.8l3.3 -0.0M118.9 233.8l3.3 -0.0M123.9 233.8l3.4 -0.0M128.8 233.8l3.4 -0.0M133.7 233.8l3.4 -0.0M138.7 233.8l3.4 -0.0M143.6 233.8l3.4 -0.0M148.6 233.8l3.5 -0.0M153.5 233.8l3.5 -0.0M158.5 233.8l3.5 -0.0M163.4 233.8l3.5 -0.0M168.3 233.8l3.5 -0.0M173.3 233.8l3.6 -0.0M178.2 233.8l3.6 -0.0M183.1 233.8l3.6 -0.0M188.1 233.8l3.6 -0.0M193.1 234.1l3.6 -0.6M198.4 235.0l2.8 -2.5M203.8 235.5l1.8 -3.5M209.1 235.7l1.2 -4.0M214.2 235.9l0.9 -4.3M219.3 235.9l0.6 -4.3M123.9 230.4l3.2 -0.0M128.9 230.4l3.2 -0.0M133.8 230.4l3.2 -0.0M138.8 230.4l3.3 -0.0M143.7 230.4l3.3 -0.0M148.7 230.4l3.3 -0.0M153.6 230.4l3.3 -0.0M158.5 230.4l3.3 -0.0M163.5 230.4l3.4 -0.0M168.4 230.4l3.4 -0.0M173.3 230.4l3.4 -0.0M178.3 230.4l3.4 -0.0M183.2 230.4l3.4 -0.0M188.2 230.4l3.4 -0.0M193.2 230.9l3.3 -1.0M198.8 231.9l1.9 -3.1M204.2 232.3l1.1 -3.7M209.4 232.4l0.7 -4.0M214.4 232.5l0.5 -4.3M219.4 232.5l0.4 -4.3M168.5 227.1l3.2 -0.0M173.4 227.1l3.2 -0.0M178.4 227.1l3.2 -0.0M183.3 227.1l3.2 -0.0M188.3 227.1l3.2 -0.0M193.6 228.1l2.5 -2.1M199.4 228.8l0.8 -3.5M204.5 229.0l0.4 -3.8M209.6 229.1l0.3 -4.1M214.6 229.2l0.2 -4.3M219.5 229.2l0.1 -4.3M199.8 225.5l0.1 -3.5M204.7 225.6l0.0 -3.8M209.7 225.7l0.0 -4.1M214.6 225.9l0.0 -4.3M219.6 225.8l0.0 -4.3M193.8 219.1l2.1 2.5M199.5 218.6l0.6 3.5M204.6 218.4l0.3 3.8M209.6 218.3l0.2 4.1M214.6 218.2l0.1 4.3M219.6 218.2l0.1 4.3M128.9 217.0l3.2 0.0M133.8 217.0l3.2 0.0M138.8 217.0l3.3 0.0M143.7 217.0l3.3 0.0M148.6 217.0l3.3 0.0M153.6 217.0l3.4 0.0M158.5 217.0l3.4 0.0M163.4 217.0l3.4 0.0M168.4 217.0l3.4 0.0M173.3 217.0l3.4 0.0M178.3 217.0l3.4 0.0M183.2 217.0l3.4 0.0M188.2 217.0l3.4 0.0M193.2 216.5l3.3 1.1M198.9 215.5l1.9 3.1M204.2 215.1l1.0 3.7M209.4 215.0l0.7 4.0M214.4 214.9l0.5 4.3M219.4 214.9l0.3 4.3M104.1 213.7l3.3 0.0M109.1 213.7l3.3 0.0M114.0 213.7l3.3 0.0M118.9 213.7l3.4 0.0M123.9 213.7l3.4 0.0M128.8 213.7l3.4 0.0M133.7 213.7l3.5 0.0M138.7 213.7l3.5 0.0M143.6 213.7l3.5 0.0M148.5 213.7l3.6 0.0M153.4 213.7l3.6 0.0M158.4 213.7l3.6 0.0M163.3 213.7l3.6 0.0M168.3 213.7l3.6 0.0M173.2 213.7l3.6 0.0M178.2 213.7l3.6 0.0M183.1 213.7l3.6 0.0M188.1 213.7l3.6 0.0M193.1 213.4l3.6 0.6M198.4 212.5l2.9 2.3M203.8 211.9l1.9 3.4M209.0 211.7l1.3 3.9M214.2 211.5l1.0 4.2M219.3 211.5l0.7 4.3M89.3 210.3l3.2 -0.1M94.2 210.3l3.3 0.0M99.1 210.3l3.4 0.0M104.0 210.3l3.4 0.0M109.0 210.3l3.5 0.0M113.9 210.3l3.5 0.0M118.8 210.3l3.5 0.0M123.8 210.3l3.6 0.0M128.7 210.3l3.6 0.0M133.6 210.3l3.6 0.0M138.6 210.3l3.7 0.0M143.5 210.3l3.7 0.0M148.4 210.3l3.7 0.0M153.4 210.3l3.8 0.0M158.3 210.3l3.8 0.0M163.3 210.3l3.8 0.0M168.2 210.3l3.8 0.0M173.2 210.3l3.8 0.0M178.1 210.3l3.8 0.0M183.1 210.3l3.8 0.0M188.0 210.3l3.8 0.0M193.0 210.1l3.8 0.4M198.1 209.4l3.5 1.7M203.4 208.8l2.7 3.0M208.7 208.5l2.0 3.7M213.9 208.2l1.5 4.1M219.0 208.2l1.1 4.2M79.4 207.2l3.2 -0.4M84.3 207.1l3.3 -0.2M89.2 207.0l3.4 -0.1M94.1 207.0l3.4 0.0M99.1 207.0l3.5 0.0M104.0 207.0l3.6 0.0M108.9 207.0l3.6 0.0M113.8 207.0l3.7 0.0M118.8 207.0l3.7 0.0M123.7 207.0l3.7 0.0M128.6 207.0l3.8 0.0M133.5 207.0l3.8 0.0M138.5 207.0l3.8 0.0M143.4 207.0l3.9 0.0M148.3 207.0l3.9 0.0M153.3 207.0l4.0 0.0M158.2 207.0l4.0 0.0M163.2 207.0l4.0 0.0M168.1 207.0l4.0 0.0M173.1 207.0l4.0 0.0M178.0 207.0l4.0 0.0M183.0 207.0l4.0 0.0M187.9 207.0l4.0 0.0M192.9 206.8l4.0 0.3M197.9 206.3l3.8 1.3M203.1 205.7l3.3 2.5M208.4 205.3l2.6 3.4M213.6 205.0l2.1 3.9M218.8 204.9l1.6 4.1M74.4 203.9l3.2 -0.5M79.3 203.8l3.3 -0.3M84.2 203.7l3.4 -0.2M89.1 203.6l3.5 -0.0M94.1 203.6l3.6 0.0M99.0 203.6l3.6 0.0M103.9 203.6l3.7 0.0M108.8 203.6l3.7 0.0M113.8 203.6l3.8 0.0M118.7 203.6l3.8 0.0M123.6 203.6l3.9 0.0M128.5 203.6l3.9 0.0M133.5 203.6l4.0 0.0M138.4 203.6l4.0 0.0M143.3 203.6l4.0 0.0M148.2 203.6l4.1 0.0M153.2 203.6l4.1 0.0M158.1 203.6l4.1 0.0M163.1 203.6l4.1 0.0M168.0 203.6l4.1 0.0M173.0 203.6l4.1 0.0M177.9 203.6l4.1 0.0M182.9 203.6l4.1 0.0M187.8 203.6l4.1 0.0M192.8 203.5l4.1 0.2M197.8 203.1l4.0 1.0M202.9 202.6l3.7 2.1M208.1 202.1l3.2 3.0M213.3 201.8l2.6 3.7M218.6 201.6l2.1 3.9M74.4 200.5l3.4 -0.4M79.3 200.4l3.5 -0.3M84.2 200.3l3.6 -0.1M89.1 200.3l3.6 -0.0M94.0 200.3l3.7 0.0M98.9 200.3l3.8 0.0M103.8 200.3l3.8 0.0M108.8 200.3l3.9 0.0M113.7 200.3l3.9 0.0M118.6 200.3l4.0 0.0M123.5 200.3l4.0 0.0M128.5 200.3l4.1 0.0M133.4 200.3l4.1 0.0M138.3 200.3l4.1 0.0M143.2 200.3l4.2 0.0M148.2 200.3l4.3 0.0M153.1 200.3l4.3 0.0M158.1 200.3l4.3 0.0M163.0 200.3l4.3 0.0M168.0 200.3l4.3 0.0M172.9 200.3l4.3 0.0M177.9 200.3l4.3 0.0M182.8 200.3l4.3 0.0M187.8 200.3l4.3 0.0M192.7 200.2l4.3 0.2M197.7 199.8l4.2 0.8M202.7 199.4l4.0 1.7M207.9 198.9l3.6 2.6M213.1 198.6l3.1 3.4M218.3 198.4l2.5 3.7M74.3 197.1l3.5 -0.3M79.2 197.0l3.6 -0.2M84.1 197.0l3.7 -0.1M89.0 196.9l3.8 -0.0M93.9 196.9l3.8 0.0M98.9 196.9l3.9 0.0M103.8 196.9l3.9 0.0M108.7 196.9l4.0 0.0M113.6 196.9l4.1 0.0M118.5 196.9l4.1 0.0M123.5 196.9l4.2 0.0M128.4 196.9l4.2 0.0M133.3 196.9l4.3 0.0M138.3 196.9l4.3 0.0M143.2 196.9l4.4 0.0M148.1 196.9l4.4 0.0M153.0 196.9l4.4 0.0M158.0 196.9l4.4 0.0M162.9 196.9l4.4 0.0M167.9 196.9l4.4 0.0M172.8 196.9l4.4 0.0M177.8 196.9l4.4 0.0M182.7 196.9l4.4 0.0M187.7 196.9l4.4 0.0M192.6 196.8l4.4 0.1M197.6 196.6l4.4 0.7M202.6 196.2l4.3 1.5M207.7 195.7l4.0 2.3M212.9 195.4l3.5 3.0M218.2 195.2l2.9 3.4M69.5 193.7l3.3 -0.4M74.3 193.7l3.6 -0.3M79.2 193.6l3.7 -0.2M84.0 193.6l3.8 -0.1M89.0 193.6l3.9 -0.0M93.9 193.6l3.9 0.0M98.8 193.6l4.0 0.0M103.7 193.6l4.1 0.0M108.6 193.6l4.1 0.0M113.6 193.6l4.2 0.0M118.5 193.6l4.2 0.0M123.4 193.6l4.3 0.0M128.3 193.6l4.3 0.0M133.3 193.6l4.4 0.0M138.2 193.6l4.4 0.0M143.1 193.6l4.5 0.0M148.0 193.6l4.6 0.0M153.0 193.6l4.6 0.0M157.9 193.6l4.6 0.0M162.9 193.6l4.6 0.0M167.8 193.6l4.6 0.0M172.8 193.6l4.6 0.0M177.7 193.6l4.6 0.0M182.7 193.6l4.6 0.0M187.6 193.6l4.6 0.0M192.6 193.5l4.6 0.1M197.5 193.3l4.6 0.6M202.5 192.9l4.4 1.3M207.6 192.6l4.1 2.0M212.8 192.2l3.7 2.7M218.0 192.0l3.2 3.1" stroke="#000" stroke-width="0.50" stroke-opacity="0.45" stroke-linecap="butt" fill="none"/><path d="M195.0 253.8l1.3 -0.0M200.0 253.8l1.3 -0.2M204.9 253.8l1.3 -0.5M209.9 253.8l1.2 -0.7M214.8 253.7l1.1 -1.0M219.7 253.7l0.9 -1.1M66.3 250.5l1.3 -0.3M71.3 250.5l1.3 -0.2M76.2 250.5l1.3 -0.2M81.2 250.5l1.4 -0.1M86.1 250.5l1.4 -0.1M91.1 250.5l1.4 -0.0M96.0 250.5l1.4 -0.0M101.0 250.5l1.4 -0.0M105.9 250.5l1.4 -0.0M110.9 250.5l1.4 -0.0M115.8 250.5l1.4 -0.0M120.8 250.5l1.4 -0.0M125.7 250.5l1.4 -0.0M130.7 250.5l1.4 -0.0M135.6 250.5l1.4 -0.0M140.6 250.5l1.4 -0.0M145.5 250.5l1.4 -0.0M150.5 250.5l1.4 -0.0M155.4 250.5l1.4 -0.0M160.4 250.5l1.4 -0.0M165.3 250.5l1.5 -0.0M170.3 250.5l1.5 -0.0M175.2 250.5l1.5 -0.0M180.2 250.5l1.5 -0.0M185.1 250.5l1.5 -0.0M190.1 250.5l1.5 -0.0M195.0 250.5l1.5 -0.1M200.0 250.5l1.5 -0.3M204.9 250.4l1.5 -0.6M209.9 250.4l1.3 -1.0M214.8 250.3l1.2 -1.2M219.7 250.3l1.0 -1.4M71.3 247.1l1.3 -0.3M76.2 247.1l1.4 -0.2M81.2 247.1l1.4 -0.1M86.1 247.1l1.4 -0.1M91.1 247.1l1.4 -0.0M96.0 247.2l1.4 -0.0M101.0 247.2l1.4 -0.0M105.9 247.2l1.5 -0.0M110.9 247.2l1.5 -0.0M115.8 247.2l1.5 -0.0M120.8 247.2l1.5 -0.0M125.7 247.2l1.5 -0.0M130.7 247.2l1.5 -0.0M135.6 247.2l1.5 -0.0M140.6 247.2l1.5 -0.0M145.5 247.2l1.5 -0.0M150.5 247.2l1.5 -0.0M155.4 247.2l1.6 -0.0M160.4 247.2l1.6 -0.0M165.3 247.2l1.6 -0.0M170.3 247.2l1.6 -0.0M175.3 247.2l1.6 -0.0M180.2 247.2l1.6 -0.0M185.2 247.2l1.6 -0.0M190.1 247.2l1.6 -0.0M195.1 247.1l1.6 -0.1M200.0 247.1l1.6 -0.4M204.9 247.1l1.5 -0.8M209.9 247.0l1.3 -1.2M214.8 247.0l1.1 -1.4M219.7 247.0l0.9 -1.6M71.3 243.8l1.3 -0.3M76.2 243.8l1.3 -0.3M81.2 243.8l1.4 -0.2M86.1 243.8l1.4 -0.1M91.1 243.8l1.4 -0.0M96.0 243.8l1.4 -0.0M101.0 243.8l1.4 -0.0M105.9 243.8l1.5 -0.0M110.9 243.8l1.5 -0.0M115.8 243.8l1.5 -0.0M120.8 243.8l1.5 -0.0M125.7 243.8l1.5 -0.0M130.7 243.8l1.5 -0.0M135.6 243.8l1.5 -0.0M140.6 243.8l1.5 -0.0M145.5 243.8l1.5 -0.0M150.5 243.8l1.5 -0.0M155.4 243.8l1.5 -0.0M160.4 243.8l1.6 -0.0M165.3 243.8l1.6 -0.0M170.3 243.8l1.6 -0.0M175.2 243.8l1.6 -0.0M180.2 243.8l1.6 -0.0M185.1 243.8l1.6 -0.0M190.1 243.8l1.6 -0.0M195.1 243.8l1.6 -0.1M200.0 243.7l1.6 -0.5M204.9 243.7l1.4 -0.9M209.8 243.6l1.2 -1.3M214.8 243.6l0.9 -1.5M219.7 243.6l0.7 -1.6M76.2 240.4l1.3 -0.3M81.2 240.4l1.3 -0.2M86.1 240.4l1.3 -0.1M91.1 240.4l1.4 -0.0M96.0 240.5l1.4 -0.0M101.0 240.5l1.4 -0.0M105.9 240.5l1.4 -0.0M110.9 240.5l1.4 -0.0M115.8 240.5l1.4 -0.0M120.8 240.5l1.5 -0.0M125.7 240.5l1.5 -0.0M130.7 240.5l1.5 -0.0M135.6 240.5l1.5 -0.0M140.6 240.5l1.5 -0.0M145.5 240.5l1.5 -0.0M150.5 240.5l1.5 -0.0M155.4 240.5l1.5 -0.0M160.4 240.5l1.5 -0.0M165.3 240.5l1.5 -0.0M170.3 240.5l1.5 -0.0M175.2 240.5l1.5 -0.0M180.2 240.5l1.5 -0.0M185.1 240.5l1.5 -0.0M190.1 240.5l1.6 -0.0M195.0 240.4l1.6 -0.1M200.0 240.4l1.5 -0.6M204.9 240.3l1.2 -1.1M209.8 240.3l0.9 -1.4M214.7 240.2l0.7 -1.6M219.7 240.2l0.5 -1.7M86.1 237.1l1.3 -0.1M91.1 237.1l1.3 -0.0M96.0 237.1l1.3 -0.0M101.0 237.1l1.3 -0.0M105.9 237.1l1.4 -0.0M110.9 237.1l1.4 -0.0M115.8 237.1l1.4 -0.0M120.8 237.1l1.4 -0.0M125.7 237.1l1.4 -0.0M130.7 237.1l1.4 -0.0M135.6 237.1l1.4 -0.0M140.6 237.1l1.4 -0.0M145.5 237.1l1.4 -0.0M150.5 237.1l1.4 -0.0M155.4 237.1l1.4 -0.0M160.4 237.1l1.5 -0.0M165.3 237.1l1.5 -0.0M170.3 237.1l1.5 -0.0M175.2 237.1l1.5 -0.0M180.2 237.1l1.5 -0.0M185.1 237.1l1.5 -0.0M190.1 237.1l1.5 -0.0M195.0 237.1l1.5 -0.2M200.0 237.0l1.3 -0.8M204.9 236.9l1.0 -1.2M209.8 236.9l0.7 -1.5M214.7 236.9l0.5 -1.7M219.6 236.9l0.4 -1.7M101.0 233.8l1.3 -0.0M105.9 233.8l1.3 -0.0M110.9 233.8l1.3 -0.0M115.8 233.8l1.3 -0.0M120.8 233.8l1.3 -0.0M125.7 233.8l1.3 -0.0M130.7 233.8l1.4 -0.0M135.6 233.8l1.4 -0.0M140.6 233.8l1.4 -0.0M145.5 233.8l1.4 -0.0M150.5 233.8l1.4 -0.0M155.4 233.8l1.4 -0.0M160.4 233.8l1.4 -0.0M165.3 233.8l1.4 -0.0M170.3 233.8l1.4 -0.0M175.2 233.8l1.4 -0.0M180.2 233.8l1.4 -0.0M185.1 233.8l1.4 -0.0M190.1 233.8l1.4 -0.0M195.0 233.7l1.4 -0.2M199.9 233.6l1.1 -1.0M204.8 233.6l0.7 -1.4M209.8 233.6l0.5 -1.6M214.7 233.5l0.4 -1.7M219.6 233.5l0.3 -1.7M125.7 230.4l1.3 -0.0M130.7 230.4l1.3 -0.0M135.6 230.4l1.3 -0.0M140.6 230.4l1.3 -0.0M145.5 230.4l1.3 -0.0M150.5 230.4l1.3 -0.0M155.4 230.4l1.3 -0.0M160.4 230.4l1.3 -0.0M165.3 230.4l1.3 -0.0M170.3 230.4l1.4 -0.0M175.2 230.4l1.4 -0.0M180.2 230.4l1.4 -0.0M185.1 230.4l1.4 -0.0M190.1 230.4l1.4 -0.0M195.0 230.3l1.3 -0.4M199.9 230.2l0.8 -1.2M204.8 230.2l0.4 -1.5M209.7 230.2l0.3 -1.6M214.7 230.2l0.2 -1.7M219.6 230.2l0.1 -1.7M170.3 227.1l1.3 -0.0M175.2 227.1l1.3 -0.0M180.2 227.1l1.3 -0.0M185.1 227.1l1.3 -0.0M190.1 227.1l1.3 -0.0M195.0 226.9l1.0 -0.8M199.8 226.9l0.3 -1.4M204.8 226.9l0.2 -1.5M209.7 226.8l0.1 -1.6M214.7 226.8l0.1 -1.7M219.6 226.8l0.1 -1.7M199.8 223.5l0.0 -1.4M204.8 223.5l0.0 -1.5M209.7 223.5l0.0 -1.6M214.7 223.5l0.0 -1.7M219.6 223.5l0.0 -1.7M195.0 220.5l0.8 1.0M199.8 220.5l0.2 1.4M204.8 220.5l0.1 1.5M209.7 220.6l0.1 1.6M214.7 220.6l0.1 1.7M219.6 220.6l0.0 1.7M130.7 217.0l1.3 0.0M135.6 217.0l1.3 0.0M140.6 217.0l1.3 0.0M145.5 217.0l1.3 0.0M150.5 217.0l1.3 0.0M155.4 217.0l1.4 0.0M160.4 217.0l1.4 0.0M165.3 217.0l1.4 0.0M170.3 217.0l1.4 0.0M175.2 217.0l1.4 0.0M180.2 217.0l1.4 0.0M185.1 217.0l1.4 0.0M190.1 217.0l1.4 0.0M195.0 217.1l1.3 0.4M199.9 217.2l0.7 1.2M204.8 217.2l0.4 1.5M209.7 217.2l0.3 1.6M214.7 217.2l0.2 1.7M219.6 217.2l0.1 1.7M105.9 213.7l1.3 0.0M110.9 213.7l1.3 0.0M115.8 213.7l1.3 0.0M120.8 213.7l1.3 0.0M125.7 213.7l1.4 0.0M130.7 213.7l1.4 0.0M135.6 213.7l1.4 0.0M140.6 213.7l1.4 0.0M145.5 213.7l1.4 0.0M150.5 213.7l1.4 0.0M155.4 213.7l1.4 0.0M160.4 213.7l1.4 0.0M165.3 213.7l1.4 0.0M170.3 213.7l1.4 0.0M175.2 213.7l1.4 0.0M180.2 213.7l1.4 0.0M185.1 213.7l1.4 0.0M190.1 213.7l1.4 0.0M195.0 213.7l1.4 0.2M199.9 213.8l1.2 0.9M204.8 213.8l0.8 1.4M209.8 213.8l0.5 1.6M214.7 213.9l0.4 1.7M219.6 213.9l0.3 1.7M91.1 210.3l1.3 -0.0M96.0 210.3l1.3 0.0M101.0 210.3l1.3 0.0M105.9 210.3l1.4 0.0M110.9 210.3l1.4 0.0M115.8 210.3l1.4 0.0M120.8 210.3l1.4 0.0M125.7 210.3l1.4 0.0M130.7 210.3l1.4 0.0M135.6 210.3l1.5 0.0M140.6 210.3l1.5 0.0M145.5 210.3l1.5 0.0M150.5 210.3l1.5 0.0M155.4 210.3l1.5 0.0M160.4 210.3l1.5 0.0M165.3 210.3l1.5 0.0M170.3 210.3l1.5 0.0M175.2 210.3l1.5 0.0M180.2 210.3l1.5 0.0M185.1 210.3l1.5 0.0M190.1 210.3l1.5 0.0M195.0 210.3l1.5 0.2M200.0 210.4l1.4 0.7M204.9 210.4l1.1 1.2M209.8 210.5l0.8 1.5M214.7 210.5l0.6 1.6M219.7 210.5l0.4 1.7M81.2 206.9l1.3 -0.2M86.1 206.9l1.3 -0.1M91.1 206.9l1.4 -0.0M96.0 207.0l1.4 0.0M101.0 207.0l1.4 0.0M105.9 207.0l1.4 0.0M110.9 207.0l1.4 0.0M115.8 207.0l1.5 0.0M120.8 207.0l1.5 0.0M125.7 207.0l1.5 0.0M130.7 207.0l1.5 0.0M135.6 207.0l1.5 0.0M140.6 207.0l1.5 0.0M145.5 207.0l1.6 0.0M150.5 207.0l1.6 0.0M155.4 207.0l1.6 0.0M160.4 207.0l1.6 0.0M165.3 207.0l1.6 0.0M170.3 207.0l1.6 0.0M175.2 207.0l1.6 0.0M180.2 207.0l1.6 0.0M185.1 207.0l1.6 0.0M190.1 207.0l1.6 0.0M195.0 207.0l1.6 0.1M200.0 207.0l1.5 0.5M204.9 207.1l1.3 1.0M209.8 207.1l1.1 1.3M214.8 207.1l0.8 1.6M219.7 207.2l0.6 1.6M76.2 203.6l1.3 -0.2M81.2 203.6l1.3 -0.1M86.1 203.6l1.4 -0.1M91.1 203.6l1.4 -0.0M96.0 203.6l1.4 0.0M101.0 203.6l1.5 0.0M105.9 203.6l1.5 0.0M110.9 203.6l1.5 0.0M115.8 203.6l1.5 0.0M120.8 203.6l1.5 0.0M125.7 203.6l1.6 0.0M130.7 203.6l1.6 0.0M135.6 203.6l1.6 0.0M140.6 203.6l1.6 0.0M145.6 203.6l1.6 0.0M150.5 203.6l1.6 0.0M155.5 203.6l1.7 0.0M160.4 203.6l1.7 0.0M165.4 203.6l1.7 0.0M170.3 203.6l1.7 0.0M175.3 203.6l1.7 0.0M180.2 203.6l1.7 0.0M185.2 203.6l1.7 0.0M190.1 203.6l1.7 0.0M195.1 203.6l1.7 0.1M200.0 203.7l1.6 0.4M204.9 203.7l1.5 0.8M209.9 203.7l1.3 1.2M214.8 203.8l1.1 1.5M219.7 203.8l0.8 1.6M76.2 200.2l1.3 -0.2M81.2 200.2l1.4 -0.1M86.1 200.2l1.4 -0.1M91.1 200.2l1.5 -0.0M96.0 200.3l1.5 0.0M101.0 200.3l1.5 0.0M105.9 200.3l1.5 0.0M110.9 200.3l1.6 0.0M115.8 200.3l1.6 0.0M120.8 200.3l1.6 0.0M125.8 200.3l1.6 0.0M130.7 200.3l1.6 0.0M135.7 200.3l1.6 0.0M140.6 200.3l1.7 0.0M145.6 200.3l1.7 0.0M150.5 200.3l1.7 0.0M155.5 200.3l1.7 0.0M160.4 200.3l1.7 0.0M165.4 200.3l1.7 0.0M170.3 200.3l1.7 0.0M175.3 200.3l1.7 0.0M180.2 200.3l1.7 0.0M185.2 200.3l1.7 0.0M190.1 200.3l1.7 0.0M195.1 200.3l1.7 0.1M200.0 200.3l1.7 0.3M205.0 200.3l1.6 0.7M209.9 200.4l1.4 1.0M214.8 200.4l1.3 1.3M219.7 200.4l1.0 1.5M76.2 196.9l1.4 -0.1M81.2 196.9l1.4 -0.1M86.1 196.9l1.5 -0.0M91.1 196.9l1.5 -0.0M96.0 196.9l1.5 0.0M101.0 196.9l1.6 0.0M105.9 196.9l1.6 0.0M110.9 196.9l1.6 0.0M115.9 196.9l1.6 0.0M120.8 196.9l1.6 0.0M125.8 196.9l1.7 0.0M130.7 196.9l1.7 0.0M135.7 196.9l1.7 0.0M140.6 196.9l1.7 0.0M145.6 196.9l1.7 0.0M150.5 196.9l1.8 0.0M155.5 196.9l1.8 0.0M160.4 196.9l1.8 0.0M165.4 196.9l1.8 0.0M170.3 196.9l1.8 0.0M175.3 196.9l1.8 0.0M180.2 196.9l1.8 0.0M185.2 196.9l1.8 0.0M190.1 196.9l1.8 0.0M195.1 196.9l1.8 0.1M200.0 196.9l1.8 0.3M205.0 197.0l1.7 0.6M209.9 197.0l1.6 0.9M214.8 197.1l1.4 1.2M219.7 197.1l1.2 1.4M71.3 193.5l1.3 -0.2M76.2 193.5l1.4 -0.1M81.2 193.5l1.5 -0.1M86.1 193.5l1.5 -0.0M91.1 193.5l1.6 -0.0M96.0 193.6l1.6 0.0M101.0 193.6l1.6 0.0M106.0 193.6l1.6 0.0M110.9 193.6l1.7 0.0M115.9 193.6l1.7 0.0M120.8 193.6l1.7 0.0M125.8 193.6l1.7 0.0M130.7 193.6l1.7 0.0M135.7 193.6l1.8 0.0M140.6 193.6l1.8 0.0M145.6 193.6l1.8 0.0M150.5 193.6l1.8 0.0M155.5 193.6l1.8 0.0M160.4 193.6l1.8 0.0M165.4 193.6l1.8 0.0M170.3 193.6l1.8 0.0M175.3 193.6l1.8 0.0M180.2 193.6l1.8 0.0M185.2 193.6l1.8 0.0M190.1 193.6l1.8 0.0M195.1 193.6l1.8 0.0M200.0 193.6l1.8 0.2M205.0 193.6l1.8 0.5M209.9 193.6l1.7 0.8M214.8 193.7l1.5 1.1M219.8 193.7l1.3 1.2" stroke="#000" stroke-width="1.10" stroke-opacity="0.50" stroke-linecap="butt" fill="none"/></g><g clip-path="url(#cld)"><path d="M327.1 254.9l2.3 -1.6M332.0 254.8l2.4 -1.5M336.9 254.8l2.5 -1.3M341.8 254.7l2.5 -1.2M346.7 254.6l2.6 -1.0M351.6 254.5l2.6 -0.8M356.6 254.4l2.7 -0.7M361.5 254.4l2.7 -0.5M366.5 254.3l2.7 -0.4M371.4 254.2l2.7 -0.3M376.4 254.2l2.7 -0.2M381.3 254.1l2.7 -0.1M386.3 254.1l2.7 -0.0M391.2 254.1l2.7 -0.0M396.2 254.1l2.7 -0.0M401.1 254.1l2.7 -0.0M406.1 254.1l2.7 -0.0M411.0 254.1l2.7 -0.0M416.0 254.1l2.7 -0.0M420.9 254.1l2.7 -0.0M425.9 254.1l2.7 -0.0M430.8 254.1l2.7 -0.0M435.8 254.1l2.7 -0.0M440.7 254.1l2.7 -0.0M445.7 254.1l2.7 -0.0M450.6 254.1l2.7 -0.0M455.6 254.1l2.7 -0.0M460.5 254.1l2.7 -0.0M465.5 254.1l2.7 -0.0M470.4 254.1l2.7 -0.0M475.4 254.1l2.7 -0.0M480.3 254.1l2.7 -0.0M485.2 254.1l2.8 -0.0M490.1 254.1l2.9 -0.1M495.0 254.3l2.9 -0.4M500.0 254.6l2.9 -1.0M327.1 251.7l2.1 -1.8M332.0 251.6l2.3 -1.7M336.9 251.6l2.4 -1.5M341.8 251.5l2.4 -1.3M346.8 251.4l2.5 -1.2M351.7 251.3l2.5 -1.0M356.6 251.2l2.6 -0.8M361.4 251.1l2.8 -0.7M366.3 251.1l3.0 -0.5M327.2 248.5l2.0 -2.0M332.1 248.4l2.1 -1.9M337.0 248.4l2.2 -1.7M341.9 248.3l2.3 -1.5M346.8 248.2l2.3 -1.3M351.7 248.1l2.4 -1.1M356.7 248.0l2.5 -0.9M361.5 247.9l2.7 -0.8M366.3 247.8l3.0 -0.6M371.2 247.7l3.1 -0.5M327.3 245.3l1.7 -2.2M332.2 245.2l1.8 -2.1M337.1 245.2l2.0 -1.9M342.0 245.1l2.1 -1.7M346.9 245.0l2.2 -1.5M351.8 244.9l2.2 -1.3M356.7 244.8l2.3 -1.1M361.6 244.7l2.6 -1.0M366.4 244.6l2.8 -0.8M371.2 244.5l3.0 -0.6M327.5 242.1l1.4 -2.4M332.4 242.0l1.5 -2.3M337.3 242.0l1.7 -2.1M342.2 241.9l1.8 -2.0M347.0 241.8l1.9 -1.8M351.9 241.7l2.0 -1.6M356.8 241.6l2.1 -1.3M361.6 241.5l2.4 -1.2M366.5 241.4l2.7 -1.0M371.3 241.3l2.9 -0.7M376.1 241.1l3.1 -0.5M327.7 238.9l1.1 -2.6M332.6 238.8l1.2 -2.5M337.4 238.8l1.3 -2.3M342.3 238.7l1.4 -2.2M347.2 238.6l1.6 -2.0M352.1 238.5l1.7 -1.8M357.0 238.4l1.9 -1.6M361.8 238.3l2.2 -1.5M366.6 238.2l2.5 -1.2M371.4 238.1l2.8 -1.0M376.2 237.9l3.0 -0.6M381.1 237.8l3.1 -0.3M386.0 237.7l3.2 -0.1M327.8 235.6l0.8 -2.7M332.7 235.6l0.8 -2.6M337.6 235.6l0.9 -2.5M342.5 235.5l1.0 -2.4M347.4 235.4l1.2 -2.3M352.3 235.4l1.3 -2.1M357.2 235.3l1.5 -1.9M361.9 235.2l1.8 -1.8M366.7 235.1l2.2 -1.6M371.5 235.0l2.5 -1.3M376.3 234.8l2.8 -0.9M381.2 234.5l2.9 -0.5M386.1 234.4l3.0 -0.1M391.0 234.3l3.1 -0.0M328.0 232.4l0.4 -2.7M332.9 232.3l0.5 -2.7M337.8 232.3l0.6 -2.6M342.7 232.3l0.6 -2.5M347.6 232.2l0.7 -2.4M352.5 232.2l0.8 -2.3M357.4 232.1l1.0 -2.2M362.2 232.1l1.3 -2.2M367.0 232.1l1.6 -2.1M371.7 231.9l2.0 -1.9M376.5 231.7l2.5 -1.4M381.3 231.4l2.7 -0.8M386.2 231.1l2.9 -0.2M391.1 231.0l3.0 -0.0M396.0 231.0l3.1 -0.0M400.9 231.0l3.1 -0.0M405.8 231.0l3.2 -0.0M328.1 229.1l0.2 -2.8M333.0 229.1l0.2 -2.7M338.0 229.0l0.2 -2.6M342.9 229.0l0.3 -2.6M347.8 229.0l0.3 -2.5M352.8 228.9l0.4 -2.4M357.7 228.9l0.4 -2.3M362.6 228.9l0.6 -2.5M367.4 229.0l0.8 -2.5M372.2 228.9l1.2 -2.5M376.9 228.8l1.7 -2.2M381.5 228.5l2.3 -1.5M386.3 228.0l2.7 -0.5M391.1 227.7l2.8 -0.0M396.1 227.7l2.9 -0.0M401.0 227.7l3.0 -0.0M405.9 227.7l3.0 -0.0M410.8 227.7l3.1 -0.0M415.8 227.7l3.1 -0.0M420.7 227.7l3.1 -0.0M425.6 227.7l3.2 -0.0M328.2 225.8l0.0 -2.8M333.1 225.8l0.0 -2.7M338.1 225.7l0.0 -2.7M343.0 225.7l0.0 -2.6M348.0 225.7l0.0 -2.5M352.9 225.6l0.1 -2.5M357.9 225.6l0.1 -2.4M362.8 225.7l0.1 -2.5M367.7 225.7l0.1 -2.6M372.7 225.7l0.2 -2.7M377.6 225.8l0.3 -2.7M382.4 225.7l0.6 -2.6M386.8 225.5l1.5 -2.1M391.3 224.4l2.6 -0.0M396.2 224.4l2.7 -0.0M401.1 224.4l2.7 -0.0M406.0 224.4l2.8 -0.0M410.9 224.4l2.8 -0.0M415.9 224.4l2.9 -0.0M420.8 224.4l2.9 -0.0M425.7 224.4l2.9 -0.0M430.7 224.4l3.0 -0.0M435.6 224.4l3.0 -0.0M440.6 224.4l3.0 -0.0M445.5 224.4l3.0 -0.0M450.4 224.4l3.0 -0.0M455.4 224.4l3.1 -0.0M460.3 224.4l3.1 -0.0M465.3 224.4l3.1 -0.0M470.2 224.4l3.1 -0.0M475.1 224.4l3.2 -0.0M480.1 224.4l3.2 -0.0M485.0 224.4l3.2 -0.0M328.2 222.5l0.1 -2.8M333.1 222.5l0.1 -2.7M338.1 222.4l0.1 -2.7M343.0 222.4l0.1 -2.6M347.9 222.4l0.1 -2.5M352.9 222.3l0.1 -2.5M357.8 222.3l0.1 -2.4M362.8 222.4l0.2 -2.5M367.7 222.4l0.3 -2.6M372.6 222.4l0.4 -2.7M377.4 222.4l0.6 -2.7M382.1 222.3l1.2 -2.4M386.5 221.8l2.2 -1.4M391.2 221.1l2.6 0.0M396.1 221.1l2.7 0.0M401.1 221.1l2.8 0.0M406.0 221.1l2.8 0.0M410.9 221.1l2.9 0.0M415.8 221.1l2.9 0.0M420.8 221.1l3.0 0.0M425.7 221.1l3.0 0.0M430.6 221.1l3.0 0.0M435.6 221.1l3.0 0.0M440.5 221.1l3.1 0.0M445.5 221.1l3.1 0.0M450.4 221.1l3.1 0.0M455.3 221.1l3.1 0.0M460.3 221.1l3.2 0.0M465.2 221.1l3.2 0.0M470.2 221.1l3.2 0.0M328.0 219.2l0.3 -2.8M333.0 219.1l0.3 -2.7M337.9 219.1l0.4 -2.6M342.8 219.1l0.4 -2.6M347.8 219.0l0.5 -2.5M352.7 219.0l0.6 -2.4M357.6 218.9l0.7 -2.3M362.4 219.0l0.9 -2.3M367.2 219.0l1.2 -2.3M371.9 218.9l1.6 -2.2M376.6 218.7l2.1 -1.8M381.4 218.3l2.6 -1.1M386.2 218.0l2.8 -0.3M391.1 217.8l2.9 0.0M396.0 217.8l2.9 0.0M400.9 217.8l3.0 0.0M405.9 217.8l3.1 0.0M410.8 217.8l3.1 0.0M415.7 217.8l3.2 0.0M327.9 215.9l0.7 -2.7M332.8 215.8l0.7 -2.6M337.7 215.8l0.8 -2.5M342.6 215.7l0.9 -2.4M347.5 215.7l1.0 -2.3M352.4 215.6l1.2 -2.2M357.2 215.5l1.3 -2.0M362.0 215.5l1.6 -1.9M366.8 215.4l2.0 -1.8M371.6 215.2l2.4 -1.4M376.4 215.0l2.7 -1.0M381.2 214.8l2.9 -0.5M386.1 214.6l3.0 -0.2M391.0 214.5l3.0 0.0M395.9 214.5l3.1 0.0M327.7 212.5l1.1 -2.6M332.6 212.4l1.2 -2.5M337.5 212.4l1.3 -2.4M342.4 212.3l1.4 -2.2M347.2 212.2l1.5 -2.1M352.1 212.1l1.7 -1.9M357.0 212.0l1.8 -1.6M361.8 211.9l2.1 -1.5M366.6 211.8l2.4 -1.2M371.4 211.7l2.7 -1.0M376.2 211.5l2.9 -0.7M381.1 211.4l3.0 -0.3M386.0 211.3l3.1 -0.1M391.0 211.2l3.2 0.0M327.5 209.1l1.4 -2.4M332.4 209.0l1.6 -2.3M337.3 209.0l1.7 -2.1M342.2 208.9l1.8 -1.9M347.0 208.8l1.9 -1.8M351.9 208.7l2.0 -1.5M356.8 208.5l2.1 -1.3M361.7 208.4l2.3 -1.1M366.5 208.4l2.6 -0.9M371.3 208.2l2.8 -0.7M376.2 208.1l3.0 -0.5M381.1 208.0l3.2 -0.2M327.3 205.7l1.8 -2.2M332.2 205.6l1.9 -2.0M337.1 205.5l2.0 -1.9M342.0 205.4l2.1 -1.7M346.9 205.3l2.2 -1.5M351.8 205.2l2.3 -1.3M356.7 205.1l2.3 -1.0M361.6 205.0l2.5 -0.9M366.4 205.0l2.7 -0.7M371.3 204.9l3.0 -0.5M376.1 204.8l3.2 -0.3M327.2 202.3l2.1 -1.9M332.1 202.2l2.2 -1.8M337.0 202.1l2.3 -1.6M341.9 202.0l2.3 -1.4M346.8 201.9l2.4 -1.2M351.7 201.8l2.4 -1.0M356.7 201.7l2.5 -0.8M361.6 201.6l2.6 -0.7M366.4 201.6l2.8 -0.6M371.2 201.5l3.1 -0.4M327.1 198.8l2.3 -1.7M332.0 198.8l2.3 -1.5M336.9 198.7l2.4 -1.4M341.8 198.6l2.5 -1.2M346.7 198.5l2.5 -1.0M351.7 198.4l2.6 -0.9M356.6 198.4l2.6 -0.7M361.5 198.3l2.7 -0.6M366.3 198.2l2.9 -0.5M371.2 198.2l3.2 -0.3M327.0 195.4l2.4 -1.5M331.9 195.4l2.5 -1.3M336.8 195.3l2.5 -1.2M341.7 195.2l2.6 -1.0M346.7 195.1l2.7 -0.9M351.6 195.1l2.7 -0.7M356.6 195.0l2.7 -0.6M361.5 194.9l2.8 -0.5M366.3 194.9l3.0 -0.4" stroke="#000" stroke-width="0.50" stroke-opacity="0.36" stroke-linecap="butt" fill="none"/><path d="M328.3 254.0l0.9 -0.6M333.3 254.0l1.0 -0.6M338.2 254.0l1.0 -0.5M343.2 254.0l1.0 -0.5M348.1 254.0l1.0 -0.4M353.1 254.1l1.1 -0.3M358.0 254.1l1.1 -0.3M363.0 254.1l1.1 -0.2M367.9 254.1l1.1 -0.2M372.9 254.1l1.1 -0.1M377.8 254.1l1.1 -0.1M382.8 254.1l1.1 -0.0M387.7 254.1l1.1 -0.0M392.7 254.1l1.1 -0.0M397.6 254.1l1.1 -0.0M402.6 254.1l1.1 -0.0M407.5 254.1l1.1 -0.0M412.5 254.1l1.1 -0.0M417.4 254.1l1.1 -0.0M422.4 254.1l1.1 -0.0M427.3 254.1l1.1 -0.0M432.3 254.1l1.1 -0.0M437.2 254.1l1.1 -0.0M442.2 254.1l1.1 -0.0M447.1 254.1l1.1 -0.0M452.1 254.1l1.1 -0.0M457.0 254.1l1.1 -0.0M462.0 254.1l1.1 -0.0M466.9 254.1l1.1 -0.0M471.9 254.1l1.1 -0.0M476.8 254.1l1.1 -0.0M481.8 254.1l1.1 -0.0M486.7 254.1l1.1 -0.0M491.7 254.1l1.1 -0.0M496.6 254.1l1.2 -0.2M501.6 254.1l1.2 -0.4M328.3 250.7l0.9 -0.7M333.3 250.7l0.9 -0.7M338.2 250.7l0.9 -0.6M343.2 250.7l1.0 -0.5M348.1 250.7l1.0 -0.5M353.1 250.8l1.0 -0.4M358.0 250.8l1.0 -0.3M363.0 250.8l1.1 -0.3M368.0 250.8l1.2 -0.2M328.3 247.4l0.8 -0.8M333.3 247.4l0.8 -0.8M338.2 247.4l0.9 -0.7M343.2 247.4l0.9 -0.6M348.1 247.4l0.9 -0.5M353.1 247.4l1.0 -0.5M358.0 247.5l1.0 -0.4M363.0 247.5l1.1 -0.3M367.9 247.5l1.2 -0.3M372.9 247.5l1.3 -0.2M328.3 244.1l0.7 -0.9M333.2 244.1l0.7 -0.8M338.2 244.1l0.8 -0.8M343.2 244.1l0.8 -0.7M348.1 244.1l0.9 -0.6M353.1 244.1l0.9 -0.5M358.0 244.1l0.9 -0.4M363.0 244.2l1.0 -0.4M367.9 244.2l1.1 -0.3M372.9 244.2l1.2 -0.2M328.3 240.8l0.6 -1.0M333.2 240.8l0.6 -0.9M338.2 240.8l0.7 -0.9M343.1 240.8l0.7 -0.8M348.1 240.8l0.8 -0.7M353.1 240.8l0.8 -0.6M358.0 240.8l0.9 -0.5M363.0 240.8l1.0 -0.5M367.9 240.9l1.1 -0.4M372.9 240.9l1.2 -0.3M377.9 240.9l1.2 -0.2M328.3 237.5l0.4 -1.0M333.2 237.5l0.5 -1.0M338.2 237.5l0.5 -0.9M343.1 237.5l0.6 -0.9M348.1 237.5l0.6 -0.8M353.0 237.5l0.7 -0.7M358.0 237.5l0.7 -0.6M363.0 237.5l0.9 -0.6M367.9 237.5l1.0 -0.5M372.9 237.6l1.1 -0.4M377.8 237.6l1.2 -0.3M382.8 237.6l1.2 -0.1M387.8 237.6l1.3 -0.0M328.2 234.2l0.3 -1.1M333.2 234.2l0.3 -1.0M338.1 234.2l0.4 -1.0M343.1 234.2l0.4 -1.0M348.1 234.2l0.5 -0.9M353.0 234.2l0.5 -0.8M358.0 234.2l0.6 -0.8M362.9 234.2l0.7 -0.7M367.9 234.2l0.9 -0.7M372.9 234.2l1.0 -0.5M377.8 234.3l1.1 -0.4M382.8 234.3l1.2 -0.2M387.8 234.3l1.2 -0.1M392.7 234.3l1.2 -0.0M328.2 230.9l0.2 -1.1M333.2 230.9l0.2 -1.1M338.1 230.9l0.2 -1.0M343.1 230.9l0.3 -1.0M348.0 230.9l0.3 -1.0M353.0 230.9l0.3 -0.9M357.9 230.9l0.4 -0.9M362.9 230.9l0.5 -0.9M367.9 230.9l0.7 -0.8M372.9 230.9l0.8 -0.7M377.8 230.9l1.0 -0.6M382.8 231.0l1.1 -0.3M387.7 231.0l1.2 -0.1M392.7 231.0l1.2 -0.0M397.7 231.0l1.2 -0.0M402.6 231.0l1.3 -0.0M407.6 231.0l1.3 -0.0M328.2 227.6l0.1 -1.1M333.2 227.6l0.1 -1.1M338.1 227.6l0.1 -1.1M343.1 227.6l0.1 -1.0M348.0 227.6l0.1 -1.0M353.0 227.6l0.1 -1.0M357.9 227.6l0.2 -0.9M362.9 227.6l0.2 -1.0M367.8 227.6l0.3 -1.0M372.8 227.6l0.5 -1.0M377.8 227.6l0.7 -0.9M382.8 227.6l0.9 -0.6M387.7 227.7l1.1 -0.2M392.7 227.7l1.1 -0.0M397.6 227.7l1.2 -0.0M402.6 227.7l1.2 -0.0M407.6 227.7l1.2 -0.0M412.5 227.7l1.2 -0.0M417.5 227.7l1.2 -0.0M422.4 227.7l1.3 -0.0M427.4 227.7l1.3 -0.0M328.2 224.3l0.0 -1.1M333.2 224.3l0.0 -1.1M338.1 224.3l0.0 -1.1M343.1 224.3l0.0 -1.0M348.0 224.3l0.0 -1.0M353.0 224.3l0.0 -1.0M357.9 224.3l0.0 -1.0M362.9 224.3l0.0 -1.0M367.8 224.3l0.0 -1.1M372.8 224.3l0.1 -1.1M377.7 224.3l0.1 -1.1M382.7 224.3l0.2 -1.0M387.7 224.3l0.6 -0.8M392.7 224.4l1.0 -0.0M397.6 224.4l1.1 -0.0M402.6 224.4l1.1 -0.0M407.5 224.4l1.1 -0.0M412.5 224.4l1.1 -0.0M417.4 224.4l1.1 -0.0M422.4 224.4l1.2 -0.0M427.3 224.4l1.2 -0.0M432.3 224.4l1.2 -0.0M437.2 224.4l1.2 -0.0M442.2 224.4l1.2 -0.0M447.2 224.4l1.2 -0.0M452.1 224.4l1.2 -0.0M457.1 224.4l1.2 -0.0M462.0 224.4l1.2 -0.0M467.0 224.4l1.2 -0.0M471.9 224.4l1.2 -0.0M476.9 224.4l1.3 -0.0M481.8 224.4l1.3 -0.0M486.8 224.4l1.3 -0.0M328.2 221.0l0.0 -1.1M333.2 221.0l0.0 -1.1M338.1 221.0l0.0 -1.1M343.1 221.0l0.0 -1.0M348.0 221.0l0.0 -1.0M353.0 221.0l0.0 -1.0M357.9 221.0l0.1 -1.0M362.9 221.0l0.1 -1.0M367.8 221.0l0.1 -1.0M372.8 221.0l0.2 -1.1M377.7 221.0l0.3 -1.1M382.7 221.0l0.5 -1.0M387.7 221.0l0.9 -0.6M392.7 221.1l1.1 0.0M397.6 221.1l1.1 0.0M402.6 221.1l1.1 0.0M407.5 221.1l1.1 0.0M412.5 221.1l1.2 0.0M417.4 221.1l1.2 0.0M422.4 221.1l1.2 0.0M427.4 221.1l1.2 0.0M432.3 221.1l1.2 0.0M437.3 221.1l1.2 0.0M442.2 221.1l1.2 0.0M447.2 221.1l1.2 0.0M452.1 221.1l1.2 0.0M457.1 221.1l1.3 0.0M462.0 221.1l1.3 0.0M467.0 221.1l1.3 0.0M471.9 221.1l1.3 0.0M328.2 217.7l0.1 -1.1M333.2 217.7l0.1 -1.1M338.1 217.7l0.2 -1.1M343.1 217.7l0.2 -1.0M348.0 217.7l0.2 -1.0M353.0 217.7l0.2 -1.0M357.9 217.7l0.3 -0.9M362.9 217.7l0.4 -0.9M367.9 217.7l0.5 -0.9M372.8 217.7l0.6 -0.9M377.8 217.7l0.9 -0.7M382.8 217.7l1.0 -0.4M387.7 217.8l1.1 -0.1M392.7 217.8l1.1 0.0M397.6 217.8l1.2 0.0M402.6 217.8l1.2 0.0M407.6 217.8l1.2 0.0M412.5 217.8l1.3 0.0M417.5 217.8l1.3 0.0M328.2 214.4l0.3 -1.1M333.2 214.4l0.3 -1.1M338.1 214.4l0.3 -1.0M343.1 214.4l0.4 -1.0M348.1 214.4l0.4 -0.9M353.0 214.4l0.5 -0.9M358.0 214.4l0.5 -0.8M362.9 214.4l0.6 -0.8M367.9 214.4l0.8 -0.7M372.9 214.4l0.9 -0.6M377.8 214.4l1.1 -0.4M382.8 214.5l1.1 -0.2M387.7 214.5l1.2 -0.1M392.7 214.5l1.2 0.0M397.7 214.5l1.3 0.0M328.3 211.1l0.4 -1.0M333.2 211.1l0.5 -1.0M338.2 211.1l0.5 -0.9M343.1 211.1l0.6 -0.9M348.1 211.1l0.6 -0.8M353.0 211.1l0.7 -0.7M358.0 211.1l0.7 -0.7M363.0 211.1l0.8 -0.6M367.9 211.1l1.0 -0.5M372.9 211.2l1.1 -0.4M377.8 211.2l1.2 -0.3M382.8 211.2l1.2 -0.1M387.8 211.2l1.2 -0.0M392.7 211.2l1.3 0.0M328.3 207.8l0.6 -1.0M333.2 207.8l0.6 -0.9M338.2 207.8l0.7 -0.8M343.1 207.8l0.7 -0.8M348.1 207.8l0.8 -0.7M353.1 207.8l0.8 -0.6M358.0 207.8l0.9 -0.5M363.0 207.8l0.9 -0.4M367.9 207.9l1.0 -0.4M372.9 207.9l1.1 -0.3M377.9 207.9l1.2 -0.2M382.8 207.9l1.3 -0.1M328.3 204.5l0.7 -0.9M333.2 204.5l0.8 -0.8M338.2 204.5l0.8 -0.7M343.2 204.5l0.8 -0.7M348.1 204.5l0.9 -0.6M353.1 204.5l0.9 -0.5M358.0 204.5l0.9 -0.4M363.0 204.6l1.0 -0.3M367.9 204.6l1.1 -0.3M372.9 204.6l1.2 -0.2M377.9 204.6l1.3 -0.1M328.3 201.2l0.8 -0.8M333.3 201.2l0.9 -0.7M338.2 201.2l0.9 -0.6M343.2 201.2l0.9 -0.6M348.1 201.2l1.0 -0.5M353.1 201.2l1.0 -0.4M358.0 201.3l1.0 -0.3M363.0 201.3l1.0 -0.3M367.9 201.3l1.1 -0.2M372.9 201.3l1.2 -0.2M328.3 197.9l0.9 -0.7M333.3 197.9l0.9 -0.6M338.2 197.9l1.0 -0.6M343.2 197.9l1.0 -0.5M348.1 197.9l1.0 -0.4M353.1 198.0l1.0 -0.3M358.0 198.0l1.0 -0.3M363.0 198.0l1.1 -0.2M367.9 198.0l1.2 -0.2M372.9 198.0l1.3 -0.1M328.3 194.6l1.0 -0.6M333.3 194.6l1.0 -0.5M338.2 194.6l1.0 -0.5M343.2 194.6l1.0 -0.4M348.1 194.7l1.1 -0.4M353.1 194.7l1.1 -0.3M358.0 194.7l1.1 -0.2M363.0 194.7l1.1 -0.2M368.0 194.7l1.2 -0.2" stroke="#000" stroke-width="1.10" stroke-opacity="0.40" stroke-linecap="butt" fill="none"/><path d="M505.0 254.9l2.8 -1.6M510.1 255.2l2.6 -2.2M515.2 255.4l2.2 -2.6M371.2 251.0l3.2 -0.4M376.1 250.9l3.3 -0.3M381.0 250.9l3.3 -0.1M385.9 250.8l3.3 -0.0M390.9 250.8l3.3 -0.0M395.8 250.8l3.3 -0.0M400.8 250.8l3.3 -0.0M405.7 250.8l3.3 -0.0M410.7 250.8l3.4 -0.0M415.6 250.8l3.4 -0.0M420.5 250.8l3.4 -0.0M425.5 250.8l3.5 -0.0M430.4 250.8l3.5 -0.0M435.4 250.8l3.5 -0.0M440.3 250.8l3.5 -0.0M445.2 250.8l3.5 -0.0M450.2 250.8l3.5 -0.0M455.1 250.8l3.6 -0.0M460.1 250.8l3.6 -0.0M465.0 250.8l3.6 -0.0M469.9 250.8l3.6 -0.0M474.9 250.8l3.6 -0.0M479.8 250.8l3.7 -0.0M484.8 250.8l3.7 -0.0M489.7 250.9l3.7 -0.1M494.6 251.1l3.7 -0.7M499.7 251.5l3.6 -1.4M504.8 251.9l3.3 -2.3M509.9 252.3l2.9 -3.0M515.2 252.4l2.3 -3.2M376.0 247.7l3.3 -0.3M380.9 247.6l3.4 -0.2M385.9 247.5l3.5 -0.0M390.8 247.5l3.5 -0.0M395.7 247.5l3.5 -0.0M400.7 247.5l3.6 -0.0M405.6 247.5l3.6 -0.0M410.6 247.5l3.6 -0.0M415.5 247.5l3.6 -0.0M420.4 247.5l3.6 -0.0M425.4 247.5l3.6 -0.0M430.3 247.5l3.7 -0.0M435.2 247.5l3.7 -0.0M440.2 247.5l3.7 -0.0M445.1 247.5l3.8 -0.0M450.0 247.5l3.8 -0.0M455.0 247.5l3.9 -0.0M459.9 247.5l3.9 -0.0M464.8 247.5l3.9 -0.0M469.8 247.5l3.9 -0.0M474.7 247.5l4.0 -0.0M479.6 247.5l4.0 -0.0M484.6 247.5l4.1 -0.0M489.5 247.6l4.1 -0.2M494.5 247.9l4.1 -0.9M499.6 248.4l3.8 -1.9M504.7 248.9l3.3 -2.8M509.9 249.3l2.8 -3.5M515.3 249.2l2.0 -3.4M376.1 244.4l3.2 -0.4M381.0 244.3l3.3 -0.2M385.9 244.2l3.4 -0.1M390.8 244.2l3.5 -0.0M395.7 244.2l3.6 -0.0M400.6 244.2l3.6 -0.0M405.5 244.2l3.7 -0.0M410.5 244.2l3.7 -0.0M415.4 244.2l3.8 -0.0M420.3 244.2l3.8 -0.0M425.3 244.2l3.8 -0.0M430.2 244.2l3.9 -0.0M435.1 244.2l3.9 -0.0M440.1 244.2l3.9 -0.0M445.0 244.2l4.0 -0.0M450.0 244.2l4.0 -0.0M454.9 244.2l4.0 -0.0M459.8 244.2l4.0 -0.0M464.8 244.2l4.0 -0.0M469.7 244.2l4.1 -0.0M474.7 244.2l4.1 -0.0M479.6 244.2l4.1 -0.0M484.5 244.2l4.1 -0.0M489.5 244.3l4.1 -0.2M494.5 244.8l4.1 -1.1M499.6 245.3l3.7 -2.3M504.9 245.8l3.1 -3.3M510.1 246.1l2.5 -3.9M515.5 246.0l1.6 -3.5M381.0 241.0l3.2 -0.3M386.0 240.9l3.3 -0.1M390.9 240.9l3.4 -0.0M395.8 240.9l3.5 -0.0M400.7 240.9l3.6 -0.0M405.6 240.9l3.6 -0.0M410.5 240.9l3.7 -0.0M415.5 240.9l3.7 -0.0M420.4 240.9l3.7 -0.0M425.3 240.9l3.8 -0.0M430.2 240.9l3.8 -0.0M435.2 240.9l3.8 -0.0M440.1 240.9l3.9 -0.0M445.1 240.9l3.9 -0.0M450.0 240.9l3.9 -0.0M454.9 240.9l3.9 -0.0M459.9 240.9l3.9 -0.0M464.8 240.9l4.0 -0.0M469.8 240.9l4.0 -0.0M474.7 240.9l4.0 -0.0M479.6 240.9l4.0 -0.0M484.6 240.9l4.0 -0.0M489.5 241.0l4.1 -0.3M494.6 241.6l3.9 -1.4M499.8 242.2l3.3 -2.7M505.1 242.7l2.6 -3.6M510.4 243.0l2.0 -4.1M515.7 242.7l1.3 -3.6M390.9 237.6l3.3 -0.0M395.8 237.6l3.3 -0.0M400.7 237.6l3.4 -0.0M405.7 237.6l3.5 -0.0M410.6 237.6l3.5 -0.0M415.5 237.6l3.6 -0.0M420.4 237.6l3.6 -0.0M425.4 237.6l3.7 -0.0M430.3 237.6l3.7 -0.0M435.2 237.6l3.7 -0.0M440.2 237.6l3.7 -0.0M445.1 237.6l3.8 -0.0M450.1 237.6l3.8 -0.0M455.0 237.6l3.8 -0.0M459.9 237.6l3.8 -0.0M464.9 237.6l3.8 -0.0M469.8 237.6l3.9 -0.0M474.8 237.6l3.9 -0.0M479.7 237.6l3.9 -0.0M484.6 237.6l3.9 -0.0M489.6 237.8l3.9 -0.4M494.7 238.5l3.6 -1.8M500.1 239.2l2.8 -3.2M505.4 239.6l2.0 -3.9M510.6 239.8l1.5 -4.3M515.8 239.4l0.9 -3.7M395.9 234.3l3.2 -0.0M400.8 234.3l3.3 -0.0M405.7 234.3l3.4 -0.0M410.7 234.3l3.4 -0.0M415.6 234.3l3.4 -0.0M420.5 234.3l3.5 -0.0M425.4 234.3l3.5 -0.0M430.4 234.3l3.6 -0.0M435.3 234.3l3.6 -0.0M440.2 234.3l3.6 -0.0M445.2 234.3l3.6 -0.0M450.1 234.3l3.6 -0.0M455.1 234.3l3.7 -0.0M460.0 234.3l3.7 -0.0M465.0 234.3l3.7 -0.0M469.9 234.3l3.7 -0.0M474.8 234.3l3.7 -0.0M479.8 234.3l3.7 -0.0M484.7 234.3l3.8 -0.0M489.7 234.6l3.8 -0.5M494.9 235.5l3.1 -2.4M500.4 236.1l2.1 -3.6M505.7 236.4l1.4 -4.1M510.8 236.5l1.0 -4.4M516.0 236.2l0.6 -3.7M410.7 231.0l3.2 -0.0M415.7 231.0l3.3 -0.0M420.6 231.0l3.3 -0.0M425.5 231.0l3.4 -0.0M430.5 231.0l3.4 -0.0M435.4 231.0l3.4 -0.0M440.3 231.0l3.4 -0.0M445.3 231.0l3.5 -0.0M450.2 231.0l3.5 -0.0M455.2 231.0l3.5 -0.0M460.1 231.0l3.5 -0.0M465.0 231.0l3.5 -0.0M470.0 231.0l3.5 -0.0M474.9 231.0l3.6 -0.0M479.9 231.0l3.6 -0.0M484.8 231.0l3.6 -0.0M489.8 231.4l3.6 -0.8M495.3 232.5l2.3 -3.1M500.8 232.9l1.3 -3.9M506.0 233.1l0.8 -4.3M511.1 233.2l0.6 -4.5M516.1 232.9l0.4 -3.8M430.5 227.7l3.2 -0.0M435.5 227.7l3.2 -0.0M440.4 227.7l3.2 -0.0M445.4 227.7l3.3 -0.0M450.3 227.7l3.3 -0.0M455.2 227.7l3.3 -0.0M460.2 227.7l3.3 -0.0M465.1 227.7l3.3 -0.0M470.1 227.7l3.4 -0.0M475.0 227.7l3.4 -0.0M479.9 227.7l3.4 -0.0M484.9 227.7l3.4 -0.0M490.0 228.5l3.1 -1.7M495.9 229.5l1.2 -3.6M501.2 229.7l0.6 -4.0M506.2 229.9l0.4 -4.3M511.2 229.9l0.3 -4.5M516.2 229.6l0.2 -3.8M491.1 226.0l0.9 -3.2M496.4 226.3l0.2 -3.7M501.4 226.4l0.1 -4.0M506.4 226.6l0.1 -4.3M511.3 226.6l0.0 -4.5M516.3 226.3l0.0 -3.8M475.1 221.1l3.2 0.0M480.0 221.1l3.3 0.0M485.0 221.1l3.3 0.0M490.7 219.6l1.7 2.9M496.3 219.2l0.4 3.7M501.4 219.1l0.2 4.0M506.3 218.9l0.1 4.3M511.3 218.9l0.1 4.5M516.3 219.2l0.0 3.8M420.6 217.8l3.2 0.0M425.6 217.8l3.3 0.0M430.5 217.8l3.3 0.0M435.4 217.8l3.3 0.0M440.4 217.8l3.3 0.0M445.3 217.8l3.4 0.0M450.3 217.8l3.4 0.0M455.2 217.8l3.4 0.0M460.1 217.8l3.4 0.0M465.1 217.8l3.5 0.0M470.0 217.8l3.5 0.0M474.9 217.8l3.5 0.0M479.9 217.8l3.6 0.0M484.8 217.8l3.6 0.0M489.9 217.2l3.4 1.2M495.6 216.1l1.7 3.4M501.0 215.8l0.9 4.0M506.1 215.7l0.6 4.3M511.1 215.6l0.4 4.5M516.2 215.9l0.2 3.8M400.8 214.5l3.2 0.0M405.8 214.5l3.3 0.0M410.7 214.5l3.3 0.0M415.6 214.5l3.4 0.0M420.5 214.5l3.4 0.0M425.5 214.5l3.5 0.0M430.4 214.5l3.5 0.0M435.3 214.5l3.5 0.0M440.3 214.5l3.5 0.0M445.2 214.5l3.6 0.0M450.2 214.5l3.6 0.0M455.1 214.5l3.6 0.0M460.0 214.5l3.7 0.0M465.0 214.5l3.7 0.0M469.9 214.5l3.7 0.0M474.8 214.5l3.8 0.0M479.8 214.5l3.8 0.0M484.7 214.5l3.8 0.0M489.7 214.2l3.7 0.6M495.0 213.2l2.9 2.6M500.5 212.7l1.8 3.7M505.8 212.4l1.2 4.2M510.9 212.3l0.9 4.4M516.0 212.6l0.5 3.7M395.9 211.2l3.3 0.0M400.8 211.2l3.4 0.0M405.7 211.2l3.5 0.0M410.6 211.2l3.5 0.0M415.5 211.2l3.6 0.0M420.5 211.2l3.6 0.0M425.4 211.2l3.6 0.0M430.3 211.2l3.7 0.0M435.2 211.2l3.7 0.0M440.2 211.2l3.7 0.0M445.1 211.2l3.8 0.0M450.1 211.2l3.8 0.0M455.0 211.2l3.8 0.0M459.9 211.2l3.8 0.0M464.9 211.2l3.9 0.0M469.8 211.2l3.9 0.0M474.7 211.2l4.0 0.0M479.7 211.2l4.0 0.0M484.6 211.2l4.0 0.0M489.6 211.0l4.0 0.4M494.7 210.3l3.6 1.9M500.1 209.6l2.7 3.2M505.4 209.2l2.0 4.0M510.6 209.0l1.4 4.3M515.9 209.4l0.9 3.7M386.0 207.9l3.2 -0.1M390.9 207.9l3.3 0.0M395.8 207.9l3.4 0.0M400.7 207.9l3.5 0.0M405.6 207.9l3.6 0.0M410.5 207.9l3.7 0.0M415.4 207.9l3.7 0.0M420.4 207.9l3.8 0.0M425.3 207.9l3.8 0.0M430.2 207.9l3.8 0.0M435.2 207.9l3.9 0.0M440.1 207.9l3.9 0.0M445.0 207.9l3.9 0.0M450.0 207.9l4.0 0.0M454.9 207.9l4.0 0.0M459.8 207.9l4.0 0.0M464.8 207.9l4.1 0.0M469.7 207.9l4.1 0.0M474.6 207.9l4.2 0.0M479.6 207.9l4.2 0.0M484.5 207.9l4.2 0.0M489.5 207.8l4.2 0.3M494.5 207.2l4.0 1.4M499.8 206.6l3.4 2.7M505.1 206.1l2.7 3.6M510.3 205.8l2.0 4.1M515.7 206.1l1.3 3.6M381.0 204.7l3.3 -0.2M385.9 204.6l3.4 -0.1M390.8 204.6l3.5 0.0M395.7 204.6l3.6 0.0M400.6 204.6l3.7 0.0M405.5 204.6l3.8 0.0M410.4 204.6l3.8 0.0M415.4 204.6l3.9 0.0M420.3 204.6l3.9 0.0M425.2 204.6l4.0 0.0M430.1 204.6l4.0 0.0M435.1 204.6l4.0 0.0M440.0 204.6l4.1 0.0M444.9 204.6l4.1 0.0M449.9 204.6l4.1 0.0M454.8 204.6l4.2 0.0M459.8 204.6l4.2 0.0M464.7 204.6l4.2 0.0M469.6 204.6l4.3 0.0M474.5 204.6l4.3 0.0M479.5 204.6l4.3 0.0M484.4 204.6l4.3 0.0M489.4 204.5l4.3 0.2M494.4 204.1l4.2 1.1M499.5 203.5l3.9 2.2M504.8 203.0l3.3 3.2M510.1 202.7l2.6 3.8M515.4 202.9l1.7 3.5M376.1 201.4l3.3 -0.3M381.0 201.4l3.4 -0.1M385.9 201.3l3.5 -0.0M390.8 201.3l3.6 0.0M395.6 201.3l3.7 0.0M400.5 201.3l3.8 0.0M405.5 201.3l3.9 0.0M410.4 201.3l4.0 0.0M415.3 201.3l4.0 0.0M420.2 201.3l4.1 0.0M425.1 201.3l4.1 0.0M430.1 201.3l4.2 0.0M435.0 201.3l4.2 0.0M439.9 201.3l4.2 0.0M444.9 201.3l4.3 0.0M449.8 201.3l4.3 0.0M454.7 201.3l4.3 0.0M459.7 201.3l4.4 0.0M464.6 201.3l4.4 0.0M469.5 201.3l4.5 0.0M474.5 201.3l4.5 0.0M479.4 201.3l4.5 0.0M484.4 201.3l4.5 0.0M489.3 201.2l4.5 0.2M494.3 200.9l4.4 0.9M499.4 200.4l4.2 1.9M504.6 199.9l3.7 2.8M509.8 199.6l3.0 3.5M515.2 199.6l2.1 3.3M376.0 198.1l3.4 -0.2M380.9 198.1l3.5 -0.1M385.8 198.0l3.6 -0.0M390.7 198.0l3.7 0.0M395.6 198.0l3.8 0.0M400.5 198.0l3.9 0.0M405.4 198.0l4.0 0.0M410.3 198.0l4.1 0.0M415.2 198.0l4.2 0.0M420.1 198.0l4.2 0.0M425.1 198.0l4.3 0.0M430.0 198.0l4.3 0.0M434.9 198.0l4.3 0.0M439.9 198.0l4.4 0.0M444.8 198.0l4.4 0.0M449.7 198.0l4.4 0.0M454.7 198.0l4.5 0.0M459.6 198.0l4.5 0.0M464.5 198.0l4.5 0.0M469.5 198.0l4.6 0.0M474.4 198.0l4.6 0.0M479.4 198.0l4.6 0.0M484.3 198.0l4.6 0.0M489.3 197.9l4.6 0.1M494.2 197.6l4.5 0.7M499.3 197.2l4.3 1.5M504.4 196.8l3.9 2.4M509.6 196.5l3.4 3.1M515.1 196.5l2.5 3.1M371.1 194.8l3.3 -0.3M376.0 194.8l3.5 -0.2M380.8 194.8l3.6 -0.1M385.7 194.7l3.7 -0.0M390.6 194.7l3.8 0.0M395.5 194.7l4.0 0.0M400.4 194.7l4.1 0.0M405.3 194.7l4.2 0.0M410.2 194.7l4.2 0.0M415.2 194.7l4.3 0.0M420.1 194.7l4.3 0.0M425.0 194.7l4.4 0.0M429.9 194.7l4.4 0.0M434.9 194.7l4.5 0.0M439.8 194.7l4.5 0.0M444.7 194.7l4.6 0.0M449.7 194.7l4.6 0.0M454.6 194.7l4.6 0.0M459.6 194.7l4.6 0.0M464.5 194.7l4.6 0.0M469.5 194.7l4.6 0.0M474.4 194.7l4.6 0.0M479.4 194.7l4.6 0.0M484.3 194.7l4.6 0.0M489.3 194.6l4.6 0.1M494.2 194.4l4.6 0.6M499.2 194.1l4.4 1.3M504.3 193.7l4.1 2.0M509.5 193.3l3.7 2.7M514.9 193.3l2.7 2.8" stroke="#000" stroke-width="0.50" stroke-opacity="0.45" stroke-linecap="butt" fill="none"/><path d="M506.5 254.0l1.1 -0.6M511.5 254.0l1.0 -0.9M516.4 254.0l0.9 -1.1M372.9 250.8l1.3 -0.2M377.9 250.8l1.3 -0.1M382.8 250.8l1.3 -0.1M387.8 250.8l1.3 -0.0M392.7 250.8l1.3 -0.0M397.7 250.8l1.3 -0.0M402.6 250.8l1.3 -0.0M407.6 250.8l1.3 -0.0M412.5 250.8l1.3 -0.0M417.5 250.8l1.4 -0.0M422.4 250.8l1.4 -0.0M427.4 250.8l1.4 -0.0M432.3 250.8l1.4 -0.0M437.3 250.8l1.4 -0.0M442.2 250.8l1.4 -0.0M447.2 250.8l1.4 -0.0M452.1 250.8l1.4 -0.0M457.1 250.8l1.4 -0.0M462.0 250.8l1.4 -0.0M467.0 250.8l1.4 -0.0M471.9 250.8l1.4 -0.0M476.9 250.8l1.5 -0.0M481.8 250.8l1.5 -0.0M486.8 250.8l1.5 -0.0M491.7 250.8l1.5 -0.0M496.7 250.8l1.5 -0.3M501.6 250.7l1.4 -0.6M506.6 250.7l1.3 -0.9M511.5 250.7l1.2 -1.2M516.4 250.6l0.9 -1.3M377.9 247.5l1.3 -0.1M382.8 247.5l1.4 -0.1M387.8 247.5l1.4 -0.0M392.7 247.5l1.4 -0.0M397.7 247.5l1.4 -0.0M402.6 247.5l1.4 -0.0M407.6 247.5l1.4 -0.0M412.5 247.5l1.4 -0.0M417.5 247.5l1.4 -0.0M422.4 247.5l1.4 -0.0M427.4 247.5l1.5 -0.0M432.3 247.5l1.5 -0.0M437.3 247.5l1.5 -0.0M442.2 247.5l1.5 -0.0M447.2 247.5l1.5 -0.0M452.1 247.5l1.5 -0.0M457.1 247.5l1.5 -0.0M462.0 247.5l1.6 -0.0M467.0 247.5l1.6 -0.0M471.9 247.5l1.6 -0.0M476.9 247.5l1.6 -0.0M481.9 247.5l1.6 -0.0M486.8 247.5l1.6 -0.0M491.8 247.5l1.6 -0.1M496.7 247.5l1.6 -0.4M501.6 247.4l1.5 -0.8M506.6 247.4l1.3 -1.1M511.5 247.3l1.1 -1.4M516.4 247.3l0.8 -1.4M377.9 244.2l1.3 -0.2M382.8 244.2l1.3 -0.1M387.8 244.2l1.4 -0.0M392.7 244.2l1.4 -0.0M397.7 244.2l1.4 -0.0M402.6 244.2l1.5 -0.0M407.6 244.2l1.5 -0.0M412.5 244.2l1.5 -0.0M417.5 244.2l1.5 -0.0M422.4 244.2l1.5 -0.0M427.4 244.2l1.5 -0.0M432.3 244.2l1.5 -0.0M437.3 244.2l1.6 -0.0M442.2 244.2l1.6 -0.0M447.2 244.2l1.6 -0.0M452.1 244.2l1.6 -0.0M457.1 244.2l1.6 -0.0M462.1 244.2l1.6 -0.0M467.0 244.2l1.6 -0.0M472.0 244.2l1.6 -0.0M476.9 244.2l1.6 -0.0M481.9 244.2l1.6 -0.0M486.8 244.2l1.7 -0.0M491.8 244.2l1.7 -0.1M496.7 244.1l1.6 -0.4M501.6 244.1l1.5 -0.9M506.6 244.0l1.2 -1.3M511.5 244.0l1.0 -1.6M516.4 244.0l0.6 -1.4M382.8 240.9l1.3 -0.1M387.8 240.9l1.3 -0.0M392.7 240.9l1.4 -0.0M397.7 240.9l1.4 -0.0M402.6 240.9l1.4 -0.0M407.6 240.9l1.4 -0.0M412.5 240.9l1.5 -0.0M417.5 240.9l1.5 -0.0M422.4 240.9l1.5 -0.0M427.4 240.9l1.5 -0.0M432.3 240.9l1.5 -0.0M437.3 240.9l1.5 -0.0M442.2 240.9l1.5 -0.0M447.2 240.9l1.6 -0.0M452.1 240.9l1.6 -0.0M457.1 240.9l1.6 -0.0M462.0 240.9l1.6 -0.0M467.0 240.9l1.6 -0.0M471.9 240.9l1.6 -0.0M476.9 240.9l1.6 -0.0M481.9 240.9l1.6 -0.0M486.8 240.9l1.6 -0.0M491.8 240.9l1.6 -0.1M496.7 240.8l1.6 -0.6M501.6 240.8l1.3 -1.1M506.5 240.7l1.0 -1.4M511.4 240.7l0.8 -1.7M516.4 240.7l0.5 -1.5M392.7 237.6l1.3 -0.0M397.7 237.6l1.3 -0.0M402.6 237.6l1.4 -0.0M407.6 237.6l1.4 -0.0M412.5 237.6l1.4 -0.0M417.5 237.6l1.4 -0.0M422.4 237.6l1.4 -0.0M427.4 237.6l1.5 -0.0M432.3 237.6l1.5 -0.0M437.3 237.6l1.5 -0.0M442.2 237.6l1.5 -0.0M447.2 237.6l1.5 -0.0M452.1 237.6l1.5 -0.0M457.1 237.6l1.5 -0.0M462.0 237.6l1.5 -0.0M467.0 237.6l1.5 -0.0M471.9 237.6l1.5 -0.0M476.9 237.6l1.5 -0.0M481.8 237.6l1.6 -0.0M486.8 237.6l1.6 -0.0M491.7 237.6l1.6 -0.1M496.7 237.5l1.4 -0.7M501.6 237.4l1.1 -1.3M506.5 237.4l0.8 -1.6M511.4 237.4l0.6 -1.7M516.3 237.4l0.4 -1.5M397.7 234.3l1.3 -0.0M402.6 234.3l1.3 -0.0M407.6 234.3l1.3 -0.0M412.5 234.3l1.4 -0.0M417.5 234.3l1.4 -0.0M422.4 234.3l1.4 -0.0M427.4 234.3l1.4 -0.0M432.3 234.3l1.4 -0.0M437.3 234.3l1.4 -0.0M442.2 234.3l1.4 -0.0M447.2 234.3l1.4 -0.0M452.1 234.3l1.5 -0.0M457.1 234.3l1.5 -0.0M462.0 234.3l1.5 -0.0M467.0 234.3l1.5 -0.0M471.9 234.3l1.5 -0.0M476.9 234.3l1.5 -0.0M481.8 234.3l1.5 -0.0M486.8 234.3l1.5 -0.0M491.7 234.3l1.5 -0.2M496.7 234.2l1.2 -0.9M501.6 234.1l0.8 -1.4M506.5 234.1l0.6 -1.7M511.4 234.1l0.4 -1.8M516.3 234.1l0.2 -1.5M412.5 231.0l1.3 -0.0M417.5 231.0l1.3 -0.0M422.4 231.0l1.3 -0.0M427.4 231.0l1.3 -0.0M432.3 231.0l1.4 -0.0M437.3 231.0l1.4 -0.0M442.2 231.0l1.4 -0.0M447.2 231.0l1.4 -0.0M452.1 231.0l1.4 -0.0M457.1 231.0l1.4 -0.0M462.0 231.0l1.4 -0.0M467.0 231.0l1.4 -0.0M471.9 231.0l1.4 -0.0M476.9 231.0l1.4 -0.0M481.8 231.0l1.4 -0.0M486.8 231.0l1.4 -0.0M491.7 231.0l1.4 -0.3M496.6 230.8l0.9 -1.2M501.5 230.8l0.5 -1.5M506.4 230.8l0.3 -1.7M511.4 230.8l0.2 -1.8M516.3 230.8l0.1 -1.5M432.3 227.7l1.3 -0.0M437.3 227.7l1.3 -0.0M442.2 227.7l1.3 -0.0M447.2 227.7l1.3 -0.0M452.1 227.7l1.3 -0.0M457.1 227.7l1.3 -0.0M462.0 227.7l1.3 -0.0M467.0 227.7l1.3 -0.0M471.9 227.7l1.3 -0.0M476.9 227.7l1.4 -0.0M481.8 227.7l1.4 -0.0M486.8 227.7l1.4 -0.0M491.7 227.6l1.2 -0.7M496.6 227.5l0.5 -1.4M501.5 227.5l0.2 -1.6M506.4 227.5l0.1 -1.7M511.4 227.5l0.1 -1.8M516.3 227.5l0.1 -1.5M491.6 224.2l0.3 -1.3M496.5 224.2l0.1 -1.5M501.5 224.2l0.0 -1.6M506.4 224.2l0.0 -1.7M511.4 224.2l0.0 -1.8M516.3 224.2l0.0 -1.5M476.9 221.1l1.3 0.0M481.8 221.1l1.3 0.0M486.8 221.1l1.3 0.0M491.6 221.2l0.7 1.2M496.5 221.3l0.2 1.5M501.5 221.3l0.1 1.6M506.4 221.3l0.0 1.7M511.4 221.3l0.0 1.8M516.3 221.3l0.0 1.5M422.4 217.8l1.3 0.0M427.4 217.8l1.3 0.0M432.3 217.8l1.3 0.0M437.3 217.8l1.3 0.0M442.2 217.8l1.3 0.0M447.2 217.8l1.3 0.0M452.1 217.8l1.4 0.0M457.1 217.8l1.4 0.0M462.0 217.8l1.4 0.0M467.0 217.8l1.4 0.0M471.9 217.8l1.4 0.0M476.9 217.8l1.4 0.0M481.8 217.8l1.4 0.0M486.8 217.8l1.4 0.0M491.7 217.9l1.4 0.5M496.6 218.0l0.7 1.3M501.5 218.0l0.4 1.6M506.4 218.0l0.2 1.7M511.4 218.0l0.2 1.8M516.3 218.0l0.1 1.5M402.6 214.5l1.3 0.0M407.6 214.5l1.3 0.0M412.5 214.5l1.3 0.0M417.5 214.5l1.3 0.0M422.4 214.5l1.4 0.0M427.4 214.5l1.4 0.0M432.3 214.5l1.4 0.0M437.3 214.5l1.4 0.0M442.2 214.5l1.4 0.0M447.2 214.5l1.4 0.0M452.1 214.5l1.4 0.0M457.1 214.5l1.4 0.0M462.0 214.5l1.5 0.0M467.0 214.5l1.5 0.0M471.9 214.5l1.5 0.0M476.9 214.5l1.5 0.0M481.8 214.5l1.5 0.0M486.8 214.5l1.5 0.0M491.7 214.5l1.5 0.2M496.6 214.6l1.2 1.0M501.5 214.7l0.7 1.5M506.5 214.7l0.5 1.7M511.4 214.7l0.3 1.8M516.3 214.7l0.2 1.5M397.7 211.2l1.3 0.0M402.6 211.2l1.4 0.0M407.6 211.2l1.4 0.0M412.5 211.2l1.4 0.0M417.5 211.2l1.4 0.0M422.4 211.2l1.4 0.0M427.4 211.2l1.5 0.0M432.3 211.2l1.5 0.0M437.3 211.2l1.5 0.0M442.2 211.2l1.5 0.0M447.2 211.2l1.5 0.0M452.1 211.2l1.5 0.0M457.1 211.2l1.5 0.0M462.0 211.2l1.5 0.0M467.0 211.2l1.6 0.0M471.9 211.2l1.6 0.0M476.9 211.2l1.6 0.0M481.8 211.2l1.6 0.0M486.8 211.2l1.6 0.0M491.7 211.2l1.6 0.1M496.7 211.3l1.4 0.8M501.6 211.4l1.1 1.3M506.5 211.4l0.8 1.6M511.4 211.4l0.6 1.7M516.3 211.4l0.4 1.5M387.8 207.9l1.3 -0.0M392.7 207.9l1.3 0.0M397.7 207.9l1.4 0.0M402.6 207.9l1.4 0.0M407.6 207.9l1.4 0.0M412.5 207.9l1.5 0.0M417.5 207.9l1.5 0.0M422.4 207.9l1.5 0.0M427.4 207.9l1.5 0.0M432.3 207.9l1.5 0.0M437.3 207.9l1.6 0.0M442.2 207.9l1.6 0.0M447.2 207.9l1.6 0.0M452.1 207.9l1.6 0.0M457.1 207.9l1.6 0.0M462.1 207.9l1.6 0.0M467.0 207.9l1.6 0.0M472.0 207.9l1.6 0.0M476.9 207.9l1.7 0.0M481.9 207.9l1.7 0.0M486.8 207.9l1.7 0.0M491.8 207.9l1.7 0.1M496.7 208.0l1.6 0.6M501.6 208.0l1.4 1.1M506.5 208.1l1.1 1.4M511.5 208.1l0.8 1.7M516.4 208.1l0.5 1.4M382.8 204.6l1.3 -0.1M387.8 204.6l1.3 -0.0M392.7 204.6l1.4 0.0M397.7 204.6l1.4 0.0M402.6 204.6l1.5 0.0M407.6 204.6l1.5 0.0M412.5 204.6l1.5 0.0M417.5 204.6l1.5 0.0M422.4 204.6l1.6 0.0M427.4 204.6l1.6 0.0M432.4 204.6l1.6 0.0M437.3 204.6l1.6 0.0M442.3 204.6l1.6 0.0M447.2 204.6l1.6 0.0M452.2 204.6l1.7 0.0M457.1 204.6l1.7 0.0M462.1 204.6l1.7 0.0M467.0 204.6l1.7 0.0M472.0 204.6l1.7 0.0M476.9 204.6l1.7 0.0M481.9 204.6l1.7 0.0M486.8 204.6l1.7 0.0M491.8 204.6l1.7 0.1M496.7 204.7l1.7 0.4M501.6 204.7l1.5 0.9M506.6 204.8l1.3 1.3M511.5 204.8l1.0 1.5M516.4 204.8l0.7 1.4M377.9 201.3l1.3 -0.1M382.8 201.3l1.4 -0.1M387.8 201.3l1.4 -0.0M392.7 201.3l1.4 0.0M397.7 201.3l1.5 0.0M402.6 201.3l1.5 0.0M407.6 201.3l1.6 0.0M412.5 201.3l1.6 0.0M417.5 201.3l1.6 0.0M422.5 201.3l1.6 0.0M427.4 201.3l1.7 0.0M432.4 201.3l1.7 0.0M437.3 201.3l1.7 0.0M442.3 201.3l1.7 0.0M447.2 201.3l1.7 0.0M452.2 201.3l1.7 0.0M457.1 201.3l1.7 0.0M462.1 201.3l1.7 0.0M467.0 201.3l1.8 0.0M472.0 201.3l1.8 0.0M476.9 201.3l1.8 0.0M481.9 201.3l1.8 0.0M486.8 201.3l1.8 0.0M491.8 201.3l1.8 0.1M496.7 201.3l1.8 0.4M501.7 201.4l1.7 0.7M506.6 201.4l1.5 1.1M511.5 201.5l1.2 1.4M516.4 201.5l0.8 1.3M377.9 198.0l1.4 -0.1M382.8 198.0l1.4 -0.0M387.8 198.0l1.4 -0.0M392.7 198.0l1.5 0.0M397.7 198.0l1.5 0.0M402.6 198.0l1.6 0.0M407.6 198.0l1.6 0.0M412.6 198.0l1.6 0.0M417.5 198.0l1.7 0.0M422.5 198.0l1.7 0.0M427.4 198.0l1.7 0.0M432.4 198.0l1.7 0.0M437.3 198.0l1.7 0.0M442.3 198.0l1.7 0.0M447.2 198.0l1.8 0.0M452.2 198.0l1.8 0.0M457.1 198.0l1.8 0.0M462.1 198.0l1.8 0.0M467.0 198.0l1.8 0.0M472.0 198.0l1.8 0.0M476.9 198.0l1.8 0.0M481.9 198.0l1.8 0.0M486.8 198.0l1.8 0.0M491.8 198.0l1.8 0.1M496.7 198.0l1.8 0.3M501.7 198.1l1.7 0.6M506.6 198.1l1.6 1.0M511.5 198.2l1.4 1.2M516.4 198.2l1.0 1.2M372.9 194.7l1.3 -0.1M377.9 194.7l1.4 -0.1M382.8 194.7l1.4 -0.0M387.8 194.7l1.5 -0.0M392.7 194.7l1.5 0.0M397.7 194.7l1.6 0.0M402.7 194.7l1.6 0.0M407.6 194.7l1.7 0.0M412.6 194.7l1.7 0.0M417.5 194.7l1.7 0.0M422.5 194.7l1.7 0.0M427.4 194.7l1.8 0.0M432.4 194.7l1.8 0.0M437.3 194.7l1.8 0.0M442.3 194.7l1.8 0.0M447.2 194.7l1.8 0.0M452.2 194.7l1.8 0.0M457.1 194.7l1.8 0.0M462.1 194.7l1.8 0.0M467.0 194.7l1.8 0.0M472.0 194.7l1.8 0.0M476.9 194.7l1.8 0.0M481.9 194.7l1.8 0.0M486.8 194.7l1.8 0.0M491.8 194.7l1.8 0.0M496.7 194.7l1.8 0.2M501.7 194.8l1.8 0.5M506.6 194.8l1.6 0.8M511.5 194.8l1.5 1.1M516.4 194.8l1.1 1.1" stroke="#000" stroke-width="1.10" stroke-opacity="0.50" stroke-linecap="butt" fill="none"/></g><path d="M212 34.5Q219.6 35 219.6 42L219.6 96Q219.4 104.5 211 104.5" stroke="#000" stroke-opacity="0.55" stroke-width="0.9" fill="none"/><path d="M328.2 192L328 252Q328.5 255.5 333 256" stroke="#000" stroke-opacity="0.35" stroke-width="0.8" fill="none"/><path d="M506 33.8Q513.5 34.3 513.5 41L513.5 93Q513.3 101.6 505 101.6" stroke="#000" stroke-opacity="0.55" stroke-width="0.9" fill="none"/><polyline points="26.5,44.4 33.3,43.2 40.2,42.2 47.0,41.3 53.9,40.4 60.7,39.7 67.6,39.0 74.4,38.4 81.3,37.8 88.1,37.3 94.9,36.8 101.8,36.4 108.6,36.1 115.5,35.8 122.3,35.5 129.2,35.2 136.0,35.0 142.9,34.7 149.7,34.5 156.6,34.4 163.4,34.2 170.2,34.1 177.1,33.9 183.9,33.8 190.8,33.7 197.6,33.6 204.5,33.6 211.3,33.5 218.2,33.4 225.0,33.3" fill="none" stroke="#000" stroke-opacity="0.45" stroke-width="0.7"/><polyline points="326.0,42.9 332.6,41.8 339.3,40.8 345.9,39.9 352.6,39.1 359.2,38.3 365.9,37.6 372.5,37.0 379.2,36.5 385.8,36.0 392.5,35.6 399.1,35.2 405.8,34.8 412.4,34.5 419.1,34.2 425.7,34.0 432.4,33.7 439.0,33.5 445.7,33.3 452.3,33.2 459.0,33.0 465.6,32.9 472.3,32.7 478.9,32.6 485.6,32.5 492.2,32.4 498.9,32.4 505.5,32.3 512.2,32.2 518.8,32.2" fill="none" stroke="#000" stroke-opacity="0.45" stroke-width="0.7"/><path d="M37 44.3Q33 46 33 52L32 86Q31.6 99 35 103.5" stroke="#000" stroke-opacity="0.6" stroke-width="1.2" fill="none"/><path d="M337 42Q333 44 332.8 50L331.8 83Q331.4 96 334.5 100.8" stroke="#000" stroke-opacity="0.6" stroke-width="1.2" fill="none"/><line x1="26.7" y1="190.35" x2="225.3" y2="190.35" stroke="#2a2" stroke-opacity="0.55" stroke-width="0.6"/><line x1="29.7" y1="190.85" x2="223.3" y2="190.85" stroke="#000" stroke-opacity="0.45" stroke-width="0.9" stroke-dasharray="1.8 3.15"/><line x1="323.5" y1="190.95" x2="521.8" y2="190.95" stroke="#2a2" stroke-opacity="0.55" stroke-width="0.6"/><line x1="326.5" y1="191.45" x2="519.8" y2="191.45" stroke="#000" stroke-opacity="0.45" stroke-width="0.9" stroke-dasharray="1.8 3.15"/><path d="M42.2 43.0L49.9 42.3M45.9 41.8L49.6 41.0M42.0 42.3L49.2 39.8M45.3 40.3L48.7 38.6M41.6 41.6L48.0 37.5M44.2 38.9L47.1 36.5M41.1 41.0L46.1 35.5M42.9 37.8L45.0 34.8M40.4 40.6L43.7 34.1M41.2 37.0L42.4 33.6M39.6 40.4L41.1 33.3M39.5 36.7L39.7 33.1M38.8 40.3L38.3 33.1M37.6 36.8L36.9 33.3M38.0 40.5L35.6 33.6M35.9 37.4L34.3 34.1M37.2 40.8L33.0 34.8M34.4 38.3L31.9 35.5M36.6 41.3L30.9 36.5M33.2 39.5L30.0 37.5M36.2 41.9L29.3 38.6M32.4 41.0L28.8 39.8M35.9 42.6L28.4 41.0M32.0 42.7L28.1 42.3" stroke="#444" stroke-opacity="0.85" stroke-width="0.75" fill="none"/><path d="M342.9 40.5L350.6 39.9M346.6 39.4L350.3 38.6M342.7 39.8L349.9 37.4M345.9 37.8L349.4 36.2M342.3 39.1L348.6 35.1M344.9 36.4L347.8 34.1M341.7 38.5L346.7 33.2M343.5 35.4L345.6 32.4M341.0 38.1L344.4 31.8M341.9 34.6L343.1 31.3M340.2 37.9L341.7 31.0M340.1 34.3L340.3 30.8M339.4 37.8L338.9 30.8M338.2 34.4L337.5 31.0M338.6 38.0L336.1 31.3M336.5 34.9L334.8 31.8M337.8 38.3L333.6 32.4M335.0 35.9L332.5 33.2M337.2 38.8L331.4 34.1M333.7 37.1L330.6 35.1M336.7 39.4L329.8 36.2M332.9 38.6L329.3 37.4M336.4 40.1L328.9 38.6M332.5 40.2L328.6 39.9" stroke="#222" stroke-opacity="0.85" stroke-width="0.75" fill="none"/><line x1="26.2" y1="7.2" x2="26.2" y2="107.8" stroke="#333" stroke-width="0.8"/><line x1="26.5" y1="108.2" x2="225.0" y2="108.2" stroke="#333" stroke-width="0.6"/><line x1="24.2" y1="107.70" x2="26.5" y2="107.70" stroke="#333" stroke-width="0.7"/><text x="24.3" y="110.1" font-size="6.80" text-anchor="end" font-family="'Liberation Sans', Arial, sans-serif" fill="#222">0</text><line x1="24.2" y1="83.10" x2="26.5" y2="83.10" stroke="#333" stroke-width="0.7"/><text x="24.3" y="85.5" font-size="6.80" text-anchor="end" font-family="'Liberation Sans', Arial, sans-serif" fill="#222">0.02</text><line x1="24.2" y1="58.50" x2="26.5" y2="58.50" stroke="#333" stroke-width="0.7"/><text x="24.3" y="60.9" font-size="6.80" text-anchor="end" font-family="'Liberation Sans', Arial, sans-serif" fill="#222">0.04</text><line x1="24.2" y1="33.90" x2="26.5" y2="33.90" stroke="#333" stroke-width="0.7"/><text x="24.3" y="36.3" font-size="6.80" text-anchor="end" font-family="'Liberation Sans', Arial, sans-serif" fill="#222">0.06</text><line x1="24.2" y1="9.30" x2="26.5" y2="9.30" stroke="#333" stroke-width="0.7"/><text x="24.3" y="11.7" font-size="6.80" text-anchor="end" font-family="'Liberation Sans', Arial, sans-serif" fill="#222">0.08</text><line x1="26.5" y1="101.55" x2="27.8" y2="101.55" stroke="#333" stroke-width="0.6"/><line x1="26.5" y1="95.40" x2="27.8" y2="95.40" stroke="#333" stroke-width="0.6"/><line x1="26.5" y1="89.25" x2="27.8" y2="89.25" stroke="#333" stroke-width="0.6"/><line x1="26.5" y1="76.95" x2="27.8" y2="76.95" stroke="#333" stroke-width="0.6"/><line x1="26.5" y1="70.80" x2="27.8" y2="70.80" stroke="#333" stroke-width="0.6"/><line x1="26.5" y1="64.65" x2="27.8" y2="64.65" stroke="#333" stroke-width="0.6"/><line x1="26.5" y1="52.35" x2="27.8" y2="52.35" stroke="#333" stroke-width="0.6"/><line x1="26.5" y1="46.20" x2="27.8" y2="46.20" stroke="#333" stroke-width="0.6"/><line x1="26.5" y1="40.05" x2="27.8" y2="40.05" stroke="#333" stroke-width="0.6"/><line x1="26.5" y1="27.75" x2="27.8" y2="27.75" stroke="#333" stroke-width="0.6"/><line x1="26.5" y1="21.60" x2="27.8" y2="21.60" stroke="#333" stroke-width="0.6"/><line x1="26.5" y1="15.45" x2="27.8" y2="15.45" stroke="#333" stroke-width="0.6"/><line x1="51.50" y1="107.8" x2="51.50" y2="109.5" stroke="#333" stroke-width="0.7"/><text x="51.5" y="113.9" font-size="6.80" text-anchor="middle" font-family="'Liberation Sans', Arial, sans-serif" fill="#222">1</text><line x1="101.00" y1="107.8" x2="101.00" y2="109.5" stroke="#333" stroke-width="0.7"/><text x="101.0" y="113.9" font-size="6.80" text-anchor="middle" font-family="'Liberation Sans', Arial, sans-serif" fill="#222">1.2</text><line x1="150.50" y1="107.8" x2="150.50" y2="109.5" stroke="#333" stroke-width="0.7"/><text x="150.5" y="113.9" font-size="6.80" text-anchor="middle" font-family="'Liberation Sans', Arial, sans-serif" fill="#222">1.4</text><line x1="200.00" y1="107.8" x2="200.00" y2="109.5" stroke="#333" stroke-width="0.7"/><text x="200.0" y="113.9" font-size="6.80" text-anchor="middle" font-family="'Liberation Sans', Arial, sans-serif" fill="#222">1.6</text><line x1="39.12" y1="107.8" x2="39.12" y2="108.9" stroke="#333" stroke-width="0.5" stroke-opacity="0.7"/><line x1="63.88" y1="107.8" x2="63.88" y2="108.9" stroke="#333" stroke-width="0.5" stroke-opacity="0.7"/><line x1="76.25" y1="107.8" x2="76.25" y2="108.9" stroke="#333" stroke-width="0.5" stroke-opacity="0.7"/><line x1="88.62" y1="107.8" x2="88.62" y2="108.9" stroke="#333" stroke-width="0.5" stroke-opacity="0.7"/><line x1="113.38" y1="107.8" x2="113.38" y2="108.9" stroke="#333" stroke-width="0.5" stroke-opacity="0.7"/><line x1="125.75" y1="107.8" x2="125.75" y2="108.9" stroke="#333" stroke-width="0.5" stroke-opacity="0.7"/><line x1="138.13" y1="107.8" x2="138.13" y2="108.9" stroke="#333" stroke-width="0.5" stroke-opacity="0.7"/><line x1="162.88" y1="107.8" x2="162.88" y2="108.9" stroke="#333" stroke-width="0.5" stroke-opacity="0.7"/><line x1="175.25" y1="107.8" x2="175.25" y2="108.9" stroke="#333" stroke-width="0.5" stroke-opacity="0.7"/><line x1="187.62" y1="107.8" x2="187.62" y2="108.9" stroke="#333" stroke-width="0.5" stroke-opacity="0.7"/><line x1="212.37" y1="107.8" x2="212.37" y2="108.9" stroke="#333" stroke-width="0.5" stroke-opacity="0.7"/><rect x="234.20" y="105.30" width="6.70" height="2.75" fill="#000ac8"/><rect x="234.20" y="100.70" width="6.70" height="4.65" fill="#002de1"/><rect x="234.20" y="96.10" width="6.70" height="4.65" fill="#0050f0"/><rect x="234.20" y="91.50" width="6.70" height="4.65" fill="#008cfa"/><rect x="234.20" y="86.90" width="6.70" height="4.65" fill="#00befa"/><rect x="234.20" y="82.30" width="6.70" height="4.65" fill="#00e6f5"/><rect x="234.20" y="77.70" width="6.70" height="4.65" fill="#00f0d2"/><rect x="234.20" y="73.10" width="6.70" height="4.65" fill="#00f0a5"/><rect x="234.20" y="68.50" width="6.70" height="4.65" fill="#00ec78"/><rect x="234.20" y="63.90" width="6.70" height="4.65" fill="#00e846"/><rect x="234.20" y="59.30" width="6.70" height="4.65" fill="#0ae100"/><rect x="234.20" y="54.70" width="6.70" height="4.65" fill="#32e800"/><rect x="234.20" y="50.10" width="6.70" height="4.65" fill="#69ee00"/><rect x="234.20" y="45.50" width="6.70" height="4.65" fill="#a5f200"/><rect x="234.20" y="40.90" width="6.70" height="4.65" fill="#d7f600"/><rect x="234.20" y="36.30" width="6.70" height="4.65" fill="#fff000"/><rect x="234.20" y="31.70" width="6.70" height="4.65" fill="#ffcd00"/><rect x="234.20" y="27.10" width="6.70" height="4.65" fill="#ff9800"/><rect x="234.20" y="22.50" width="6.70" height="4.65" fill="#ff6900"/><rect x="234.20" y="17.90" width="6.70" height="4.65" fill="#f53200"/><rect x="234.20" y="15.40" width="6.70" height="2.55" fill="#e40500"/><line x1="234.20" y1="105.30" x2="240.90" y2="105.30" stroke="#000" stroke-opacity="0.3" stroke-width="0.5"/><line x1="234.20" y1="96.10" x2="240.90" y2="96.10" stroke="#000" stroke-opacity="0.3" stroke-width="0.5"/><line x1="234.20" y1="86.90" x2="240.90" y2="86.90" stroke="#000" stroke-opacity="0.3" stroke-width="0.5"/><line x1="234.20" y1="77.70" x2="240.90" y2="77.70" stroke="#000" stroke-opacity="0.3" stroke-width="0.5"/><line x1="234.20" y1="68.50" x2="240.90" y2="68.50" stroke="#000" stroke-opacity="0.3" stroke-width="0.5"/><line x1="234.20" y1="59.30" x2="240.90" y2="59.30" stroke="#000" stroke-opacity="0.3" stroke-width="0.5"/><line x1="234.20" y1="50.10" x2="240.90" y2="50.10" stroke="#000" stroke-opacity="0.3" stroke-width="0.5"/><line x1="234.20" y1="40.90" x2="240.90" y2="40.90" stroke="#000" stroke-opacity="0.3" stroke-width="0.5"/><line x1="234.20" y1="31.70" x2="240.90" y2="31.70" stroke="#000" stroke-opacity="0.3" stroke-width="0.5"/><line x1="234.20" y1="22.50" x2="240.90" y2="22.50" stroke="#000" stroke-opacity="0.3" stroke-width="0.5"/><text x="243.8" y="107.9" font-size="5.40" text-anchor="start" font-family="'Liberation Sans', Arial, sans-serif" fill="#333" textLength="9.3" lengthAdjust="spacingAndGlyphs">0.00</text><text x="243.8" y="98.7" font-size="5.40" text-anchor="start" font-family="'Liberation Sans', Arial, sans-serif" fill="#333" textLength="9.3" lengthAdjust="spacingAndGlyphs">0.04</text><text x="243.8" y="89.5" font-size="5.40" text-anchor="start" font-family="'Liberation Sans', Arial, sans-serif" fill="#333" textLength="9.3" lengthAdjust="spacingAndGlyphs">0.08</text><text x="243.8" y="80.3" font-size="5.40" text-anchor="start" font-family="'Liberation Sans', Arial, sans-serif" fill="#333" textLength="9.3" lengthAdjust="spacingAndGlyphs">0.12</text><text x="243.8" y="71.1" font-size="5.40" text-anchor="start" font-family="'Liberation Sans', Arial, sans-serif" fill="#333" textLength="9.3" lengthAdjust="spacingAndGlyphs">0.16</text><text x="243.8" y="61.9" font-size="5.40" text-anchor="start" font-family="'Liberation Sans', Arial, sans-serif" fill="#333" textLength="9.3" lengthAdjust="spacingAndGlyphs">0.21</text><text x="243.8" y="52.7" font-size="5.40" text-anchor="start" font-family="'Liberation Sans', Arial, sans-serif" fill="#333" textLength="9.3" lengthAdjust="spacingAndGlyphs">0.25</text><text x="243.8" y="43.5" font-size="5.40" text-anchor="start" font-family="'Liberation Sans', Arial, sans-serif" fill="#333" textLength="9.3" lengthAdjust="spacingAndGlyphs">0.29</text><text x="243.8" y="34.3" font-size="5.40" text-anchor="start" font-family="'Liberation Sans', Arial, sans-serif" fill="#333" textLength="9.3" lengthAdjust="spacingAndGlyphs">0.33</text><text x="243.8" y="25.1" font-size="5.40" text-anchor="start" font-family="'Liberation Sans', Arial, sans-serif" fill="#333" textLength="9.3" lengthAdjust="spacingAndGlyphs">0.37</text><text x="194.2" y="10.4" font-size="6.60" text-anchor="start" font-family="'Liberation Sans', Arial, sans-serif" font-weight="bold" fill="#111" textLength="58.8" lengthAdjust="spacingAndGlyphs">Total Velocity (m/s)</text><text x="8.2" y="85.6" font-size="6.40" text-anchor="start" font-family="'Liberation Sans', Arial, sans-serif" font-weight="bold" fill="#111" textLength="59.6" lengthAdjust="spacingAndGlyphs" transform="rotate(-90 8.2 85.6)">Vertical Distance (m)</text><text x="97.7" y="120.6" font-size="6.40" text-anchor="start" font-family="'Liberation Sans', Arial, sans-serif" font-weight="bold" fill="#111" textLength="57.7" lengthAdjust="spacingAndGlyphs">Lateral Distance (m)</text><line x1="40.0" y1="20.9" x2="62.5" y2="20.9" stroke="#111" stroke-width="1.1"/><path d="M65.5 20.9L61.0 19.0L61.0 22.8Z" fill="#111"/><text x="69.1" y="23.5" font-size="6.60" text-anchor="start" font-family="'Liberation Sans', Arial, sans-serif" font-weight="bold" fill="#111" textLength="22.9" lengthAdjust="spacingAndGlyphs">0.1 m/s</text><text x="125.4" y="138.6" font-size="14.6" text-anchor="middle" font-family="'Liberation Serif', 'Times New Roman', serif" fill="#000">(<tspan font-weight="bold">a</tspan>)</text><line x1="325.7" y1="6.0" x2="325.7" y2="104.8" stroke="#333" stroke-width="0.8"/><line x1="326.0" y1="105.2" x2="518.8" y2="105.2" stroke="#333" stroke-width="0.6"/><line x1="323.7" y1="104.80" x2="326.0" y2="104.80" stroke="#333" stroke-width="0.7"/><text x="323.8" y="107.2" font-size="6.60" text-anchor="end" font-family="'Liberation Sans', Arial, sans-serif" fill="#222">0</text><line x1="323.7" y1="80.80" x2="326.0" y2="80.80" stroke="#333" stroke-width="0.7"/><text x="323.8" y="83.2" font-size="6.60" text-anchor="end" font-family="'Liberation Sans', Arial, sans-serif" fill="#222">0.02</text><line x1="323.7" y1="56.80" x2="326.0" y2="56.80" stroke="#333" stroke-width="0.7"/><text x="323.8" y="59.2" font-size="6.60" text-anchor="end" font-family="'Liberation Sans', Arial, sans-serif" fill="#222">0.04</text><line x1="323.7" y1="32.80" x2="326.0" y2="32.80" stroke="#333" stroke-width="0.7"/><text x="323.8" y="35.2" font-size="6.60" text-anchor="end" font-family="'Liberation Sans', Arial, sans-serif" fill="#222">0.06</text><line x1="323.7" y1="8.80" x2="326.0" y2="8.80" stroke="#333" stroke-width="0.7"/><text x="323.8" y="11.2" font-size="6.60" text-anchor="end" font-family="'Liberation Sans', Arial, sans-serif" fill="#222">0.08</text><line x1="326.0" y1="98.80" x2="327.3" y2="98.80" stroke="#333" stroke-width="0.6"/><line x1="326.0" y1="92.80" x2="327.3" y2="92.80" stroke="#333" stroke-width="0.6"/><line x1="326.0" y1="86.80" x2="327.3" y2="86.80" stroke="#333" stroke-width="0.6"/><line x1="326.0" y1="74.80" x2="327.3" y2="74.80" stroke="#333" stroke-width="0.6"/><line x1="326.0" y1="68.80" x2="327.3" y2="68.80" stroke="#333" stroke-width="0.6"/><line x1="326.0" y1="62.80" x2="327.3" y2="62.80" stroke="#333" stroke-width="0.6"/><line x1="326.0" y1="50.80" x2="327.3" y2="50.80" stroke="#333" stroke-width="0.6"/><line x1="326.0" y1="44.80" x2="327.3" y2="44.80" stroke="#333" stroke-width="0.6"/><line x1="326.0" y1="38.80" x2="327.3" y2="38.80" stroke="#333" stroke-width="0.6"/><line x1="326.0" y1="26.80" x2="327.3" y2="26.80" stroke="#333" stroke-width="0.6"/><line x1="326.0" y1="20.80" x2="327.3" y2="20.80" stroke="#333" stroke-width="0.6"/><line x1="326.0" y1="14.80" x2="327.3" y2="14.80" stroke="#333" stroke-width="0.6"/><line x1="350.30" y1="104.8" x2="350.30" y2="106.5" stroke="#333" stroke-width="0.7"/><text x="350.3" y="111.1" font-size="6.60" text-anchor="middle" font-family="'Liberation Sans', Arial, sans-serif" fill="#222">1</text><line x1="398.40" y1="104.8" x2="398.40" y2="106.5" stroke="#333" stroke-width="0.7"/><text x="398.4" y="111.1" font-size="6.60" text-anchor="middle" font-family="'Liberation Sans', Arial, sans-serif" fill="#222">1.2</text><line x1="446.50" y1="104.8" x2="446.50" y2="106.5" stroke="#333" stroke-width="0.7"/><text x="446.5" y="111.1" font-size="6.60" text-anchor="middle" font-family="'Liberation Sans', Arial, sans-serif" fill="#222">1.4</text><line x1="494.60" y1="104.8" x2="494.60" y2="106.5" stroke="#333" stroke-width="0.7"/><text x="494.6" y="111.1" font-size="6.60" text-anchor="middle" font-family="'Liberation Sans', Arial, sans-serif" fill="#222">1.6</text><line x1="338.27" y1="104.8" x2="338.27" y2="105.9" stroke="#333" stroke-width="0.5" stroke-opacity="0.7"/><line x1="362.33" y1="104.8" x2="362.33" y2="105.9" stroke="#333" stroke-width="0.5" stroke-opacity="0.7"/><line x1="374.35" y1="104.8" x2="374.35" y2="105.9" stroke="#333" stroke-width="0.5" stroke-opacity="0.7"/><line x1="386.38" y1="104.8" x2="386.38" y2="105.9" stroke="#333" stroke-width="0.5" stroke-opacity="0.7"/><line x1="410.43" y1="104.8" x2="410.43" y2="105.9" stroke="#333" stroke-width="0.5" stroke-opacity="0.7"/><line x1="422.45" y1="104.8" x2="422.45" y2="105.9" stroke="#333" stroke-width="0.5" stroke-opacity="0.7"/><line x1="434.48" y1="104.8" x2="434.48" y2="105.9" stroke="#333" stroke-width="0.5" stroke-opacity="0.7"/><line x1="458.52" y1="104.8" x2="458.52" y2="105.9" stroke="#333" stroke-width="0.5" stroke-opacity="0.7"/><line x1="470.55" y1="104.8" x2="470.55" y2="105.9" stroke="#333" stroke-width="0.5" stroke-opacity="0.7"/><line x1="482.58" y1="104.8" x2="482.58" y2="105.9" stroke="#333" stroke-width="0.5" stroke-opacity="0.7"/><line x1="506.62" y1="104.8" x2="506.62" y2="105.9" stroke="#333" stroke-width="0.5" stroke-opacity="0.7"/><rect x="527.20" y="102.20" width="6.50" height="2.65" fill="#000ac8"/><rect x="527.20" y="97.72" width="6.50" height="4.53" fill="#002de1"/><rect x="527.20" y="93.23" width="6.50" height="4.53" fill="#0050f0"/><rect x="527.20" y="88.75" width="6.50" height="4.53" fill="#008cfa"/><rect x="527.20" y="84.26" width="6.50" height="4.53" fill="#00befa"/><rect x="527.20" y="79.78" width="6.50" height="4.53" fill="#00e6f5"/><rect x="527.20" y="75.29" width="6.50" height="4.54" fill="#00f0d2"/><rect x="527.20" y="70.81" width="6.50" height="4.53" fill="#00f0a5"/><rect x="527.20" y="66.32" width="6.50" height="4.54" fill="#00ec78"/><rect x="527.20" y="61.84" width="6.50" height="4.53" fill="#00e846"/><rect x="527.20" y="57.35" width="6.50" height="4.53" fill="#0ae100"/><rect x="527.20" y="52.87" width="6.50" height="4.53" fill="#32e800"/><rect x="527.20" y="48.38" width="6.50" height="4.54" fill="#69ee00"/><rect x="527.20" y="43.89" width="6.50" height="4.53" fill="#a5f200"/><rect x="527.20" y="39.41" width="6.50" height="4.53" fill="#d7f600"/><rect x="527.20" y="34.92" width="6.50" height="4.53" fill="#fff000"/><rect x="527.20" y="30.44" width="6.50" height="4.53" fill="#ffcd00"/><rect x="527.20" y="25.95" width="6.50" height="4.53" fill="#ff9800"/><rect x="527.20" y="21.47" width="6.50" height="4.53" fill="#ff6900"/><rect x="527.20" y="16.98" width="6.50" height="4.53" fill="#f53200"/><rect x="527.20" y="14.80" width="6.50" height="2.23" fill="#e40500"/><line x1="527.20" y1="102.20" x2="533.70" y2="102.20" stroke="#000" stroke-opacity="0.3" stroke-width="0.5"/><line x1="527.20" y1="93.23" x2="533.70" y2="93.23" stroke="#000" stroke-opacity="0.3" stroke-width="0.5"/><line x1="527.20" y1="84.26" x2="533.70" y2="84.26" stroke="#000" stroke-opacity="0.3" stroke-width="0.5"/><line x1="527.20" y1="75.29" x2="533.70" y2="75.29" stroke="#000" stroke-opacity="0.3" stroke-width="0.5"/><line x1="527.20" y1="66.32" x2="533.70" y2="66.32" stroke="#000" stroke-opacity="0.3" stroke-width="0.5"/><line x1="527.20" y1="57.35" x2="533.70" y2="57.35" stroke="#000" stroke-opacity="0.3" stroke-width="0.5"/><line x1="527.20" y1="48.38" x2="533.70" y2="48.38" stroke="#000" stroke-opacity="0.3" stroke-width="0.5"/><line x1="527.20" y1="39.41" x2="533.70" y2="39.41" stroke="#000" stroke-opacity="0.3" stroke-width="0.5"/><line x1="527.20" y1="30.44" x2="533.70" y2="30.44" stroke="#000" stroke-opacity="0.3" stroke-width="0.5"/><line x1="527.20" y1="21.47" x2="533.70" y2="21.47" stroke="#000" stroke-opacity="0.3" stroke-width="0.5"/><text x="536.7" y="104.6" font-size="5.30" text-anchor="start" font-family="'Liberation Sans', Arial, sans-serif" fill="#333" textLength="9.3" lengthAdjust="spacingAndGlyphs">0.00</text><text x="536.7" y="95.6" font-size="5.30" text-anchor="start" font-family="'Liberation Sans', Arial, sans-serif" fill="#333" textLength="9.3" lengthAdjust="spacingAndGlyphs">0.04</text><text x="536.7" y="86.6" font-size="5.30" text-anchor="start" font-family="'Liberation Sans', Arial, sans-serif" fill="#333" textLength="9.3" lengthAdjust="spacingAndGlyphs">0.08</text><text x="536.7" y="77.6" font-size="5.30" text-anchor="start" font-family="'Liberation Sans', Arial, sans-serif" fill="#333" textLength="9.3" lengthAdjust="spacingAndGlyphs">0.12</text><text x="536.7" y="68.6" font-size="5.30" text-anchor="start" font-family="'Liberation Sans', Arial, sans-serif" fill="#333" textLength="9.3" lengthAdjust="spacingAndGlyphs">0.16</text><text x="536.7" y="59.6" font-size="5.30" text-anchor="start" font-family="'Liberation Sans', Arial, sans-serif" fill="#333" textLength="9.3" lengthAdjust="spacingAndGlyphs">0.21</text><text x="536.7" y="50.6" font-size="5.30" text-anchor="start" font-family="'Liberation Sans', Arial, sans-serif" fill="#333" textLength="9.3" lengthAdjust="spacingAndGlyphs">0.25</text><text x="536.7" y="41.6" font-size="5.30" text-anchor="start" font-family="'Liberation Sans', Arial, sans-serif" fill="#333" textLength="9.3" lengthAdjust="spacingAndGlyphs">0.29</text><text x="536.7" y="32.6" font-size="5.30" text-anchor="start" font-family="'Liberation Sans', Arial, sans-serif" fill="#333" textLength="9.3" lengthAdjust="spacingAndGlyphs">0.33</text><text x="536.7" y="23.6" font-size="5.30" text-anchor="start" font-family="'Liberation Sans', Arial, sans-serif" fill="#333" textLength="9.3" lengthAdjust="spacingAndGlyphs">0.37</text><text x="491.4" y="8.0" font-size="6.40" text-anchor="start" font-family="'Liberation Sans', Arial, sans-serif" font-weight="bold" fill="#111" textLength="56.6" lengthAdjust="spacingAndGlyphs">Total Velocity (m/s)</text><text x="308.5" y="83.7" font-size="6.20" text-anchor="start" font-family="'Liberation Sans', Arial, sans-serif" font-weight="bold" fill="#111" textLength="56.8" lengthAdjust="spacingAndGlyphs" transform="rotate(-90 308.5 83.7)">Vertical Distance (m)</text><text x="394.8" y="116.8" font-size="6.20" text-anchor="start" font-family="'Liberation Sans', Arial, sans-serif" font-weight="bold" fill="#111" textLength="55.2" lengthAdjust="spacingAndGlyphs">Lateral Distance (m)</text><line x1="343.0" y1="17.7" x2="364.5" y2="17.7" stroke="#111" stroke-width="1.1"/><path d="M367.5 17.7L363.0 15.8L363.0 19.6Z" fill="#111"/><text x="372.0" y="20.1" font-size="6.40" text-anchor="start" font-family="'Liberation Sans', Arial, sans-serif" font-weight="bold" fill="#111" textLength="22.0" lengthAdjust="spacingAndGlyphs">0.1 m/s</text><text x="421.6" y="138.5" font-size="14.6" text-anchor="middle" font-family="'Liberation Serif', 'Times New Roman', serif" fill="#000">(<tspan font-weight="bold">b</tspan>)</text><line x1="26.4" y1="158.5" x2="26.4" y2="259.6" stroke="#333" stroke-width="0.8"/><line x1="26.7" y1="260.0" x2="225.3" y2="260.0" stroke="#333" stroke-width="0.6"/><line x1="24.4" y1="259.70" x2="26.7" y2="259.70" stroke="#333" stroke-width="0.7"/><text x="24.5" y="262.1" font-size="6.80" text-anchor="end" font-family="'Liberation Sans', Arial, sans-serif" fill="#222">0</text><line x1="24.4" y1="234.96" x2="26.7" y2="234.96" stroke="#333" stroke-width="0.7"/><text x="24.5" y="237.4" font-size="6.80" text-anchor="end" font-family="'Liberation Sans', Arial, sans-serif" fill="#222">0.02</text><line x1="24.4" y1="210.22" x2="26.7" y2="210.22" stroke="#333" stroke-width="0.7"/><text x="24.5" y="212.7" font-size="6.80" text-anchor="end" font-family="'Liberation Sans', Arial, sans-serif" fill="#222">0.04</text><line x1="24.4" y1="185.48" x2="26.7" y2="185.48" stroke="#333" stroke-width="0.7"/><text x="24.5" y="187.9" font-size="6.80" text-anchor="end" font-family="'Liberation Sans', Arial, sans-serif" fill="#222">0.06</text><line x1="24.4" y1="160.74" x2="26.7" y2="160.74" stroke="#333" stroke-width="0.7"/><text x="24.5" y="163.2" font-size="6.80" text-anchor="end" font-family="'Liberation Sans', Arial, sans-serif" fill="#222">0.08</text><line x1="26.7" y1="253.51" x2="28.0" y2="253.51" stroke="#333" stroke-width="0.6"/><line x1="26.7" y1="247.33" x2="28.0" y2="247.33" stroke="#333" stroke-width="0.6"/><line x1="26.7" y1="241.14" x2="28.0" y2="241.14" stroke="#333" stroke-width="0.6"/><line x1="26.7" y1="228.77" x2="28.0" y2="228.77" stroke="#333" stroke-width="0.6"/><line x1="26.7" y1="222.59" x2="28.0" y2="222.59" stroke="#333" stroke-width="0.6"/><line x1="26.7" y1="216.40" x2="28.0" y2="216.40" stroke="#333" stroke-width="0.6"/><line x1="26.7" y1="204.03" x2="28.0" y2="204.03" stroke="#333" stroke-width="0.6"/><line x1="26.7" y1="197.85" x2="28.0" y2="197.85" stroke="#333" stroke-width="0.6"/><line x1="26.7" y1="191.66" x2="28.0" y2="191.66" stroke="#333" stroke-width="0.6"/><line x1="26.7" y1="179.29" x2="28.0" y2="179.29" stroke="#333" stroke-width="0.6"/><line x1="26.7" y1="173.11" x2="28.0" y2="173.11" stroke="#333" stroke-width="0.6"/><line x1="26.7" y1="166.93" x2="28.0" y2="166.93" stroke="#333" stroke-width="0.6"/><line x1="26.70" y1="259.6" x2="26.70" y2="261.3" stroke="#333" stroke-width="0.7"/><text x="26.7" y="266.8" font-size="6.80" text-anchor="middle" font-family="'Liberation Sans', Arial, sans-serif" fill="#222">1.6</text><line x1="76.36" y1="259.6" x2="76.36" y2="261.3" stroke="#333" stroke-width="0.7"/><text x="76.4" y="266.8" font-size="6.80" text-anchor="middle" font-family="'Liberation Sans', Arial, sans-serif" fill="#222">1.8</text><line x1="126.02" y1="259.6" x2="126.02" y2="261.3" stroke="#333" stroke-width="0.7"/><text x="126.0" y="266.8" font-size="6.80" text-anchor="middle" font-family="'Liberation Sans', Arial, sans-serif" fill="#222">2</text><line x1="175.68" y1="259.6" x2="175.68" y2="261.3" stroke="#333" stroke-width="0.7"/><text x="175.7" y="266.8" font-size="6.80" text-anchor="middle" font-family="'Liberation Sans', Arial, sans-serif" fill="#222">2.2</text><line x1="225.34" y1="259.6" x2="225.34" y2="261.3" stroke="#333" stroke-width="0.7"/><text x="225.3" y="266.8" font-size="6.80" text-anchor="middle" font-family="'Liberation Sans', Arial, sans-serif" fill="#222">2.4</text><line x1="39.12" y1="259.6" x2="39.12" y2="260.7" stroke="#333" stroke-width="0.5" stroke-opacity="0.7"/><line x1="51.53" y1="259.6" x2="51.53" y2="260.7" stroke="#333" stroke-width="0.5" stroke-opacity="0.7"/><line x1="63.94" y1="259.6" x2="63.94" y2="260.7" stroke="#333" stroke-width="0.5" stroke-opacity="0.7"/><line x1="88.78" y1="259.6" x2="88.78" y2="260.7" stroke="#333" stroke-width="0.5" stroke-opacity="0.7"/><line x1="101.19" y1="259.6" x2="101.19" y2="260.7" stroke="#333" stroke-width="0.5" stroke-opacity="0.7"/><line x1="113.61" y1="259.6" x2="113.61" y2="260.7" stroke="#333" stroke-width="0.5" stroke-opacity="0.7"/><line x1="138.44" y1="259.6" x2="138.44" y2="260.7" stroke="#333" stroke-width="0.5" stroke-opacity="0.7"/><line x1="150.85" y1="259.6" x2="150.85" y2="260.7" stroke="#333" stroke-width="0.5" stroke-opacity="0.7"/><line x1="163.27" y1="259.6" x2="163.27" y2="260.7" stroke="#333" stroke-width="0.5" stroke-opacity="0.7"/><line x1="188.09" y1="259.6" x2="188.09" y2="260.7" stroke="#333" stroke-width="0.5" stroke-opacity="0.7"/><line x1="200.51" y1="259.6" x2="200.51" y2="260.7" stroke="#333" stroke-width="0.5" stroke-opacity="0.7"/><line x1="212.93" y1="259.6" x2="212.93" y2="260.7" stroke="#333" stroke-width="0.5" stroke-opacity="0.7"/><rect x="234.70" y="257.30" width="6.10" height="2.35" fill="#000ac8"/><rect x="234.70" y="252.70" width="6.10" height="4.65" fill="#002de1"/><rect x="234.70" y="248.10" width="6.10" height="4.65" fill="#0050f0"/><rect x="234.70" y="243.50" width="6.10" height="4.65" fill="#008cfa"/><rect x="234.70" y="238.90" width="6.10" height="4.65" fill="#00befa"/><rect x="234.70" y="234.30" width="6.10" height="4.65" fill="#00e6f5"/><rect x="234.70" y="229.70" width="6.10" height="4.65" fill="#00f0d2"/><rect x="234.70" y="225.10" width="6.10" height="4.65" fill="#00f0a5"/><rect x="234.70" y="220.50" width="6.10" height="4.65" fill="#00ec78"/><rect x="234.70" y="215.90" width="6.10" height="4.65" fill="#00e846"/><rect x="234.70" y="211.30" width="6.10" height="4.65" fill="#0ae100"/><rect x="234.70" y="206.70" width="6.10" height="4.65" fill="#32e800"/><rect x="234.70" y="202.10" width="6.10" height="4.65" fill="#69ee00"/><rect x="234.70" y="197.50" width="6.10" height="4.65" fill="#a5f200"/><rect x="234.70" y="192.90" width="6.10" height="4.65" fill="#d7f600"/><rect x="234.70" y="188.30" width="6.10" height="4.65" fill="#fff000"/><rect x="234.70" y="183.70" width="6.10" height="4.65" fill="#ffcd00"/><rect x="234.70" y="179.10" width="6.10" height="4.65" fill="#ff9800"/><rect x="234.70" y="174.50" width="6.10" height="4.65" fill="#ff6900"/><rect x="234.70" y="169.90" width="6.10" height="4.65" fill="#f53200"/><rect x="234.70" y="167.70" width="6.10" height="2.25" fill="#e40500"/><line x1="234.70" y1="257.30" x2="240.80" y2="257.30" stroke="#000" stroke-opacity="0.3" stroke-width="0.5"/><line x1="234.70" y1="248.10" x2="240.80" y2="248.10" stroke="#000" stroke-opacity="0.3" stroke-width="0.5"/><line x1="234.70" y1="238.90" x2="240.80" y2="238.90" stroke="#000" stroke-opacity="0.3" stroke-width="0.5"/><line x1="234.70" y1="229.70" x2="240.80" y2="229.70" stroke="#000" stroke-opacity="0.3" stroke-width="0.5"/><line x1="234.70" y1="220.50" x2="240.80" y2="220.50" stroke="#000" stroke-opacity="0.3" stroke-width="0.5"/><line x1="234.70" y1="211.30" x2="240.80" y2="211.30" stroke="#000" stroke-opacity="0.3" stroke-width="0.5"/><line x1="234.70" y1="202.10" x2="240.80" y2="202.10" stroke="#000" stroke-opacity="0.3" stroke-width="0.5"/><line x1="234.70" y1="192.90" x2="240.80" y2="192.90" stroke="#000" stroke-opacity="0.3" stroke-width="0.5"/><line x1="234.70" y1="183.70" x2="240.80" y2="183.70" stroke="#000" stroke-opacity="0.3" stroke-width="0.5"/><line x1="234.70" y1="174.50" x2="240.80" y2="174.50" stroke="#000" stroke-opacity="0.3" stroke-width="0.5"/><text x="243.9" y="259.9" font-size="5.40" text-anchor="start" font-family="'Liberation Sans', Arial, sans-serif" fill="#333" textLength="9.3" lengthAdjust="spacingAndGlyphs">0.00</text><text x="243.9" y="250.8" font-size="5.40" text-anchor="start" font-family="'Liberation Sans', Arial, sans-serif" fill="#333" textLength="9.3" lengthAdjust="spacingAndGlyphs">0.04</text><text x="243.9" y="241.6" font-size="5.40" text-anchor="start" font-family="'Liberation Sans', Arial, sans-serif" fill="#333" textLength="9.3" lengthAdjust="spacingAndGlyphs">0.07</text><text x="243.9" y="232.4" font-size="5.40" text-anchor="start" font-family="'Liberation Sans', Arial, sans-serif" fill="#333" textLength="9.3" lengthAdjust="spacingAndGlyphs">0.11</text><text x="243.9" y="223.2" font-size="5.40" text-anchor="start" font-family="'Liberation Sans', Arial, sans-serif" fill="#333" textLength="9.3" lengthAdjust="spacingAndGlyphs">0.15</text><text x="243.9" y="214.0" font-size="5.40" text-anchor="start" font-family="'Liberation Sans', Arial, sans-serif" fill="#333" textLength="9.3" lengthAdjust="spacingAndGlyphs">0.18</text><text x="243.9" y="204.8" font-size="5.40" text-anchor="start" font-family="'Liberation Sans', Arial, sans-serif" fill="#333" textLength="9.3" lengthAdjust="spacingAndGlyphs">0.22</text><text x="243.9" y="195.6" font-size="5.40" text-anchor="start" font-family="'Liberation Sans', Arial, sans-serif" fill="#333" textLength="9.3" lengthAdjust="spacingAndGlyphs">0.26</text><text x="243.9" y="186.4" font-size="5.40" text-anchor="start" font-family="'Liberation Sans', Arial, sans-serif" fill="#333" textLength="9.3" lengthAdjust="spacingAndGlyphs">0.29</text><text x="243.9" y="177.2" font-size="5.40" text-anchor="start" font-family="'Liberation Sans', Arial, sans-serif" fill="#333" textLength="9.3" lengthAdjust="spacingAndGlyphs">0.33</text><text x="195.4" y="163.0" font-size="6.60" text-anchor="start" font-family="'Liberation Sans', Arial, sans-serif" font-weight="bold" fill="#111" textLength="58.6" lengthAdjust="spacingAndGlyphs">Total Velocity (m/s)</text><text x="8.9" y="244.7" font-size="7.30" text-anchor="start" font-family="'Liberation Sans', Arial, sans-serif" font-weight="bold" fill="#111" textLength="70.9" lengthAdjust="spacingAndGlyphs" transform="rotate(-90 8.9 244.7)">Vertical Distance (m)</text><text x="91.7" y="273.8" font-size="7.40" text-anchor="start" font-family="'Liberation Sans', Arial, sans-serif" font-weight="bold" fill="#111" textLength="68.8" lengthAdjust="spacingAndGlyphs">Lateral Distance (m)</text><line x1="39.7" y1="168.8" x2="61.6" y2="168.8" stroke="#111" stroke-width="1.1"/><path d="M64.6 168.8L60.1 166.9L60.1 170.7Z" fill="#111"/><text x="68.8" y="171.4" font-size="6.60" text-anchor="start" font-family="'Liberation Sans', Arial, sans-serif" font-weight="bold" fill="#111" textLength="22.9" lengthAdjust="spacingAndGlyphs">0.1 m/s</text><text x="125.0" y="290.2" font-size="14.6" text-anchor="middle" font-family="'Liberation Serif', 'Times New Roman', serif" fill="#000">(<tspan font-weight="bold">c</tspan>)</text><line x1="323.2" y1="159.4" x2="323.2" y2="259.3" stroke="#333" stroke-width="0.8"/><line x1="323.5" y1="259.7" x2="521.8" y2="259.7" stroke="#333" stroke-width="0.6"/><line x1="321.2" y1="259.30" x2="323.5" y2="259.30" stroke="#333" stroke-width="0.7"/><text x="321.3" y="261.7" font-size="6.80" text-anchor="end" font-family="'Liberation Sans', Arial, sans-serif" fill="#222">0</text><line x1="321.2" y1="234.82" x2="323.5" y2="234.82" stroke="#333" stroke-width="0.7"/><text x="321.3" y="237.3" font-size="6.80" text-anchor="end" font-family="'Liberation Sans', Arial, sans-serif" fill="#222">0.02</text><line x1="321.2" y1="210.34" x2="323.5" y2="210.34" stroke="#333" stroke-width="0.7"/><text x="321.3" y="212.8" font-size="6.80" text-anchor="end" font-family="'Liberation Sans', Arial, sans-serif" fill="#222">0.04</text><line x1="321.2" y1="185.86" x2="323.5" y2="185.86" stroke="#333" stroke-width="0.7"/><text x="321.3" y="188.3" font-size="6.80" text-anchor="end" font-family="'Liberation Sans', Arial, sans-serif" fill="#222">0.06</text><line x1="321.2" y1="161.38" x2="323.5" y2="161.38" stroke="#333" stroke-width="0.7"/><text x="321.3" y="163.8" font-size="6.80" text-anchor="end" font-family="'Liberation Sans', Arial, sans-serif" fill="#222">0.08</text><line x1="323.5" y1="253.18" x2="324.8" y2="253.18" stroke="#333" stroke-width="0.6"/><line x1="323.5" y1="247.06" x2="324.8" y2="247.06" stroke="#333" stroke-width="0.6"/><line x1="323.5" y1="240.94" x2="324.8" y2="240.94" stroke="#333" stroke-width="0.6"/><line x1="323.5" y1="228.70" x2="324.8" y2="228.70" stroke="#333" stroke-width="0.6"/><line x1="323.5" y1="222.58" x2="324.8" y2="222.58" stroke="#333" stroke-width="0.6"/><line x1="323.5" y1="216.46" x2="324.8" y2="216.46" stroke="#333" stroke-width="0.6"/><line x1="323.5" y1="204.22" x2="324.8" y2="204.22" stroke="#333" stroke-width="0.6"/><line x1="323.5" y1="198.10" x2="324.8" y2="198.10" stroke="#333" stroke-width="0.6"/><line x1="323.5" y1="191.98" x2="324.8" y2="191.98" stroke="#333" stroke-width="0.6"/><line x1="323.5" y1="179.74" x2="324.8" y2="179.74" stroke="#333" stroke-width="0.6"/><line x1="323.5" y1="173.62" x2="324.8" y2="173.62" stroke="#333" stroke-width="0.6"/><line x1="323.5" y1="167.50" x2="324.8" y2="167.50" stroke="#333" stroke-width="0.6"/><line x1="323.50" y1="259.3" x2="323.50" y2="261.0" stroke="#333" stroke-width="0.7"/><text x="323.5" y="266.2" font-size="6.80" text-anchor="middle" font-family="'Liberation Sans', Arial, sans-serif" fill="#222">1.6</text><line x1="373.02" y1="259.3" x2="373.02" y2="261.0" stroke="#333" stroke-width="0.7"/><text x="373.0" y="266.2" font-size="6.80" text-anchor="middle" font-family="'Liberation Sans', Arial, sans-serif" fill="#222">1.8</text><line x1="422.54" y1="259.3" x2="422.54" y2="261.0" stroke="#333" stroke-width="0.7"/><text x="422.5" y="266.2" font-size="6.80" text-anchor="middle" font-family="'Liberation Sans', Arial, sans-serif" fill="#222">2</text><line x1="472.06" y1="259.3" x2="472.06" y2="261.0" stroke="#333" stroke-width="0.7"/><text x="472.1" y="266.2" font-size="6.80" text-anchor="middle" font-family="'Liberation Sans', Arial, sans-serif" fill="#222">2.2</text><line x1="521.58" y1="259.3" x2="521.58" y2="261.0" stroke="#333" stroke-width="0.7"/><text x="521.6" y="266.2" font-size="6.80" text-anchor="middle" font-family="'Liberation Sans', Arial, sans-serif" fill="#222">2.4</text><line x1="335.88" y1="259.3" x2="335.88" y2="260.4" stroke="#333" stroke-width="0.5" stroke-opacity="0.7"/><line x1="348.26" y1="259.3" x2="348.26" y2="260.4" stroke="#333" stroke-width="0.5" stroke-opacity="0.7"/><line x1="360.64" y1="259.3" x2="360.64" y2="260.4" stroke="#333" stroke-width="0.5" stroke-opacity="0.7"/><line x1="385.40" y1="259.3" x2="385.40" y2="260.4" stroke="#333" stroke-width="0.5" stroke-opacity="0.7"/><line x1="397.78" y1="259.3" x2="397.78" y2="260.4" stroke="#333" stroke-width="0.5" stroke-opacity="0.7"/><line x1="410.16" y1="259.3" x2="410.16" y2="260.4" stroke="#333" stroke-width="0.5" stroke-opacity="0.7"/><line x1="434.92" y1="259.3" x2="434.92" y2="260.4" stroke="#333" stroke-width="0.5" stroke-opacity="0.7"/><line x1="447.30" y1="259.3" x2="447.30" y2="260.4" stroke="#333" stroke-width="0.5" stroke-opacity="0.7"/><line x1="459.68" y1="259.3" x2="459.68" y2="260.4" stroke="#333" stroke-width="0.5" stroke-opacity="0.7"/><line x1="484.44" y1="259.3" x2="484.44" y2="260.4" stroke="#333" stroke-width="0.5" stroke-opacity="0.7"/><line x1="496.82" y1="259.3" x2="496.82" y2="260.4" stroke="#333" stroke-width="0.5" stroke-opacity="0.7"/><line x1="509.20" y1="259.3" x2="509.20" y2="260.4" stroke="#333" stroke-width="0.5" stroke-opacity="0.7"/><rect x="528.00" y="256.80" width="7.10" height="2.55" fill="#000ac8"/><rect x="528.00" y="252.20" width="7.10" height="4.65" fill="#002de1"/><rect x="528.00" y="247.60" width="7.10" height="4.65" fill="#0050f0"/><rect x="528.00" y="243.00" width="7.10" height="4.65" fill="#008cfa"/><rect x="528.00" y="238.40" width="7.10" height="4.65" fill="#00befa"/><rect x="528.00" y="233.80" width="7.10" height="4.65" fill="#00e6f5"/><rect x="528.00" y="229.20" width="7.10" height="4.65" fill="#00f0d2"/><rect x="528.00" y="224.60" width="7.10" height="4.65" fill="#00f0a5"/><rect x="528.00" y="220.00" width="7.10" height="4.65" fill="#00ec78"/><rect x="528.00" y="215.40" width="7.10" height="4.65" fill="#00e846"/><rect x="528.00" y="210.80" width="7.10" height="4.65" fill="#0ae100"/><rect x="528.00" y="206.20" width="7.10" height="4.65" fill="#32e800"/><rect x="528.00" y="201.60" width="7.10" height="4.65" fill="#69ee00"/><rect x="528.00" y="197.00" width="7.10" height="4.65" fill="#a5f200"/><rect x="528.00" y="192.40" width="7.10" height="4.65" fill="#d7f600"/><rect x="528.00" y="187.80" width="7.10" height="4.65" fill="#fff000"/><rect x="528.00" y="183.20" width="7.10" height="4.65" fill="#ffcd00"/><rect x="528.00" y="178.60" width="7.10" height="4.65" fill="#ff9800"/><rect x="528.00" y="174.00" width="7.10" height="4.65" fill="#ff6900"/><rect x="528.00" y="169.40" width="7.10" height="4.65" fill="#f53200"/><rect x="528.00" y="167.20" width="7.10" height="2.25" fill="#e40500"/><line x1="528.00" y1="256.80" x2="535.10" y2="256.80" stroke="#000" stroke-opacity="0.3" stroke-width="0.5"/><line x1="528.00" y1="247.60" x2="535.10" y2="247.60" stroke="#000" stroke-opacity="0.3" stroke-width="0.5"/><line x1="528.00" y1="238.40" x2="535.10" y2="238.40" stroke="#000" stroke-opacity="0.3" stroke-width="0.5"/><line x1="528.00" y1="229.20" x2="535.10" y2="229.20" stroke="#000" stroke-opacity="0.3" stroke-width="0.5"/><line x1="528.00" y1="220.00" x2="535.10" y2="220.00" stroke="#000" stroke-opacity="0.3" stroke-width="0.5"/><line x1="528.00" y1="210.80" x2="535.10" y2="210.80" stroke="#000" stroke-opacity="0.3" stroke-width="0.5"/><line x1="528.00" y1="201.60" x2="535.10" y2="201.60" stroke="#000" stroke-opacity="0.3" stroke-width="0.5"/><line x1="528.00" y1="192.40" x2="535.10" y2="192.40" stroke="#000" stroke-opacity="0.3" stroke-width="0.5"/><line x1="528.00" y1="183.20" x2="535.10" y2="183.20" stroke="#000" stroke-opacity="0.3" stroke-width="0.5"/><line x1="528.00" y1="174.00" x2="535.10" y2="174.00" stroke="#000" stroke-opacity="0.3" stroke-width="0.5"/><text x="537.9" y="259.5" font-size="5.40" text-anchor="start" font-family="'Liberation Sans', Arial, sans-serif" fill="#333" textLength="9.3" lengthAdjust="spacingAndGlyphs">0.00</text><text x="537.9" y="250.4" font-size="5.40" text-anchor="start" font-family="'Liberation Sans', Arial, sans-serif" fill="#333" textLength="9.3" lengthAdjust="spacingAndGlyphs">0.04</text><text x="537.9" y="241.2" font-size="5.40" text-anchor="start" font-family="'Liberation Sans', Arial, sans-serif" fill="#333" textLength="9.3" lengthAdjust="spacingAndGlyphs">0.07</text><text x="537.9" y="232.1" font-size="5.40" text-anchor="start" font-family="'Liberation Sans', Arial, sans-serif" fill="#333" textLength="9.3" lengthAdjust="spacingAndGlyphs">0.11</text><text x="537.9" y="222.9" font-size="5.40" text-anchor="start" font-family="'Liberation Sans', Arial, sans-serif" fill="#333" textLength="9.3" lengthAdjust="spacingAndGlyphs">0.15</text><text x="537.9" y="213.8" font-size="5.40" text-anchor="start" font-family="'Liberation Sans', Arial, sans-serif" fill="#333" textLength="9.3" lengthAdjust="spacingAndGlyphs">0.18</text><text x="537.9" y="204.6" font-size="5.40" text-anchor="start" font-family="'Liberation Sans', Arial, sans-serif" fill="#333" textLength="9.3" lengthAdjust="spacingAndGlyphs">0.22</text><text x="537.9" y="195.5" font-size="5.40" text-anchor="start" font-family="'Liberation Sans', Arial, sans-serif" fill="#333" textLength="9.3" lengthAdjust="spacingAndGlyphs">0.26</text><text x="537.9" y="186.3" font-size="5.40" text-anchor="start" font-family="'Liberation Sans', Arial, sans-serif" fill="#333" textLength="9.3" lengthAdjust="spacingAndGlyphs">0.29</text><text x="537.9" y="177.2" font-size="5.40" text-anchor="start" font-family="'Liberation Sans', Arial, sans-serif" fill="#333" textLength="9.3" lengthAdjust="spacingAndGlyphs">0.33</text><text x="486.7" y="157.5" font-size="6.60" text-anchor="start" font-family="'Liberation Sans', Arial, sans-serif" font-weight="bold" fill="#111" textLength="58.6" lengthAdjust="spacingAndGlyphs">Total Velocity (m/s)</text><text x="305.5" y="244.7" font-size="7.30" text-anchor="start" font-family="'Liberation Sans', Arial, sans-serif" font-weight="bold" fill="#111" textLength="70.6" lengthAdjust="spacingAndGlyphs" transform="rotate(-90 305.5 244.7)">Vertical Distance (m)</text><text x="387.6" y="272.0" font-size="7.40" text-anchor="start" font-family="'Liberation Sans', Arial, sans-serif" font-weight="bold" fill="#111" textLength="69.7" lengthAdjust="spacingAndGlyphs">Lateral Distance (m)</text><line x1="339.1" y1="169.8" x2="361.0" y2="169.8" stroke="#111" stroke-width="1.1"/><path d="M364.0 169.8L359.5 167.9L359.5 171.7Z" fill="#111"/><text x="368.2" y="172.4" font-size="6.60" text-anchor="start" font-family="'Liberation Sans', Arial, sans-serif" font-weight="bold" fill="#111" textLength="22.8" lengthAdjust="spacingAndGlyphs">0.1 m/s</text><text x="421.6" y="290.2" font-size="14.6" text-anchor="middle" font-family="'Liberation Serif', 'Times New Roman', serif" fill="#000">(<tspan font-weight="bold">d</tspan>)</text></svg></body></html>
